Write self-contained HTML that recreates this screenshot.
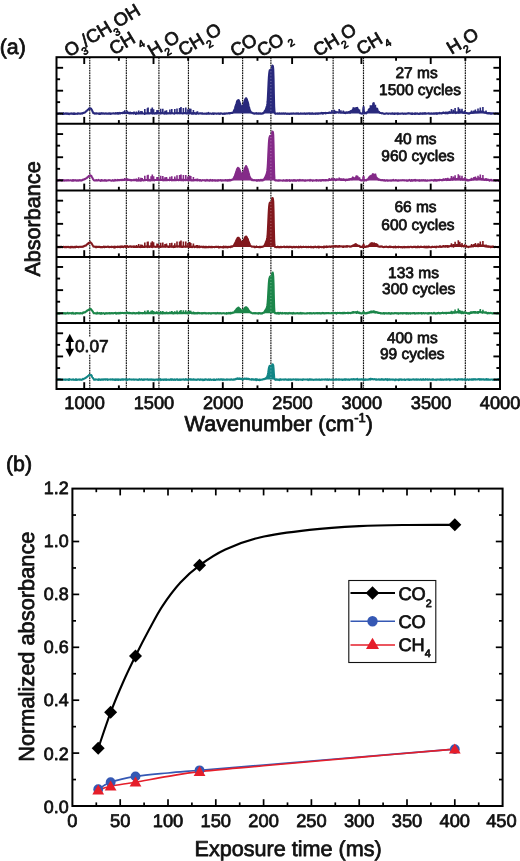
<!DOCTYPE html>
<html lang="en"><head><meta charset="utf-8"><title>Figure</title>
<style>html,body{margin:0;padding:0;background:#fff}svg{display:block}</style>
</head><body>
<svg width="520" height="861" viewBox="0 0 520 861" font-family='"Liberation Sans", Arial, Helvetica, sans-serif' fill="#111" text-rendering="geometricPrecision">
<style>text{stroke:#111;stroke-width:0.75px;stroke-linejoin:round}</style>
<rect width="520" height="861" fill="#fff"/>
<g stroke="#111" stroke-width="1.15" stroke-dasharray="1.8 0.7" fill="none">
<line x1="89.76" y1="57.2" x2="89.76" y2="389.0"/>
<line x1="126.35" y1="57.2" x2="126.35" y2="389.0"/>
<line x1="158.92" y1="57.2" x2="158.92" y2="389.0"/>
<line x1="188.44" y1="57.2" x2="188.44" y2="389.0"/>
<line x1="242.63" y1="57.2" x2="242.63" y2="389.0"/>
<line x1="270.90" y1="57.2" x2="270.90" y2="389.0"/>
<line x1="333.13" y1="57.2" x2="333.13" y2="389.0"/>
<line x1="363.49" y1="57.2" x2="363.49" y2="389.0"/>
<line x1="465.35" y1="57.2" x2="465.35" y2="389.0"/>
</g>
<path d="M118.7,113.6V112.8M120.7,113.4V112.2M123.5,112.9V111.6M124.8,112.6V110.3M127.1,113.0V110.5M130.3,113.3V111.8M131.5,113.2V112.0M133.3,113.6V113.0M134.1,113.3V111.6M136.4,113.4V111.5M138.7,113.6V110.4M140.9,113.5V111.0M142.2,113.6V111.3M144.8,113.6V108.9M147.4,113.5V108.2M148.1,113.0V107.4M151.1,113.2V108.8M152.3,113.1V107.6M153.6,113.4V109.2M157.0,113.2V109.9M158.1,113.3V110.3M160.7,112.9V108.8M162.8,113.0V108.7M165.0,113.4V110.7M166.5,113.4V110.3M169.9,113.2V109.6M171.8,113.1V108.9M174.8,113.0V109.0M177.0,113.3V108.4M179.6,113.2V108.1M181.0,113.2V107.0M183.4,113.4V108.0M185.8,113.0V107.5M187.9,113.1V109.2M189.7,113.5V108.5M190.8,113.1V108.7M193.4,113.6V110.1M196.4,113.5V111.8M197.5,113.4V111.3M200.1,113.4V112.5M202.4,113.6V112.9M204.3,113.6V113.1M206.0,113.6V112.9M322.4,113.6V113.1M324.1,113.3V112.8M326.5,113.1V112.3M329.3,112.9V111.7M331.9,112.8V110.0M334.3,112.3V109.7M335.5,112.5V110.8M339.2,112.3V109.1M340.9,112.4V110.3M343.3,112.8V110.6M345.4,113.2V111.7M348.5,112.2V111.4M350.4,112.2V111.1M353.3,109.3V107.3M356.2,109.3V107.0M359.5,112.3V109.4M367.6,112.0V110.9M370.4,108.9V105.2M372.7,108.1V105.1M375.4,107.5V104.8M378.4,111.8V110.7M438.7,113.4V112.9M441.4,113.4V112.6M443.6,113.0V111.6M445.9,112.9V111.5M447.8,113.4V111.7M451.4,112.2V109.0M453.3,112.4V109.7M455.1,112.4V108.0M458.3,112.5V107.3M459.8,112.5V108.7M462.0,111.9V108.7M464.8,112.6V110.6M469.0,113.6V113.1M471.6,112.8V110.5M473.9,112.6V110.5M475.4,112.2V109.6M478.0,112.0V108.6M480.3,112.0V107.6M482.9,111.5V107.0M486.0,112.4V110.6M487.8,113.5V112.5M490.8,113.4V113.0" fill="none" stroke="#29297c" stroke-width="1.6"/>
<path d="M56.5,113.5L56.8,113.4L57.1,113.6L57.4,113.9L57.7,113.6L58.0,113.8L58.3,113.5L58.6,113.8L58.9,113.4L59.2,113.5L59.5,113.2L59.8,113.5L60.1,113.4L60.4,113.7L60.7,113.7L61.0,113.3L61.3,113.6L61.6,113.5L61.9,113.5L62.2,113.4L62.5,114.0L62.8,114.0L63.1,113.5L63.4,113.1L63.7,114.0L64.0,113.7L64.3,113.6L64.6,113.7L64.9,113.7L65.2,113.7L65.5,113.4L65.8,113.6L66.1,113.6L66.4,113.9L66.7,113.5L67.0,113.2L67.3,113.5L67.6,113.7L67.9,113.9L68.2,113.5L68.5,113.5L68.8,113.7L69.1,114.1L69.4,113.8L69.7,113.8L70.0,113.8L70.3,113.6L70.6,113.8L70.9,113.7L71.2,113.3L71.5,113.8L71.8,113.6L72.1,113.5L72.4,113.8L72.7,113.9L73.0,113.6L73.3,113.4L73.6,114.0L73.9,113.7L74.2,113.7L74.5,113.3L74.8,114.0L75.1,113.7L75.4,113.9L75.7,113.8L76.0,113.6L76.3,113.7L76.6,113.7L76.9,113.8L77.2,114.0L77.5,113.4L77.8,113.3L78.1,113.6L78.4,113.7L78.7,113.3L79.0,113.5L79.3,113.5L79.6,113.4L79.9,113.8L80.2,113.7L80.5,113.5L80.8,113.8L81.1,113.5L81.4,113.4L81.7,113.3L82.0,113.3L82.3,113.6L82.6,113.3L82.9,113.1L83.2,112.9L83.5,112.8L83.8,112.9L84.1,112.8L84.4,112.8L84.7,112.5L85.0,112.4L85.3,112.3L85.6,111.9L85.9,111.4L86.2,111.0L86.5,111.0L86.8,110.9L87.1,110.5L87.4,110.1L87.7,109.9L88.0,109.7L88.3,109.6L88.6,109.4L88.9,108.6L89.2,108.7L89.5,108.9L89.8,108.4L90.1,108.7L90.4,108.4L90.7,108.5L91.0,108.4L91.3,108.9L91.6,109.4L91.9,109.9L92.2,110.5L92.5,111.7L92.8,111.7L93.1,112.9L93.4,113.1L93.7,113.2L94.0,113.2L94.3,113.4L94.6,113.6L94.9,113.3L95.2,113.6L95.5,113.6L95.8,113.4L96.1,113.8L96.4,113.2L96.7,113.3L97.0,113.6L97.3,113.6L97.6,113.6L97.9,113.5L98.2,113.5L98.5,113.8L98.8,113.8L99.1,113.4L99.4,113.9L99.7,113.8L100.0,113.4L100.3,113.9L100.6,113.5L100.9,113.4L101.2,113.1L101.5,113.3L101.8,113.6L102.1,113.8L102.4,113.3L102.7,113.3L103.0,113.3L103.3,113.3L103.6,113.6L103.9,113.7L104.2,113.8L104.5,113.5L104.8,113.4L105.1,113.7L105.4,113.6L105.7,113.4L106.0,113.3L106.3,113.7L106.6,113.6L106.9,113.8L107.2,113.8L107.5,113.4L107.8,113.4L108.1,113.7L108.4,113.6L108.7,113.7L109.0,113.2L109.3,113.7L109.6,113.7L109.9,113.8L110.2,113.4L110.5,113.7L110.8,114.0L111.1,113.5L111.4,113.5L111.7,113.6L112.0,113.5L112.3,113.5L112.6,113.5L112.9,113.3L113.2,113.4L113.5,113.3L113.8,113.4L114.1,113.4L114.4,113.5L114.7,113.5L115.0,113.7L115.3,113.2L115.6,113.0L115.9,113.5L116.2,113.6L116.5,113.3L116.8,113.5L117.1,113.2L117.4,113.7L117.7,113.0L118.0,113.0L118.3,113.2L118.6,113.7L118.9,113.3L119.2,112.9L119.5,113.2L119.8,113.4L120.1,113.2L120.4,113.2L120.7,113.4L121.0,113.1L121.3,112.9L121.6,112.9L121.9,112.9L122.2,113.0L122.5,113.2L122.8,113.0L123.1,112.6L123.4,112.9L123.7,112.8L124.0,113.2L124.3,112.7L124.6,112.9L124.9,112.6L125.2,113.0L125.5,113.0L125.8,113.0L126.1,113.1L126.4,113.0L126.7,112.9L127.0,113.0L127.3,112.9L127.6,112.6L127.9,112.9L128.2,112.9L128.5,113.1L128.8,112.6L129.1,113.2L129.4,113.5L129.7,113.0L130.0,113.0L130.3,113.3L130.6,112.8L130.9,113.5L131.2,113.5L131.5,113.2L131.8,113.3L132.1,113.3L132.4,113.1L132.7,113.3L133.0,113.0L133.3,113.6L133.6,113.2L133.9,112.9L134.2,113.3L134.5,113.2L134.8,113.1L135.1,113.3L135.4,113.4L135.7,113.9L136.0,113.5L136.3,113.2L136.6,113.4L136.9,113.6L137.2,113.3L137.5,113.4L137.8,113.3L138.1,113.4L138.4,113.3L138.7,113.6L139.0,113.0L139.3,113.3L139.6,113.5L139.9,113.3L140.2,113.4L140.5,113.4L140.8,113.5L141.1,113.5L141.4,113.5L141.7,113.5L142.0,113.3L142.3,113.6L142.6,113.5L142.9,113.4L143.2,113.6L143.5,113.4L143.8,113.4L144.1,113.4L144.4,113.4L144.7,114.0L145.0,113.4L145.3,113.3L145.6,113.5L145.9,113.2L146.2,113.4L146.5,113.6L146.8,113.5L147.1,113.4L147.4,113.5L147.7,113.5L148.0,113.2L148.3,113.0L148.6,113.5L148.9,113.5L149.2,113.0L149.5,113.4L149.8,113.4L150.1,113.4L150.4,113.3L150.7,113.2L151.0,113.2L151.3,113.0L151.6,113.1L151.9,113.1L152.2,113.6L152.5,113.1L152.8,112.7L153.1,113.4L153.4,113.0L153.7,113.4L154.0,113.3L154.3,113.4L154.6,113.6L154.9,113.3L155.2,113.4L155.5,113.0L155.8,113.5L156.1,113.6L156.4,112.8L156.7,113.2L157.0,113.2L157.3,112.7L157.6,113.3L157.9,113.5L158.2,113.3L158.5,113.2L158.8,113.3L159.1,113.1L159.4,113.5L159.7,113.0L160.0,113.2L160.3,113.3L160.6,112.9L160.9,113.6L161.2,113.3L161.5,112.9L161.8,113.1L162.1,113.1L162.4,113.3L162.7,113.0L163.0,113.1L163.3,113.4L163.6,113.4L163.9,113.4L164.2,113.2L164.5,113.4L164.8,113.8L165.1,113.4L165.4,113.2L165.7,113.1L166.0,113.2L166.3,113.6L166.6,113.4L166.9,113.1L167.2,113.5L167.4,113.3L167.7,113.4L168.0,113.2L168.3,113.2L168.6,113.4L168.9,113.1L169.2,113.3L169.5,113.4L169.8,113.2L170.1,113.0L170.4,113.4L170.7,113.4L171.0,113.1L171.3,113.4L171.6,113.1L171.9,112.9L172.2,113.2L172.5,113.2L172.8,113.3L173.1,113.2L173.4,113.5L173.7,113.5L174.0,113.3L174.3,113.7L174.6,113.0L174.9,112.9L175.2,113.2L175.5,113.3L175.8,113.3L176.1,113.2L176.4,113.3L176.7,113.0L177.0,113.3L177.3,113.1L177.6,113.3L177.9,113.5L178.2,113.0L178.5,113.0L178.8,113.2L179.1,113.2L179.4,113.2L179.7,113.2L180.0,113.4L180.3,113.1L180.6,113.1L180.9,113.2L181.2,113.3L181.5,113.3L181.8,113.3L182.1,113.2L182.4,113.5L182.7,113.5L183.0,113.2L183.3,113.4L183.6,113.0L183.9,113.3L184.2,113.3L184.5,113.0L184.8,113.0L185.1,113.2L185.4,113.3L185.7,113.0L186.0,113.5L186.3,113.5L186.6,113.3L186.9,113.6L187.2,113.5L187.5,113.2L187.8,113.1L188.1,113.3L188.4,113.3L188.7,113.5L189.0,113.1L189.3,113.3L189.6,113.5L189.9,113.4L190.2,113.3L190.5,113.2L190.8,113.1L191.1,113.3L191.4,113.7L191.7,113.4L192.0,113.2L192.3,113.6L192.6,113.3L192.9,113.8L193.2,113.1L193.5,113.6L193.8,113.3L194.1,113.5L194.4,113.0L194.7,113.5L195.0,113.3L195.3,113.8L195.6,113.5L195.9,113.7L196.2,113.9L196.5,113.5L196.8,113.6L197.1,113.2L197.4,113.4L197.7,113.6L198.0,113.4L198.3,113.4L198.6,113.7L198.9,113.4L199.2,113.5L199.5,113.4L199.8,113.4L200.1,113.4L200.4,113.4L200.7,113.4L201.0,113.4L201.3,113.3L201.6,113.7L201.9,113.7L202.2,113.4L202.5,113.6L202.8,113.4L203.1,113.7L203.4,113.8L203.7,113.7L204.0,113.7L204.3,113.7L204.6,113.5L204.9,113.8L205.2,113.8L205.5,113.7L205.8,113.6L206.1,113.4L206.4,113.6L206.7,113.9L207.0,113.3L207.3,113.6L207.6,113.4L207.9,113.6L208.2,113.7L208.5,112.9L208.8,113.8L209.1,113.5L209.4,113.5L209.7,113.7L210.0,113.4L210.3,113.4L210.6,113.6L210.9,113.5L211.2,113.7L211.5,113.8L211.8,113.9L212.1,113.5L212.4,113.7L212.7,113.4L213.0,113.7L213.3,113.4L213.6,113.9L213.9,113.5L214.2,113.8L214.5,113.7L214.8,113.3L215.1,113.5L215.4,113.5L215.7,113.6L216.0,113.6L216.3,113.9L216.6,113.6L216.9,113.6L217.2,113.4L217.5,113.5L217.8,113.7L218.1,113.6L218.4,113.6L218.7,113.7L219.0,113.3L219.3,113.8L219.6,113.7L219.9,114.0L220.2,113.7L220.5,113.3L220.8,113.3L221.1,113.5L221.4,113.6L221.7,113.5L222.0,113.6L222.3,113.7L222.6,113.9L222.9,114.0L223.2,113.8L223.5,113.6L223.8,113.5L224.1,113.9L224.4,113.6L224.7,113.6L225.0,113.2L225.3,113.6L225.6,113.8L225.9,113.5L226.2,113.5L226.5,113.4L226.8,113.3L227.1,113.4L227.4,113.6L227.7,113.5L228.0,113.4L228.3,113.3L228.6,113.1L228.9,113.4L229.2,113.2L229.5,113.0L229.8,113.5L230.1,113.4L230.4,113.0L230.7,113.1L231.0,113.0L231.3,113.1L231.6,112.7L231.9,113.0L232.2,112.9L232.5,112.9L232.8,112.6L233.1,112.3L233.4,111.7L233.7,111.4L234.0,110.3L234.3,110.4L234.6,109.5L234.9,108.6L235.2,107.4L235.5,106.6L235.8,105.3L236.1,104.5L236.4,103.8L236.7,102.7L237.0,101.6L237.3,101.1L237.6,100.4L237.9,100.4L238.2,100.0L238.5,100.1L238.8,100.2L239.1,101.0L239.4,101.9L239.7,102.2L240.0,103.1L240.3,103.9L240.6,105.0L240.9,105.8L241.2,106.4L241.5,106.7L241.8,106.9L242.1,107.4L242.4,107.1L242.7,106.9L243.0,106.2L243.3,105.3L243.6,104.4L243.9,103.5L244.2,102.3L244.5,101.2L244.8,100.8L245.1,99.4L245.4,99.1L245.7,98.4L246.0,98.3L246.3,98.2L246.6,99.1L246.9,99.3L247.2,100.4L247.5,101.6L247.8,102.1L248.1,103.3L248.4,104.5L248.7,106.0L249.0,107.1L249.3,108.1L249.6,109.4L249.9,109.9L250.2,111.0L250.5,111.5L250.8,111.8L251.1,112.2L251.4,112.5L251.7,112.6L252.0,112.6L252.3,113.0L252.6,112.9L252.9,113.2L253.2,113.3L253.5,113.5L253.8,113.4L254.1,113.2L254.4,113.7L254.7,113.6L255.0,113.6L255.3,113.4L255.6,113.3L255.9,113.5L256.2,113.7L256.5,113.1L256.8,113.4L257.1,113.5L257.4,113.6L257.7,113.7L258.0,113.3L258.3,113.7L258.6,113.6L258.9,113.2L259.2,113.8L259.5,113.5L259.8,113.5L260.1,113.5L260.4,113.2L260.7,113.8L261.0,113.5L261.3,113.5L261.6,113.4L261.9,113.8L262.2,113.8L262.5,113.3L262.8,113.1L263.1,113.5L263.4,112.7L263.7,112.9L264.0,112.2L264.3,112.1L264.6,111.3L264.9,110.8L265.2,110.4L265.5,110.1L265.8,109.5L266.1,108.4L266.4,107.8L266.7,106.6L267.0,105.7L267.3,103.9L267.6,101.2L267.9,96.0L268.2,89.8L268.5,83.1L268.8,77.6L269.1,74.1L269.4,71.7L269.7,70.3L270.0,70.2L270.3,69.9L270.6,71.0L270.9,75.1L271.2,85.7L271.5,79.5L271.8,70.3L272.1,66.5L272.4,65.5L272.7,65.6L273.0,66.3L273.3,69.4L273.6,78.5L273.9,94.0L274.2,106.3L274.5,111.1L274.8,112.8L275.1,113.6L275.4,113.9L275.7,113.6L276.0,113.4L276.3,113.6L276.6,113.6L276.9,113.7L277.2,113.8L277.5,113.4L277.8,113.7L278.1,113.7L278.4,113.7L278.7,113.5L279.0,113.8L279.3,113.3L279.6,113.6L279.9,113.4L280.2,113.7L280.5,113.7L280.8,113.5L281.1,113.7L281.4,113.7L281.7,113.4L282.0,113.8L282.3,113.5L282.6,113.8L282.9,113.5L283.2,113.6L283.5,113.5L283.8,113.3L284.1,113.9L284.4,113.6L284.7,113.8L285.0,113.5L285.3,113.6L285.6,113.2L285.9,113.5L286.2,113.8L286.5,113.7L286.8,113.9L287.1,113.6L287.4,113.8L287.7,113.9L288.0,114.0L288.3,113.6L288.6,113.8L288.9,113.9L289.2,113.6L289.5,113.7L289.8,113.9L290.1,113.5L290.4,113.6L290.7,113.8L291.0,113.9L291.3,113.8L291.6,113.6L291.9,113.4L292.2,113.6L292.5,113.5L292.8,113.8L293.1,113.8L293.4,113.4L293.7,113.6L294.0,113.6L294.3,113.5L294.6,113.7L294.9,113.7L295.2,113.4L295.5,113.4L295.8,113.5L296.1,113.8L296.4,113.6L296.7,113.5L297.0,113.2L297.3,113.7L297.6,113.7L297.9,113.6L298.2,113.3L298.5,113.7L298.8,113.7L299.1,113.9L299.4,113.8L299.7,113.7L300.0,113.6L300.3,113.7L300.6,113.6L300.9,113.3L301.2,113.8L301.5,113.5L301.8,113.7L302.1,113.6L302.4,113.6L302.7,113.6L303.0,113.7L303.3,113.8L303.6,113.5L303.9,113.6L304.2,113.8L304.5,113.3L304.8,113.6L305.1,113.7L305.4,113.9L305.7,113.5L306.0,113.6L306.3,113.7L306.6,113.5L306.9,113.3L307.2,113.7L307.5,113.8L307.8,113.6L308.1,113.4L308.4,113.3L308.7,113.5L309.0,113.6L309.3,113.7L309.6,113.3L309.9,113.9L310.2,113.3L310.5,113.5L310.8,113.5L311.1,113.9L311.4,113.6L311.7,113.4L312.0,113.3L312.3,113.7L312.6,113.2L312.9,113.7L313.2,113.9L313.5,113.8L313.8,113.7L314.1,113.6L314.4,113.7L314.7,113.6L315.0,113.6L315.3,113.5L315.6,113.9L315.9,113.6L316.2,113.2L316.5,113.6L316.8,113.6L317.1,113.9L317.4,113.5L317.7,113.3L318.0,113.3L318.3,113.7L318.6,113.8L318.9,113.3L319.2,113.3L319.5,113.6L319.8,113.5L320.1,113.3L320.4,113.5L320.7,113.6L321.0,113.3L321.3,112.9L321.6,113.3L321.9,113.4L322.2,113.3L322.5,113.6L322.8,113.0L323.1,113.6L323.4,113.2L323.7,113.0L324.0,113.3L324.3,113.0L324.6,112.9L324.9,113.1L325.2,113.1L325.5,112.9L325.8,113.4L326.1,113.0L326.4,113.1L326.7,113.0L327.0,113.1L327.3,112.9L327.6,112.9L327.9,113.0L328.2,112.9L328.5,113.0L328.8,113.0L329.1,112.6L329.4,112.9L329.7,112.8L330.0,112.8L330.3,112.6L330.6,112.9L330.9,112.9L331.2,112.7L331.5,112.7L331.8,112.8L332.1,112.5L332.4,112.4L332.7,112.4L333.0,112.4L333.3,112.4L333.6,112.4L333.9,112.4L334.2,112.3L334.5,112.4L334.8,112.9L335.1,112.7L335.4,112.5L335.7,112.4L336.0,112.7L336.3,112.3L336.6,112.4L336.9,112.0L337.2,112.5L337.5,112.2L337.8,112.3L338.1,112.3L338.4,112.5L338.7,112.7L339.0,112.6L339.3,112.3L339.6,112.4L339.9,112.5L340.2,112.6L340.5,112.8L340.8,112.4L341.1,112.6L341.4,112.6L341.7,112.7L342.0,112.6L342.3,112.7L342.6,112.8L342.9,112.6L343.2,112.8L343.5,112.3L343.8,112.6L344.1,112.4L344.4,112.9L344.7,112.8L345.0,112.8L345.3,113.2L345.6,112.8L345.9,112.6L346.2,112.8L346.5,112.4L346.8,112.3L347.1,112.8L347.4,112.7L347.7,112.6L348.0,112.3L348.3,112.4L348.6,112.2L348.9,112.0L349.2,112.4L349.5,111.9L349.8,112.4L350.1,112.7L350.4,112.2L350.7,111.0L351.0,111.0L351.3,111.0L351.6,111.1L351.9,111.0L352.2,111.0L352.5,109.9L352.8,109.6L353.1,109.8L353.4,109.3L353.7,109.0L354.0,108.5L354.3,109.0L354.6,108.5L354.9,108.4L355.2,111.1L355.5,111.0L355.8,110.8L356.1,109.7L356.4,109.3L356.7,109.9L357.0,108.1L357.3,107.9L357.6,108.4L357.9,109.5L358.2,109.6L358.5,110.4L358.8,111.4L359.1,111.7L359.4,112.3L359.7,112.5L360.0,112.7L360.3,113.3L360.6,113.0L360.9,113.3L361.2,113.5L361.5,113.4L361.8,113.4L362.1,113.7L362.4,113.6L362.7,113.4L363.0,113.0L363.3,108.8L363.6,107.0L363.9,111.7L364.2,113.4L364.5,113.2L364.8,113.1L365.1,113.1L365.4,113.3L365.7,112.9L366.0,112.5L366.3,113.4L366.6,112.9L366.9,112.5L367.2,112.1L367.5,112.0L367.8,112.0L368.1,111.5L368.4,110.8L368.7,109.8L369.0,109.7L369.3,109.0L369.6,109.7L369.9,109.3L370.2,108.6L370.5,108.9L370.8,108.1L371.1,107.6L371.4,107.2L371.7,106.4L372.0,106.0L372.3,108.1L372.6,108.1L372.9,108.2L373.2,103.5L373.5,103.2L373.8,103.0L374.1,108.4L374.4,109.2L374.7,109.1L375.0,107.2L375.3,107.5L375.6,108.0L375.9,110.3L376.2,109.9L376.5,110.4L376.8,108.9L377.1,108.6L377.4,109.2L377.7,111.1L378.0,111.3L378.3,111.8L378.6,111.7L378.9,111.7L379.2,112.2L379.5,112.5L379.8,112.8L380.1,112.9L380.4,112.9L380.7,113.0L381.0,113.1L381.3,113.1L381.6,113.2L381.9,113.4L382.2,113.0L382.5,113.3L382.8,113.3L383.1,113.5L383.4,113.4L383.7,113.5L384.0,113.9L384.3,113.7L384.6,113.8L384.9,113.7L385.2,113.6L385.5,113.7L385.8,113.6L386.1,113.5L386.4,113.2L386.7,113.6L387.0,113.5L387.3,113.4L387.6,113.6L387.9,113.8L388.2,113.6L388.5,113.9L388.8,113.5L389.1,113.6L389.3,113.6L389.6,113.5L389.9,113.5L390.2,113.5L390.5,113.8L390.8,113.5L391.1,113.5L391.4,113.4L391.7,113.7L392.0,113.7L392.3,113.3L392.6,113.6L392.9,113.4L393.2,113.7L393.5,113.6L393.8,113.9L394.1,113.5L394.4,113.7L394.7,114.0L395.0,113.3L395.3,113.6L395.6,113.4L395.9,113.6L396.2,113.5L396.5,113.6L396.8,113.6L397.1,113.8L397.4,113.7L397.7,113.2L398.0,114.1L398.3,113.6L398.6,113.8L398.9,113.5L399.2,113.7L399.5,113.7L399.8,113.7L400.1,113.5L400.4,113.6L400.7,113.7L401.0,113.7L401.3,113.5L401.6,113.6L401.9,113.6L402.2,113.6L402.5,113.6L402.8,113.4L403.1,113.8L403.4,113.9L403.7,113.7L404.0,113.6L404.3,113.7L404.6,113.5L404.9,113.5L405.2,113.8L405.5,113.9L405.8,113.5L406.1,113.8L406.4,113.8L406.7,113.8L407.0,113.4L407.3,113.3L407.6,113.5L407.9,113.6L408.2,113.4L408.5,113.1L408.8,113.4L409.1,113.6L409.4,113.6L409.7,113.2L410.0,113.6L410.3,113.6L410.6,113.7L410.9,113.5L411.2,113.3L411.5,113.9L411.8,113.7L412.1,113.7L412.4,113.9L412.7,113.3L413.0,113.8L413.3,113.7L413.6,113.7L413.9,113.8L414.2,113.6L414.5,114.0L414.8,113.4L415.1,114.0L415.4,113.7L415.7,113.3L416.0,113.8L416.3,113.4L416.6,113.5L416.9,113.8L417.2,113.3L417.5,113.6L417.8,113.6L418.1,113.7L418.4,113.9L418.7,113.7L419.0,113.7L419.3,113.8L419.6,114.0L419.9,113.4L420.2,113.8L420.5,113.8L420.8,113.3L421.1,113.3L421.4,113.7L421.7,113.7L422.0,113.6L422.3,113.9L422.6,113.4L422.9,113.6L423.2,113.4L423.5,113.8L423.8,113.3L424.1,113.7L424.4,113.4L424.7,113.7L425.0,113.1L425.3,113.5L425.6,113.2L425.9,113.8L426.2,113.4L426.5,113.5L426.8,113.6L427.1,113.6L427.4,113.5L427.7,113.5L428.0,113.3L428.3,113.6L428.6,113.3L428.9,113.4L429.2,113.4L429.5,113.7L429.8,113.3L430.1,113.6L430.4,113.5L430.7,113.7L431.0,113.5L431.3,113.3L431.6,113.6L431.9,113.8L432.2,113.8L432.5,113.5L432.8,113.6L433.1,113.7L433.4,113.4L433.7,113.3L434.0,113.7L434.3,113.5L434.6,113.3L434.9,113.4L435.2,113.7L435.5,113.6L435.8,113.6L436.1,113.1L436.4,113.5L436.7,113.9L437.0,113.2L437.3,113.3L437.6,113.6L437.9,113.4L438.2,113.3L438.5,113.3L438.8,113.4L439.1,113.5L439.4,112.9L439.7,113.1L440.0,113.3L440.3,113.4L440.6,113.3L440.9,113.3L441.2,113.4L441.5,113.3L441.8,113.4L442.1,112.9L442.4,113.0L442.7,112.8L443.0,112.9L443.3,113.0L443.6,113.0L443.9,112.9L444.2,113.0L444.5,113.1L444.8,113.1L445.1,113.4L445.4,113.0L445.7,113.3L446.0,112.9L446.3,112.9L446.6,113.2L446.9,112.7L447.2,112.9L447.5,112.8L447.8,113.4L448.1,113.2L448.4,113.0L448.7,112.7L449.0,112.7L449.3,111.9L449.6,112.5L449.9,112.8L450.2,112.6L450.5,112.7L450.8,112.5L451.1,112.4L451.4,112.2L451.7,112.3L452.0,112.6L452.3,112.7L452.6,112.8L452.9,112.8L453.2,112.4L453.5,112.0L453.8,112.2L454.1,112.5L454.4,112.6L454.7,112.3L455.0,112.4L455.3,112.3L455.6,112.3L455.9,113.1L456.2,112.9L456.5,112.6L456.8,112.3L457.1,112.3L457.4,112.4L457.7,112.4L458.0,112.4L458.3,112.5L458.6,112.8L458.9,112.6L459.2,112.0L459.5,112.0L459.8,112.5L460.1,112.5L460.4,112.1L460.7,112.0L461.0,112.2L461.3,111.3L461.6,111.8L461.9,111.9L462.2,112.3L462.5,112.6L462.8,112.6L463.1,112.8L463.4,112.3L463.7,112.7L464.0,113.0L464.3,112.7L464.6,113.0L464.9,112.6L465.2,112.5L465.5,112.7L465.8,113.1L466.1,113.1L466.4,113.0L466.7,113.0L467.0,113.2L467.3,113.1L467.6,113.4L467.9,113.5L468.2,113.4L468.5,113.2L468.8,113.4L469.1,113.8L469.4,113.2L469.7,113.3L470.0,113.2L470.3,112.7L470.6,112.8L470.9,112.5L471.2,113.0L471.5,112.8L471.8,112.7L472.1,112.5L472.4,112.5L472.7,112.9L473.0,112.5L473.3,112.1L473.6,112.2L473.9,112.6L474.2,112.0L474.5,112.3L474.8,112.6L475.1,112.5L475.4,112.2L475.7,111.9L476.0,112.0L476.3,112.1L476.6,112.2L476.9,112.5L477.2,112.3L477.5,112.2L477.8,112.2L478.1,112.0L478.4,112.2L478.7,112.1L479.0,112.2L479.3,111.7L479.6,111.6L479.9,111.8L480.2,112.0L480.5,112.1L480.8,111.9L481.1,111.5L481.4,111.6L481.7,111.5L482.0,111.5L482.3,111.6L482.6,111.7L482.9,111.5L483.2,112.2L483.5,112.0L483.8,112.1L484.1,112.4L484.4,112.3L484.7,112.5L485.0,112.8L485.3,112.4L485.6,112.6L485.9,112.4L486.2,112.5L486.5,113.2L486.8,112.9L487.1,113.2L487.4,113.3L487.7,113.5L488.0,113.4L488.3,113.2L488.6,113.5L488.9,113.0L489.2,113.1L489.5,113.0L489.8,113.2L490.1,113.6L490.4,113.7L490.7,113.4L491.0,113.0L491.3,113.7L491.6,113.5L491.9,113.4L492.2,113.6L492.5,113.2L492.8,113.2L493.1,113.2L493.4,113.3L493.7,113.3L494.0,113.5L494.3,113.5L494.6,113.6L494.9,113.8L495.2,113.5L495.5,113.7L495.8,113.3L496.1,113.6L496.4,113.5L496.7,113.5L497.0,113.3L497.3,113.5L497.6,113.7L497.9,113.4L498.2,113.5L498.5,114.0L498.8,114.1L499.1,113.7L499.4,113.4L499.7,113.6L500.0,113.7" fill="none" stroke="#29297c" stroke-width="2.0" stroke-linejoin="round"/>
<path d="M228.6,113.6L228.6,113.1L229.2,113.2L229.8,113.5L230.4,113.0L231.0,113.0L231.6,112.7L232.2,112.9L232.8,112.6L233.4,111.7L234.0,110.3L234.6,109.5L235.2,107.4L235.8,105.3L236.4,103.8L237.0,101.6L237.6,100.4L238.2,100.0L238.8,100.2L239.4,101.9L240.0,103.1L240.6,105.0L241.2,106.4L241.8,106.9L242.4,107.1L243.0,106.2L243.6,104.4L244.2,102.3L244.8,100.8L245.4,99.1L246.0,98.3L246.6,99.1L247.2,100.4L247.8,102.1L248.4,104.5L249.0,107.1L249.6,109.4L250.2,111.0L250.8,111.8L251.4,112.5L252.0,112.6L252.6,112.9L253.2,113.3L253.8,113.4L254.4,113.6L255.0,113.6L255.6,113.3L256.2,113.6L256.8,113.4L257.4,113.6L257.4,113.6ZM262.5,113.6L262.5,113.3L263.1,113.5L263.7,112.9L264.3,112.1L264.9,110.8L265.5,110.1L266.1,108.4L266.7,106.6L267.3,103.9L267.9,96.0L268.5,83.1L269.1,74.1L269.7,70.3L270.3,69.9L270.9,75.1L271.5,79.5L272.1,66.5L272.7,65.6L273.3,69.4L273.9,94.0L274.5,111.1L275.1,113.6L275.7,113.6L276.3,113.6L276.9,113.6L277.5,113.4L278.1,113.6L278.1,113.6ZM343.5,113.6L343.5,112.3L344.1,112.4L344.7,112.8L345.3,113.2L345.9,112.6L346.5,112.4L347.1,112.8L347.7,112.6L348.3,112.4L348.9,112.0L349.5,111.9L350.1,112.7L350.7,111.0L351.3,111.0L351.9,111.0L352.5,109.9L353.1,109.8L353.7,109.0L354.3,109.0L354.9,108.4L355.5,111.0L356.1,109.7L356.7,109.9L357.3,107.9L357.9,109.5L358.5,110.4L359.1,111.7L359.7,112.5L360.3,113.3L360.9,113.3L361.5,113.4L362.1,113.6L362.7,113.4L363.3,108.8L363.9,111.7L364.5,113.2L365.1,113.1L365.7,112.9L366.3,113.4L366.9,112.5L367.5,112.0L368.1,111.5L368.7,109.8L369.3,109.0L369.9,109.3L370.5,108.9L371.1,107.6L371.7,106.4L372.3,108.1L372.9,108.2L373.5,103.2L374.1,108.4L374.7,109.1L375.3,107.5L375.9,110.3L376.5,110.4L377.1,108.6L377.7,111.1L378.3,111.8L378.9,111.7L379.5,112.5L380.1,112.9L380.7,113.0L381.3,113.1L381.9,113.4L382.5,113.3L383.1,113.5L383.7,113.5L384.3,113.6L384.9,113.6L385.5,113.6L386.1,113.5L386.7,113.6L387.3,113.4L387.6,113.6ZM439.1,113.6L439.1,113.5L439.7,113.1L440.3,113.4L440.9,113.3L441.5,113.3L442.1,112.9L442.7,112.8L443.3,113.0L443.9,112.9L444.5,113.1L445.1,113.4L445.7,113.3L446.3,112.9L446.9,112.7L447.5,112.8L448.1,113.2L448.7,112.7L449.3,111.9L449.9,112.8L450.5,112.7L451.1,112.4L451.7,112.3L452.3,112.7L452.9,112.8L453.5,112.0L454.1,112.5L454.7,112.3L455.3,112.3L455.9,113.1L456.5,112.6L457.1,112.3L457.7,112.4L458.3,112.5L458.9,112.6L459.5,112.0L460.1,112.5L460.7,112.0L461.3,111.3L461.9,111.9L462.5,112.6L463.1,112.8L463.7,112.7L464.3,112.7L464.9,112.6L465.5,112.7L466.1,113.1L466.7,113.0L467.3,113.1L467.9,113.5L468.5,113.2L469.1,113.6L469.7,113.3L470.3,112.7L470.9,112.5L471.5,112.8L472.1,112.5L472.7,112.9L473.3,112.1L473.9,112.6L474.5,112.3L475.1,112.5L475.7,111.9L476.3,112.1L476.9,112.5L477.5,112.2L478.1,112.0L478.7,112.1L479.3,111.7L479.9,111.8L480.5,112.1L481.1,111.5L481.7,111.5L482.3,111.6L482.9,111.5L483.5,112.0L484.1,112.4L484.7,112.5L485.3,112.4L485.9,112.4L486.5,113.2L487.1,113.2L487.7,113.5L488.3,113.2L488.9,113.0L489.5,113.0L490.1,113.6L490.7,113.4L491.3,113.6L491.9,113.4L492.5,113.2L493.1,113.2L493.7,113.3L494.3,113.5L494.3,113.6Z" fill="#29297c" stroke="none"/>
<path d="M118.7,180.2V179.5M120.7,180.0V179.1M123.5,180.0V179.0M124.8,179.9V178.1M127.1,180.2V178.3M130.3,180.1V178.9M131.5,180.4V179.5M133.3,180.2V179.8M134.1,180.2V178.7M136.4,180.4V178.6M138.7,180.3V177.3M140.9,180.2V177.8M142.2,180.2V178.1M144.8,180.2V175.7M147.4,180.3V175.3M148.1,180.1V174.8M151.1,180.4V176.3M152.3,179.9V174.6M153.6,180.2V176.2M157.0,180.1V177.0M158.1,179.9V177.0M160.7,179.7V175.8M162.8,180.1V176.0M165.0,179.8V177.3M166.5,179.9V177.0M169.9,180.0V176.7M171.8,180.2V176.2M174.8,180.2V176.5M177.0,179.8V175.2M179.6,179.8V175.0M181.0,180.3V174.4M183.4,180.0V174.9M185.8,180.3V175.0M187.9,180.3V176.6M189.7,180.2V175.4M190.8,180.2V176.1M193.4,180.2V176.9M196.4,180.3V178.7M197.5,180.4V178.5M200.1,180.1V179.3M202.4,180.3V179.7M206.0,180.4V179.7M326.5,180.1V179.5M329.3,179.1V178.3M331.9,179.7V177.7M334.3,179.7V177.9M335.5,180.1V178.9M339.2,179.8V177.6M340.9,179.9V178.5M343.3,179.7V178.2M345.4,180.0V179.1M348.5,179.4V178.9M350.4,178.9V178.1M353.3,178.5V177.2M356.2,177.0V175.5M359.5,179.3V177.3M367.6,179.6V178.9M370.4,177.9V175.4M372.7,175.3V173.3M375.4,175.2V173.4M378.4,179.5V178.8M438.7,180.1V179.6M441.4,179.9V179.1M443.6,179.8V178.4M445.9,179.4V178.1M447.8,179.4V177.8M451.4,179.1V176.1M453.3,179.0V176.5M455.1,179.3V175.2M458.3,179.2V174.3M459.8,178.9V175.4M462.0,178.8V175.8M464.8,179.2V177.2M469.0,180.1V179.6M471.6,179.9V177.7M473.9,179.0V177.0M475.4,179.0V176.6M478.0,179.1V175.8M480.3,178.7V174.6M482.9,179.4V175.1M486.0,179.8V178.1M487.8,179.7V178.8" fill="none" stroke="#842a88" stroke-width="1.6"/>
<path d="M56.5,180.5L56.8,180.5L57.1,180.0L57.4,180.5L57.7,180.7L58.0,180.3L58.3,180.4L58.6,180.3L58.9,180.5L59.2,180.1L59.5,180.3L59.8,179.9L60.1,180.3L60.4,180.3L60.7,180.1L61.0,180.2L61.3,180.6L61.6,180.2L61.9,180.5L62.2,180.1L62.5,180.5L62.8,180.3L63.1,180.6L63.4,180.3L63.7,180.1L64.0,180.2L64.3,180.5L64.6,180.7L64.9,180.3L65.2,180.5L65.5,180.6L65.8,180.3L66.1,180.6L66.4,180.2L66.7,180.2L67.0,180.4L67.3,180.6L67.6,180.4L67.9,180.1L68.2,180.4L68.5,180.1L68.8,180.4L69.1,180.4L69.4,180.4L69.7,180.4L70.0,180.3L70.3,180.2L70.6,180.2L70.9,180.4L71.2,180.6L71.5,180.5L71.8,180.6L72.1,180.8L72.4,180.4L72.7,180.6L73.0,180.0L73.3,180.5L73.6,180.7L73.9,180.3L74.2,180.4L74.5,180.2L74.8,180.4L75.1,180.0L75.4,180.5L75.7,180.3L76.0,180.5L76.3,180.5L76.6,180.7L76.9,180.3L77.2,180.7L77.5,180.3L77.8,180.3L78.1,180.3L78.4,180.7L78.7,180.2L79.0,180.5L79.3,180.3L79.6,180.4L79.9,180.0L80.2,180.5L80.5,180.4L80.8,180.2L81.1,180.6L81.4,180.3L81.7,180.3L82.0,180.1L82.3,180.2L82.6,179.7L82.9,179.6L83.2,179.7L83.5,179.8L83.8,179.6L84.1,179.2L84.4,179.1L84.7,179.2L85.0,179.2L85.3,178.7L85.6,178.6L85.9,178.5L86.2,178.3L86.5,178.3L86.8,178.1L87.1,177.8L87.4,177.3L87.7,177.0L88.0,177.0L88.3,176.7L88.6,176.1L88.9,176.4L89.2,176.1L89.5,176.1L89.8,175.4L90.1,175.8L90.4,175.3L90.7,175.4L91.0,175.8L91.3,175.8L91.6,176.4L91.9,176.9L92.2,177.6L92.5,178.1L92.8,178.7L93.1,179.4L93.4,179.5L93.7,180.1L94.0,180.4L94.3,180.3L94.6,180.5L94.9,180.5L95.2,180.6L95.5,180.2L95.8,180.2L96.1,180.5L96.4,180.1L96.7,180.4L97.0,180.5L97.3,180.6L97.6,180.3L97.9,180.4L98.2,180.3L98.5,179.8L98.8,180.2L99.1,180.4L99.4,180.6L99.7,180.5L100.0,180.5L100.3,180.5L100.6,180.9L100.9,180.4L101.2,180.6L101.5,180.0L101.8,180.4L102.1,180.2L102.4,180.3L102.7,180.6L103.0,180.4L103.3,180.5L103.6,180.5L103.9,180.4L104.2,180.8L104.5,180.1L104.8,180.3L105.1,180.4L105.4,180.1L105.7,180.6L106.0,180.9L106.3,180.3L106.6,180.6L106.9,180.4L107.2,180.5L107.5,180.4L107.8,180.6L108.1,180.4L108.4,180.2L108.7,180.3L109.0,180.0L109.3,180.3L109.6,180.3L109.9,180.3L110.2,180.3L110.5,180.4L110.8,180.6L111.1,180.6L111.4,180.7L111.7,180.4L112.0,180.4L112.3,180.3L112.6,180.1L112.9,180.5L113.2,180.8L113.5,180.5L113.8,180.3L114.1,180.7L114.4,180.6L114.7,180.5L115.0,179.9L115.3,180.1L115.6,180.4L115.9,180.4L116.2,180.3L116.5,180.2L116.8,180.2L117.1,180.5L117.4,180.4L117.7,179.9L118.0,180.2L118.3,180.0L118.6,180.2L118.9,180.1L119.2,180.1L119.5,180.2L119.8,179.9L120.1,179.9L120.4,180.1L120.7,180.0L121.0,179.7L121.3,180.2L121.6,179.8L121.9,179.8L122.2,179.7L122.5,179.7L122.8,180.1L123.1,179.8L123.4,180.0L123.7,179.8L124.0,179.9L124.3,179.7L124.6,180.0L124.9,179.9L125.2,179.8L125.5,179.8L125.8,179.7L126.1,179.5L126.4,180.1L126.7,179.9L127.0,180.2L127.3,179.8L127.6,179.6L127.9,179.9L128.2,179.7L128.5,179.5L128.8,179.9L129.1,179.8L129.4,179.8L129.7,180.1L130.0,180.2L130.3,180.1L130.6,180.2L130.9,179.9L131.2,180.5L131.5,180.5L131.8,180.4L132.1,180.0L132.4,180.2L132.7,180.2L133.0,180.2L133.3,180.2L133.6,180.3L133.9,180.1L134.2,180.2L134.5,180.1L134.8,180.2L135.1,180.2L135.4,180.2L135.7,179.8L136.0,179.8L136.3,180.0L136.6,180.6L136.9,180.1L137.2,180.0L137.5,180.2L137.8,180.6L138.1,180.3L138.4,179.7L138.7,180.3L139.0,180.6L139.3,180.3L139.6,180.1L139.9,180.2L140.2,180.5L140.5,180.7L140.8,180.2L141.1,180.6L141.4,180.1L141.7,180.0L142.0,180.2L142.3,180.2L142.6,180.3L142.9,180.3L143.2,180.4L143.5,180.4L143.8,180.4L144.1,179.9L144.4,179.8L144.7,180.2L145.0,180.1L145.3,180.2L145.6,180.1L145.9,179.9L146.2,180.0L146.5,179.9L146.8,180.0L147.1,180.0L147.4,180.3L147.7,180.0L148.0,180.5L148.3,180.1L148.6,180.0L148.9,180.0L149.2,180.5L149.5,179.9L149.8,180.3L150.1,180.6L150.4,180.1L150.7,180.1L151.0,180.4L151.3,180.0L151.6,180.1L151.9,180.1L152.2,180.3L152.5,179.9L152.8,180.0L153.1,180.1L153.4,180.3L153.7,180.2L154.0,180.1L154.3,180.4L154.6,180.2L154.9,179.8L155.2,180.1L155.5,180.0L155.8,180.1L156.1,179.9L156.4,179.8L156.7,180.0L157.0,180.1L157.3,179.9L157.6,179.8L157.9,180.0L158.2,179.9L158.5,179.9L158.8,179.8L159.1,180.0L159.4,180.1L159.7,180.0L160.0,180.1L160.3,180.0L160.6,179.7L160.9,179.8L161.2,180.0L161.5,179.9L161.8,179.9L162.1,179.9L162.4,180.1L162.7,180.1L163.0,180.5L163.3,180.0L163.6,179.6L163.9,180.2L164.2,179.7L164.5,180.2L164.8,180.1L165.1,179.8L165.4,180.2L165.7,180.2L166.0,179.8L166.3,180.1L166.6,179.9L166.9,179.5L167.2,180.3L167.4,179.8L167.7,179.7L168.0,180.1L168.3,180.1L168.6,179.9L168.9,179.9L169.2,179.7L169.5,180.3L169.8,180.0L170.1,179.8L170.4,179.9L170.7,180.1L171.0,179.9L171.3,179.9L171.6,180.2L171.9,180.4L172.2,180.0L172.5,180.1L172.8,180.0L173.1,179.9L173.4,180.2L173.7,180.1L174.0,179.8L174.3,180.1L174.6,180.2L174.9,180.2L175.2,179.9L175.5,179.6L175.8,179.8L176.1,180.3L176.4,180.0L176.7,180.1L177.0,179.8L177.3,179.9L177.6,180.0L177.9,180.1L178.2,179.7L178.5,180.3L178.8,180.1L179.1,180.2L179.4,179.8L179.7,179.7L180.0,179.9L180.3,179.8L180.6,180.0L180.9,180.3L181.2,180.0L181.5,179.6L181.8,180.1L182.1,179.8L182.4,180.3L182.7,179.9L183.0,179.7L183.3,180.0L183.6,180.4L183.9,180.0L184.2,180.2L184.5,179.8L184.8,180.0L185.1,180.1L185.4,180.0L185.7,180.3L186.0,180.1L186.3,179.9L186.6,180.0L186.9,179.7L187.2,179.9L187.5,179.6L187.8,180.3L188.1,180.1L188.4,180.1L188.7,180.4L189.0,180.0L189.3,180.2L189.6,180.2L189.9,180.2L190.2,180.1L190.5,180.0L190.8,180.2L191.1,180.0L191.4,180.5L191.7,180.3L192.0,180.4L192.3,180.1L192.6,180.2L192.9,180.4L193.2,180.2L193.5,180.2L193.8,180.5L194.1,180.0L194.4,180.2L194.7,180.1L195.0,180.0L195.3,179.8L195.6,180.2L195.9,180.3L196.2,180.4L196.5,180.3L196.8,180.2L197.1,180.3L197.4,180.4L197.7,180.5L198.0,180.4L198.3,180.1L198.6,180.2L198.9,180.2L199.2,180.0L199.5,180.1L199.8,180.6L200.1,180.1L200.4,180.5L200.7,180.2L201.0,180.5L201.3,180.4L201.6,180.7L201.9,180.5L202.2,180.2L202.5,180.3L202.8,180.1L203.1,180.3L203.4,180.2L203.7,180.2L204.0,180.2L204.3,180.2L204.6,180.4L204.9,180.1L205.2,180.2L205.5,180.8L205.8,180.8L206.1,180.3L206.4,180.3L206.7,180.5L207.0,179.9L207.3,180.5L207.6,180.2L207.9,180.1L208.2,180.5L208.5,180.6L208.8,180.4L209.1,180.6L209.4,180.2L209.7,180.7L210.0,180.2L210.3,179.9L210.6,180.4L210.9,180.5L211.2,180.3L211.5,180.4L211.8,180.6L212.1,180.7L212.4,180.0L212.7,180.6L213.0,180.4L213.3,180.3L213.6,180.2L213.9,180.3L214.2,180.6L214.5,180.3L214.8,180.3L215.1,180.6L215.4,180.3L215.7,180.8L216.0,180.4L216.3,180.6L216.6,180.6L216.9,180.3L217.2,180.7L217.5,180.3L217.8,180.2L218.1,180.6L218.4,180.4L218.7,180.1L219.0,180.5L219.3,180.4L219.6,180.2L219.9,180.3L220.2,180.1L220.5,180.5L220.8,180.0L221.1,180.2L221.4,180.4L221.7,180.7L222.0,180.2L222.3,180.4L222.6,180.5L222.9,180.2L223.2,180.2L223.5,180.2L223.8,180.6L224.1,180.6L224.4,180.6L224.7,180.3L225.0,180.1L225.3,180.1L225.6,180.1L225.9,180.6L226.2,180.3L226.5,180.5L226.8,180.3L227.1,180.2L227.4,180.2L227.7,180.7L228.0,180.0L228.3,180.4L228.6,180.1L228.9,180.6L229.2,180.2L229.5,180.1L229.8,179.8L230.1,180.5L230.4,180.2L230.7,180.4L231.0,180.3L231.3,179.7L231.6,179.9L231.9,179.7L232.2,179.6L232.5,179.6L232.8,179.4L233.1,179.3L233.4,178.5L233.7,178.1L234.0,177.8L234.3,176.8L234.6,176.5L234.9,175.9L235.2,174.8L235.5,173.8L235.8,173.3L236.1,172.0L236.4,171.0L236.7,170.3L237.0,169.3L237.3,168.6L237.6,168.6L237.9,167.8L238.2,168.0L238.5,168.2L238.8,168.2L239.1,168.8L239.4,169.2L239.7,170.1L240.0,171.0L240.3,171.5L240.6,172.4L240.9,173.0L241.2,173.7L241.5,174.0L241.8,174.3L242.1,174.2L242.4,174.4L242.7,173.9L243.0,173.6L243.3,173.2L243.6,171.9L243.9,171.1L244.2,170.1L244.5,169.0L244.8,168.6L245.1,167.8L245.4,167.2L245.7,166.7L246.0,166.0L246.3,166.6L246.6,166.8L246.9,167.6L247.2,168.2L247.5,169.2L247.8,169.9L248.1,171.4L248.4,172.2L248.7,173.6L249.0,174.6L249.3,175.6L249.6,176.2L249.9,177.2L250.2,177.6L250.5,178.3L250.8,178.8L251.1,179.3L251.4,179.2L251.7,179.8L252.0,179.6L252.3,180.3L252.6,179.8L252.9,179.9L253.2,180.1L253.5,180.0L253.8,180.4L254.1,180.2L254.4,180.1L254.7,180.0L255.0,180.2L255.3,180.2L255.6,180.2L255.9,180.1L256.2,180.5L256.5,180.8L256.8,180.1L257.1,180.2L257.4,180.6L257.7,180.3L258.0,180.0L258.3,179.9L258.6,180.4L258.9,180.1L259.2,180.6L259.5,180.2L259.8,180.2L260.1,180.5L260.4,180.6L260.7,179.9L261.0,180.1L261.3,179.9L261.6,180.4L261.9,180.4L262.2,179.9L262.5,180.2L262.8,180.5L263.1,180.0L263.4,179.6L263.7,179.4L264.0,179.7L264.3,178.8L264.6,178.8L264.9,177.4L265.2,177.5L265.5,176.7L265.8,175.9L266.1,175.3L266.4,174.2L266.7,173.7L267.0,172.3L267.3,170.4L267.6,167.3L267.9,162.9L268.2,155.9L268.5,149.6L268.8,143.9L269.1,139.9L269.4,137.6L269.7,137.0L270.0,136.0L270.3,135.7L270.6,137.0L270.9,141.1L271.2,151.6L271.5,145.9L271.8,136.2L272.1,132.6L272.4,131.4L272.7,131.8L273.0,132.2L273.3,135.0L273.6,144.7L273.9,160.3L274.2,173.7L274.5,178.4L274.8,179.9L275.1,180.2L275.4,180.5L275.7,180.2L276.0,180.4L276.3,180.5L276.6,180.4L276.9,180.3L277.2,180.6L277.5,180.4L277.8,180.5L278.1,180.2L278.4,180.4L278.7,180.7L279.0,180.4L279.3,180.6L279.6,180.3L279.9,180.4L280.2,180.3L280.5,180.4L280.8,180.6L281.1,180.4L281.4,180.4L281.7,180.4L282.0,180.4L282.3,180.5L282.6,180.8L282.9,180.8L283.2,180.4L283.5,180.1L283.8,180.2L284.1,180.5L284.4,180.4L284.7,180.4L285.0,180.7L285.3,180.6L285.6,180.8L285.9,180.4L286.2,180.0L286.5,180.4L286.8,180.7L287.1,180.4L287.4,180.2L287.7,180.6L288.0,180.3L288.3,180.4L288.6,180.5L288.9,180.5L289.2,180.1L289.5,180.0L289.8,181.0L290.1,180.4L290.4,180.2L290.7,180.7L291.0,180.5L291.3,180.3L291.6,180.3L291.9,180.3L292.2,180.7L292.5,180.4L292.8,180.3L293.1,180.2L293.4,180.7L293.7,180.1L294.0,180.5L294.3,180.0L294.6,180.7L294.9,180.8L295.2,180.4L295.5,180.2L295.8,180.6L296.1,180.4L296.4,180.8L296.7,180.7L297.0,180.5L297.3,180.4L297.6,180.1L297.9,180.3L298.2,180.4L298.5,180.4L298.8,180.6L299.1,180.1L299.4,180.5L299.7,180.5L300.0,179.9L300.3,180.5L300.6,180.3L300.9,180.4L301.2,180.5L301.5,180.5L301.8,180.3L302.1,180.0L302.4,180.2L302.7,180.5L303.0,180.1L303.3,180.5L303.6,180.6L303.9,180.6L304.2,180.3L304.5,180.8L304.8,180.6L305.1,180.4L305.4,180.3L305.7,180.8L306.0,180.5L306.3,180.5L306.6,180.3L306.9,180.3L307.2,180.2L307.5,180.3L307.8,180.5L308.1,180.3L308.4,180.2L308.7,180.2L309.0,180.3L309.3,180.5L309.6,180.4L309.9,180.6L310.2,179.9L310.5,180.4L310.8,180.2L311.1,180.2L311.4,180.2L311.7,180.4L312.0,180.5L312.3,180.2L312.6,180.9L312.9,180.5L313.2,180.6L313.5,180.5L313.8,180.3L314.1,180.6L314.4,180.5L314.7,180.6L315.0,180.4L315.3,180.5L315.6,180.2L315.9,180.1L316.2,180.4L316.5,180.6L316.8,180.1L317.1,180.3L317.4,180.2L317.7,180.2L318.0,180.2L318.3,180.7L318.6,180.3L318.9,180.4L319.2,180.3L319.5,180.4L319.8,180.0L320.1,180.3L320.4,180.2L320.7,180.7L321.0,180.1L321.3,180.6L321.6,180.2L321.9,180.3L322.2,180.0L322.5,180.1L322.8,180.0L323.1,180.0L323.4,180.5L323.7,180.0L324.0,180.0L324.3,180.0L324.6,180.2L324.9,180.5L325.2,180.1L325.5,180.0L325.8,179.9L326.1,180.4L326.4,180.1L326.7,180.0L327.0,180.1L327.3,180.3L327.6,180.3L327.9,180.4L328.2,180.2L328.5,180.2L328.8,179.9L329.1,179.7L329.4,179.1L329.7,180.0L330.0,179.6L330.3,179.7L330.6,179.9L330.9,180.0L331.2,179.9L331.5,179.6L331.8,179.7L332.1,179.8L332.4,179.4L332.7,179.5L333.0,179.5L333.3,179.7L333.6,180.0L333.9,179.8L334.2,179.7L334.5,179.4L334.8,179.8L335.1,179.9L335.4,180.1L335.7,179.5L336.0,180.0L336.3,179.5L336.6,179.9L336.9,179.4L337.2,179.7L337.5,179.4L337.8,179.6L338.1,179.7L338.4,179.6L338.7,179.7L339.0,179.6L339.3,179.8L339.6,179.7L339.9,179.5L340.2,179.7L340.5,179.4L340.8,179.9L341.1,179.4L341.4,180.0L341.7,179.5L342.0,179.9L342.3,179.5L342.6,179.9L342.9,179.9L343.2,179.7L343.5,180.1L343.8,180.1L344.1,179.9L344.4,179.8L344.7,179.6L345.0,179.6L345.3,180.0L345.6,180.5L345.9,179.7L346.2,179.5L346.5,179.9L346.8,179.6L347.1,179.7L347.4,180.0L347.7,179.6L348.0,179.6L348.3,179.3L348.6,179.4L348.9,179.7L349.2,179.3L349.5,179.4L349.8,178.9L350.1,178.9L350.4,178.9L350.7,179.0L351.0,179.2L351.3,179.0L351.6,179.0L351.9,179.3L352.2,179.2L352.5,177.8L352.8,177.4L353.1,177.7L353.4,178.5L353.7,178.5L354.0,178.3L354.3,178.2L354.6,178.4L354.9,178.9L355.2,178.6L355.5,178.2L355.8,178.3L356.1,177.4L356.4,177.0L356.7,177.0L357.0,176.3L357.3,176.5L357.6,176.7L357.9,178.3L358.2,178.1L358.5,178.5L358.8,178.4L359.1,178.7L359.4,179.3L359.7,179.6L360.0,179.9L360.3,179.9L360.6,179.7L360.9,180.4L361.2,180.4L361.5,180.3L361.8,180.4L362.1,180.5L362.4,180.3L362.7,180.3L363.0,180.2L363.3,177.3L363.6,176.6L363.9,178.9L364.2,180.5L364.5,180.4L364.8,180.6L365.1,180.3L365.4,180.3L365.7,180.0L366.0,180.0L366.3,180.4L366.6,179.9L366.9,179.9L367.2,179.4L367.5,179.6L367.8,179.6L368.1,179.5L368.4,179.1L368.7,178.0L369.0,177.4L369.3,177.7L369.6,177.5L369.9,176.8L370.2,176.3L370.5,177.9L370.8,177.9L371.1,177.8L371.4,175.5L371.7,175.6L372.0,175.6L372.3,175.5L372.6,175.3L372.9,175.0L373.2,174.5L373.5,174.6L373.8,174.6L374.1,175.6L374.4,175.9L374.7,175.9L375.0,174.9L375.3,175.2L375.6,175.4L375.9,177.3L376.2,177.1L376.5,177.4L376.8,178.1L377.1,178.0L377.4,178.4L377.7,179.3L378.0,179.0L378.3,179.5L378.6,179.8L378.9,179.6L379.2,179.5L379.5,179.7L379.8,179.6L380.1,179.9L380.4,179.9L380.7,180.0L381.0,180.3L381.3,180.3L381.6,180.1L381.9,180.0L382.2,180.2L382.5,180.0L382.8,179.9L383.1,180.4L383.4,180.4L383.7,180.3L384.0,180.4L384.3,180.1L384.6,180.5L384.9,180.2L385.2,180.8L385.5,180.4L385.8,180.5L386.1,180.2L386.4,180.5L386.7,180.2L387.0,180.3L387.3,180.2L387.6,180.8L387.9,180.4L388.2,180.8L388.5,180.5L388.8,180.5L389.1,180.2L389.3,180.4L389.6,180.4L389.9,180.5L390.2,180.7L390.5,180.3L390.8,180.4L391.1,180.2L391.4,180.7L391.7,180.3L392.0,180.5L392.3,180.4L392.6,180.1L392.9,180.4L393.2,180.5L393.5,179.9L393.8,180.3L394.1,180.4L394.4,180.6L394.7,180.5L395.0,180.4L395.3,180.5L395.6,179.9L395.9,180.0L396.2,180.1L396.5,180.4L396.8,180.6L397.1,180.4L397.4,180.7L397.7,180.6L398.0,180.6L398.3,180.8L398.6,180.2L398.9,180.4L399.2,180.6L399.5,180.6L399.8,180.4L400.1,180.3L400.4,180.3L400.7,180.3L401.0,180.5L401.3,180.4L401.6,180.3L401.9,180.2L402.2,180.4L402.5,180.3L402.8,180.1L403.1,180.1L403.4,180.2L403.7,180.4L404.0,180.5L404.3,180.4L404.6,180.5L404.9,180.1L405.2,180.2L405.5,180.2L405.8,180.5L406.1,180.5L406.4,180.2L406.7,180.3L407.0,180.9L407.3,180.5L407.6,180.6L407.9,180.8L408.2,180.3L408.5,180.4L408.8,180.2L409.1,180.2L409.4,179.9L409.7,180.4L410.0,180.5L410.3,180.3L410.6,180.9L410.9,180.5L411.2,180.2L411.5,180.5L411.8,180.0L412.1,180.8L412.4,180.3L412.7,180.7L413.0,180.2L413.3,180.2L413.6,180.5L413.9,180.2L414.2,180.0L414.5,180.2L414.8,180.4L415.1,179.9L415.4,180.8L415.7,180.0L416.0,180.5L416.3,180.6L416.6,180.4L416.9,180.4L417.2,180.2L417.5,180.4L417.8,180.3L418.1,180.2L418.4,180.4L418.7,180.2L419.0,180.2L419.3,180.9L419.6,180.1L419.9,180.5L420.2,180.5L420.5,180.5L420.8,180.7L421.1,180.1L421.4,180.5L421.7,180.4L422.0,180.3L422.3,180.6L422.6,180.3L422.9,180.3L423.2,180.0L423.5,180.5L423.8,180.2L424.1,180.6L424.4,180.2L424.7,180.3L425.0,180.2L425.3,180.4L425.6,180.1L425.9,180.8L426.2,180.6L426.5,180.4L426.8,180.4L427.1,180.4L427.4,180.8L427.7,180.3L428.0,180.5L428.3,180.5L428.6,180.5L428.9,180.6L429.2,180.6L429.5,180.2L429.8,180.6L430.1,180.5L430.4,180.4L430.7,180.2L431.0,180.2L431.3,180.2L431.6,180.1L431.9,180.3L432.2,180.2L432.5,180.2L432.8,180.3L433.1,180.3L433.4,180.4L433.7,180.7L434.0,180.3L434.3,180.0L434.6,180.4L434.9,179.9L435.2,180.2L435.5,180.1L435.8,180.6L436.1,180.2L436.4,180.6L436.7,180.2L437.0,180.5L437.3,180.1L437.6,180.2L437.9,180.4L438.2,180.1L438.5,179.9L438.8,180.1L439.1,180.4L439.4,179.9L439.7,180.1L440.0,179.8L440.3,179.9L440.6,179.9L440.9,180.0L441.2,179.9L441.5,180.2L441.8,180.0L442.1,180.0L442.4,179.8L442.7,180.3L443.0,179.6L443.3,179.6L443.6,179.8L443.9,179.8L444.2,180.0L444.5,179.7L444.8,179.5L445.1,179.6L445.4,179.8L445.7,179.8L446.0,179.4L446.3,179.6L446.6,179.5L446.9,180.2L447.2,180.0L447.5,180.0L447.8,179.4L448.1,179.6L448.4,179.4L448.7,179.8L449.0,180.1L449.3,180.0L449.6,179.8L449.9,179.4L450.2,180.0L450.5,179.2L450.8,179.6L451.1,179.6L451.4,179.1L451.7,178.8L452.0,178.7L452.3,179.7L452.6,179.6L452.9,179.7L453.2,179.0L453.5,178.9L453.8,179.0L454.1,178.8L454.4,179.0L454.7,178.6L455.0,179.3L455.3,179.5L455.6,179.5L455.9,179.1L456.2,179.1L456.5,179.4L456.8,179.0L457.1,179.2L457.4,178.7L457.7,178.8L458.0,178.6L458.3,179.2L458.6,179.1L458.9,179.3L459.2,179.2L459.5,179.1L459.8,178.9L460.1,178.9L460.4,179.6L460.7,179.7L461.0,179.6L461.3,179.1L461.6,178.6L461.9,178.8L462.2,179.5L462.5,179.7L462.8,179.7L463.1,179.5L463.4,179.7L463.7,179.5L464.0,179.0L464.3,179.4L464.6,179.3L464.9,179.2L465.2,179.6L465.5,179.8L465.8,179.7L466.1,180.1L466.4,179.5L466.7,180.3L467.0,180.4L467.3,180.1L467.6,179.9L467.9,180.4L468.2,180.3L468.5,180.4L468.8,180.4L469.1,180.1L469.4,180.1L469.7,179.9L470.0,180.1L470.3,179.7L470.6,179.5L470.9,179.4L471.2,179.8L471.5,179.9L471.8,179.7L472.1,179.5L472.4,179.6L472.7,179.3L473.0,179.5L473.3,179.5L473.6,178.9L473.9,179.0L474.2,178.7L474.5,179.0L474.8,179.0L475.1,179.3L475.4,179.0L475.7,178.7L476.0,178.9L476.3,178.6L476.6,179.2L476.9,179.5L477.2,179.4L477.5,179.1L477.8,179.1L478.1,179.1L478.4,178.6L478.7,178.2L479.0,178.2L479.3,178.4L479.6,178.5L479.9,178.1L480.2,178.7L480.5,179.1L480.8,179.0L481.1,179.3L481.4,179.4L481.7,178.9L482.0,179.2L482.3,179.5L482.6,179.1L482.9,179.4L483.2,179.3L483.5,179.6L483.8,179.3L484.1,179.5L484.4,179.9L484.7,179.6L485.0,179.5L485.3,179.6L485.6,179.6L485.9,179.8L486.2,180.1L486.5,179.6L486.8,179.7L487.1,179.9L487.4,180.0L487.7,179.7L488.0,179.7L488.3,179.8L488.6,180.0L488.9,179.9L489.2,180.2L489.5,180.7L489.8,180.4L490.1,179.9L490.4,180.3L490.7,180.2L491.0,180.1L491.3,179.9L491.6,180.5L491.9,180.6L492.2,180.6L492.5,180.6L492.8,180.4L493.1,180.3L493.4,180.3L493.7,180.2L494.0,180.5L494.3,180.0L494.6,180.2L494.9,180.3L495.2,180.3L495.5,180.2L495.8,180.7L496.1,180.0L496.4,180.5L496.7,180.5L497.0,180.2L497.3,180.2L497.6,180.1L497.9,180.3L498.2,180.6L498.5,180.2L498.8,181.0L499.1,180.5L499.4,180.6L499.7,180.5L500.0,180.6" fill="none" stroke="#842a88" stroke-width="2.0" stroke-linejoin="round"/>
<path d="M228.6,180.4L228.6,180.1L229.2,180.2L229.8,179.8L230.4,180.2L231.0,180.3L231.6,179.9L232.2,179.6L232.8,179.4L233.4,178.5L234.0,177.8L234.6,176.5L235.2,174.8L235.8,173.3L236.4,171.0L237.0,169.3L237.6,168.6L238.2,168.0L238.8,168.2L239.4,169.2L240.0,171.0L240.6,172.4L241.2,173.7L241.8,174.3L242.4,174.4L243.0,173.6L243.6,171.9L244.2,170.1L244.8,168.6L245.4,167.2L246.0,166.0L246.6,166.8L247.2,168.2L247.8,169.9L248.4,172.2L249.0,174.6L249.6,176.2L250.2,177.6L250.8,178.8L251.4,179.2L252.0,179.6L252.6,179.8L253.2,180.1L253.8,180.4L254.4,180.1L255.0,180.2L255.6,180.2L256.2,180.4L256.8,180.1L257.4,180.4L257.4,180.4ZM262.5,180.4L262.5,180.2L263.1,180.0L263.7,179.4L264.3,178.8L264.9,177.4L265.5,176.7L266.1,175.3L266.7,173.7L267.3,170.4L267.9,162.9L268.5,149.6L269.1,139.9L269.7,137.0L270.3,135.7L270.9,141.1L271.5,145.9L272.1,132.6L272.7,131.8L273.3,135.0L273.9,160.3L274.5,178.4L275.1,180.2L275.7,180.2L276.3,180.4L276.9,180.3L277.5,180.4L278.1,180.2L278.1,180.4ZM343.5,180.4L343.5,180.1L344.1,179.9L344.7,179.6L345.3,180.0L345.9,179.7L346.5,179.9L347.1,179.7L347.7,179.6L348.3,179.3L348.9,179.7L349.5,179.4L350.1,178.9L350.7,179.0L351.3,179.0L351.9,179.3L352.5,177.8L353.1,177.7L353.7,178.5L354.3,178.2L354.9,178.9L355.5,178.2L356.1,177.4L356.7,177.0L357.3,176.5L357.9,178.3L358.5,178.5L359.1,178.7L359.7,179.6L360.3,179.9L360.9,180.4L361.5,180.3L362.1,180.4L362.7,180.3L363.3,177.3L363.9,178.9L364.5,180.4L365.1,180.3L365.7,180.0L366.3,180.4L366.9,179.9L367.5,179.6L368.1,179.5L368.7,178.0L369.3,177.7L369.9,176.8L370.5,177.9L371.1,177.8L371.7,175.6L372.3,175.5L372.9,175.0L373.5,174.6L374.1,175.6L374.7,175.9L375.3,175.2L375.9,177.3L376.5,177.4L377.1,178.0L377.7,179.3L378.3,179.5L378.9,179.6L379.5,179.7L380.1,179.9L380.7,180.0L381.3,180.3L381.9,180.0L382.5,180.0L383.1,180.4L383.7,180.3L384.3,180.1L384.9,180.2L385.5,180.4L386.1,180.2L386.7,180.2L387.3,180.2L387.6,180.4ZM439.1,180.4L439.1,180.4L439.7,180.1L440.3,179.9L440.9,180.0L441.5,180.2L442.1,180.0L442.7,180.3L443.3,179.6L443.9,179.8L444.5,179.7L445.1,179.6L445.7,179.8L446.3,179.6L446.9,180.2L447.5,180.0L448.1,179.6L448.7,179.8L449.3,180.0L449.9,179.4L450.5,179.2L451.1,179.6L451.7,178.8L452.3,179.7L452.9,179.7L453.5,178.9L454.1,178.8L454.7,178.6L455.3,179.5L455.9,179.1L456.5,179.4L457.1,179.2L457.7,178.8L458.3,179.2L458.9,179.3L459.5,179.1L460.1,178.9L460.7,179.7L461.3,179.1L461.9,178.8L462.5,179.7L463.1,179.5L463.7,179.5L464.3,179.4L464.9,179.2L465.5,179.8L466.1,180.1L466.7,180.3L467.3,180.1L467.9,180.4L468.5,180.4L469.1,180.1L469.7,179.9L470.3,179.7L470.9,179.4L471.5,179.9L472.1,179.5L472.7,179.3L473.3,179.5L473.9,179.0L474.5,179.0L475.1,179.3L475.7,178.7L476.3,178.6L476.9,179.5L477.5,179.1L478.1,179.1L478.7,178.2L479.3,178.4L479.9,178.1L480.5,179.1L481.1,179.3L481.7,178.9L482.3,179.5L482.9,179.4L483.5,179.6L484.1,179.5L484.7,179.6L485.3,179.6L485.9,179.8L486.5,179.6L487.1,179.9L487.7,179.7L488.3,179.8L488.9,179.9L489.5,180.4L490.1,179.9L490.7,180.2L491.3,179.9L491.9,180.4L492.5,180.4L493.1,180.3L493.7,180.2L494.3,180.0L494.3,180.4Z" fill="#842a88" stroke="none"/>
<path d="M118.7,246.8V246.3M120.7,246.6V245.8M123.5,247.0V246.2M124.8,246.8V245.3M127.1,246.4V244.9M130.3,246.5V245.5M131.5,247.0V246.3M134.1,247.0V245.4M136.4,246.7V244.9M138.7,246.9V243.9M140.9,247.0V244.6M142.2,247.0V244.8M144.8,246.9V242.5M147.4,246.8V241.7M148.1,246.9V241.5M151.1,246.7V242.6M152.3,246.6V241.3M153.6,246.3V242.3M157.0,246.7V243.6M158.1,246.9V244.0M160.7,246.5V242.7M162.8,246.4V242.4M165.0,246.6V244.1M166.5,246.5V243.6M169.9,246.4V243.0M171.8,246.8V242.8M174.8,247.0V243.2M177.0,246.2V241.5M179.6,246.2V241.4M181.0,246.5V240.6M183.4,246.5V241.4M185.8,246.9V241.6M187.9,246.8V243.1M189.7,246.8V242.0M190.8,247.0V242.9M193.4,246.8V243.5M196.4,246.7V245.1M197.5,247.0V245.1M200.1,246.8V245.9M202.4,247.0V246.4M206.0,247.0V246.3M329.3,246.7V246.2M331.9,246.7V245.5M334.3,246.5V245.3M335.5,246.3V245.5M339.2,246.5V245.1M340.9,246.5V245.5M343.3,246.5V245.4M345.4,246.7V246.0M350.4,246.5V246.0M353.3,246.0V245.1M356.2,245.6V244.6M359.5,246.3V245.0M367.6,246.2V245.7M370.4,244.4V242.8M372.7,244.0V242.7M375.4,245.0V243.8M378.4,246.4V245.9M438.7,247.0V246.5M441.4,246.9V246.1M443.6,246.4V245.0M445.9,246.2V245.0M447.8,246.6V245.0M451.4,246.2V243.2M453.3,246.5V244.0M455.1,245.8V241.7M458.3,245.2V240.2M459.8,245.3V241.8M462.0,246.0V243.1M464.8,246.2V244.3M469.0,246.7V246.2M471.6,246.2V244.0M473.9,245.9V244.0M475.4,245.4V243.0M478.0,246.4V243.2M480.3,245.6V241.4M482.9,245.2V241.0M486.0,246.2V244.5M487.8,246.5V245.5" fill="none" stroke="#82181d" stroke-width="1.6"/>
<path d="M56.5,246.8L56.8,246.8L57.1,246.8L57.4,246.7L57.7,247.2L58.0,247.1L58.3,247.2L58.6,247.2L58.9,246.8L59.2,246.9L59.5,247.2L59.8,247.2L60.1,246.8L60.4,247.2L60.7,247.1L61.0,246.9L61.3,246.7L61.6,246.7L61.9,247.1L62.2,247.3L62.5,247.2L62.8,246.9L63.1,247.0L63.4,246.8L63.7,246.8L64.0,246.8L64.3,247.2L64.6,247.2L64.9,247.0L65.2,246.9L65.5,247.2L65.8,246.7L66.1,247.3L66.4,247.0L66.7,247.2L67.0,246.9L67.3,246.9L67.6,247.1L67.9,246.9L68.2,246.7L68.5,247.1L68.8,247.2L69.1,247.2L69.4,247.1L69.7,247.2L70.0,247.4L70.3,246.9L70.6,247.3L70.9,247.5L71.2,246.9L71.5,247.3L71.8,246.9L72.1,246.8L72.4,247.2L72.7,247.3L73.0,246.8L73.3,247.4L73.6,247.3L73.9,247.2L74.2,247.2L74.5,246.8L74.8,247.0L75.1,247.4L75.4,246.7L75.7,246.9L76.0,247.0L76.3,246.6L76.6,246.8L76.9,246.9L77.2,247.1L77.5,247.0L77.8,246.7L78.1,246.9L78.4,247.0L78.7,247.3L79.0,246.9L79.3,246.9L79.6,246.8L79.9,246.8L80.2,246.8L80.5,246.9L80.8,246.8L81.1,247.0L81.4,246.8L81.7,246.7L82.0,246.7L82.3,246.9L82.6,246.6L82.9,246.6L83.2,246.7L83.5,246.4L83.8,246.2L84.1,246.3L84.4,245.8L84.7,245.9L85.0,245.6L85.3,245.5L85.6,245.8L85.9,245.6L86.2,244.9L86.5,244.9L86.8,244.7L87.1,244.2L87.4,244.0L87.7,243.8L88.0,243.8L88.3,243.1L88.6,243.6L88.9,242.8L89.2,242.9L89.5,242.5L89.8,242.6L90.1,242.4L90.4,242.1L90.7,242.5L91.0,242.9L91.3,242.9L91.6,243.7L91.9,243.9L92.2,244.5L92.5,244.9L92.8,245.6L93.1,245.9L93.4,246.6L93.7,246.5L94.0,246.8L94.3,246.7L94.6,246.5L94.9,246.8L95.2,246.8L95.5,247.2L95.8,247.1L96.1,246.6L96.4,247.3L96.7,247.1L97.0,246.9L97.3,246.8L97.6,247.1L97.9,247.0L98.2,246.9L98.5,246.7L98.8,247.0L99.1,247.0L99.4,246.7L99.7,246.8L100.0,247.1L100.3,246.9L100.6,247.0L100.9,247.0L101.2,247.3L101.5,247.0L101.8,247.0L102.1,247.3L102.4,247.0L102.7,247.2L103.0,247.1L103.3,247.1L103.6,246.6L103.9,246.8L104.2,247.2L104.5,246.8L104.8,247.1L105.1,246.7L105.4,246.9L105.7,246.7L106.0,246.8L106.3,247.1L106.6,247.1L106.9,247.0L107.2,246.9L107.5,246.8L107.8,246.5L108.1,246.9L108.4,246.6L108.7,246.9L109.0,246.9L109.3,247.2L109.6,247.0L109.9,246.8L110.2,247.0L110.5,247.1L110.8,247.0L111.1,246.7L111.4,246.8L111.7,247.1L112.0,246.8L112.3,247.0L112.6,247.0L112.9,246.7L113.2,246.9L113.5,246.9L113.8,247.0L114.1,247.6L114.4,246.7L114.7,246.6L115.0,247.4L115.3,247.4L115.6,247.0L115.9,246.7L116.2,246.8L116.5,246.8L116.8,247.0L117.1,247.1L117.4,246.8L117.7,247.1L118.0,246.6L118.3,246.7L118.6,246.8L118.9,247.0L119.2,246.5L119.5,246.8L119.8,247.1L120.1,246.9L120.4,247.1L120.7,246.6L121.0,246.9L121.3,246.7L121.6,246.6L121.9,246.4L122.2,247.0L122.5,246.5L122.8,246.7L123.1,246.7L123.4,247.1L123.7,246.6L124.0,246.6L124.3,246.5L124.6,246.5L124.9,246.8L125.2,246.9L125.5,246.5L125.8,246.9L126.1,246.1L126.4,246.7L126.7,247.0L127.0,246.4L127.3,246.6L127.6,246.8L127.9,246.7L128.2,246.7L128.5,246.9L128.8,246.4L129.1,246.4L129.4,246.6L129.7,246.8L130.0,246.6L130.3,246.5L130.6,246.6L130.9,246.7L131.2,246.6L131.5,247.0L131.8,246.6L132.1,246.4L132.4,246.6L132.7,246.6L133.0,246.7L133.3,247.0L133.6,246.5L133.9,246.5L134.2,247.0L134.5,246.9L134.8,246.7L135.1,246.7L135.4,247.1L135.7,247.1L136.0,247.1L136.3,246.8L136.6,246.7L136.9,246.7L137.2,246.9L137.5,246.8L137.8,247.0L138.1,246.6L138.4,246.8L138.7,246.9L139.0,246.6L139.3,246.9L139.6,246.9L139.9,247.1L140.2,246.9L140.5,246.5L140.8,247.1L141.1,246.6L141.4,247.1L141.7,247.0L142.0,246.6L142.3,247.0L142.6,246.9L142.9,246.9L143.2,246.5L143.5,246.7L143.8,246.9L144.1,246.9L144.4,246.7L144.7,246.9L145.0,246.6L145.3,246.5L145.6,246.6L145.9,247.0L146.2,246.5L146.5,246.7L146.8,246.4L147.1,246.6L147.4,246.8L147.7,247.1L148.0,246.3L148.3,246.9L148.6,246.6L148.9,246.5L149.2,246.4L149.5,246.9L149.8,246.3L150.1,246.8L150.4,246.7L150.7,246.2L151.0,246.7L151.3,246.7L151.6,246.9L151.9,246.6L152.2,247.1L152.5,246.6L152.8,246.5L153.1,246.6L153.4,246.8L153.7,246.3L154.0,246.7L154.3,246.7L154.6,246.6L154.9,246.8L155.2,246.8L155.5,246.9L155.8,246.8L156.1,247.0L156.4,246.6L156.7,246.7L157.0,246.7L157.3,246.6L157.6,246.7L157.9,246.2L158.2,246.9L158.5,246.6L158.8,246.5L159.1,246.7L159.4,246.8L159.7,246.9L160.0,246.4L160.3,246.7L160.6,246.5L160.9,247.0L161.2,246.7L161.5,246.5L161.8,246.6L162.1,246.6L162.4,246.8L162.7,246.4L163.0,246.7L163.3,246.5L163.6,246.5L163.9,246.8L164.2,246.6L164.5,246.6L164.8,246.8L165.1,246.6L165.4,246.8L165.7,246.9L166.0,246.6L166.3,246.6L166.6,246.5L166.9,246.5L167.2,246.8L167.4,246.8L167.7,246.4L168.0,246.8L168.3,247.0L168.6,247.0L168.9,246.8L169.2,246.3L169.5,246.9L169.8,246.4L170.1,246.8L170.4,246.7L170.7,246.8L171.0,246.3L171.3,246.4L171.6,246.8L171.9,246.5L172.2,247.0L172.5,246.7L172.8,246.6L173.1,246.7L173.4,246.5L173.7,247.1L174.0,246.1L174.3,246.7L174.6,247.0L174.9,246.8L175.2,246.9L175.5,246.8L175.8,246.4L176.1,246.6L176.4,246.4L176.7,246.4L177.0,246.2L177.3,246.8L177.6,246.8L177.9,246.6L178.2,246.3L178.5,246.3L178.8,246.6L179.1,246.5L179.4,246.2L179.7,246.3L180.0,246.9L180.3,246.4L180.6,246.4L180.9,246.5L181.2,246.6L181.5,247.0L181.8,246.5L182.1,246.4L182.4,246.4L182.7,247.0L183.0,246.4L183.3,246.5L183.6,246.4L183.9,246.8L184.2,246.6L184.5,246.8L184.8,246.7L185.1,246.6L185.4,246.6L185.7,246.9L186.0,246.5L186.3,246.2L186.6,246.7L186.9,246.6L187.2,246.7L187.5,246.8L187.8,246.8L188.1,246.8L188.4,246.4L188.7,246.7L189.0,246.9L189.3,246.9L189.6,246.8L189.9,247.1L190.2,246.7L190.5,246.6L190.8,247.1L191.1,247.0L191.4,246.9L191.7,247.0L192.0,246.6L192.3,247.2L192.6,246.8L192.9,246.7L193.2,246.4L193.5,246.8L193.8,246.8L194.1,246.6L194.4,247.1L194.7,246.9L195.0,246.6L195.3,247.0L195.6,246.8L195.9,246.7L196.2,246.8L196.5,246.7L196.8,246.9L197.1,247.2L197.4,247.2L197.7,247.2L198.0,246.8L198.3,246.9L198.6,247.0L198.9,247.2L199.2,246.3L199.5,246.8L199.8,247.2L200.1,246.8L200.4,246.9L200.7,246.7L201.0,246.6L201.3,246.6L201.6,246.9L201.9,246.9L202.2,247.0L202.5,247.2L202.8,247.2L203.1,246.5L203.4,247.0L203.7,247.2L204.0,247.1L204.3,247.4L204.6,246.8L204.9,247.1L205.2,247.0L205.5,247.1L205.8,247.5L206.1,246.6L206.4,247.0L206.7,247.2L207.0,247.2L207.3,247.0L207.6,247.1L207.9,247.2L208.2,247.2L208.5,246.9L208.8,246.7L209.1,247.2L209.4,247.0L209.7,246.8L210.0,246.7L210.3,247.2L210.6,247.2L210.9,247.2L211.2,246.9L211.5,246.7L211.8,247.0L212.1,247.2L212.4,247.2L212.7,246.9L213.0,247.1L213.3,247.1L213.6,247.0L213.9,247.1L214.2,247.0L214.5,247.2L214.8,247.0L215.1,246.8L215.4,247.0L215.7,246.9L216.0,246.8L216.3,247.0L216.6,246.7L216.9,246.9L217.2,246.8L217.5,247.0L217.8,247.0L218.1,246.7L218.4,247.1L218.7,246.8L219.0,247.6L219.3,247.3L219.6,247.1L219.9,246.9L220.2,247.1L220.5,247.2L220.8,246.8L221.1,247.1L221.4,247.1L221.7,247.2L222.0,247.2L222.3,247.1L222.6,246.9L222.9,246.9L223.2,247.6L223.5,246.5L223.8,247.2L224.1,247.0L224.4,247.3L224.7,246.9L225.0,247.1L225.3,246.8L225.6,247.1L225.9,246.7L226.2,247.2L226.5,246.9L226.8,246.8L227.1,247.0L227.4,247.4L227.7,247.4L228.0,246.9L228.3,247.3L228.6,246.8L228.9,247.0L229.2,247.0L229.5,247.0L229.8,246.9L230.1,246.7L230.4,246.7L230.7,247.2L231.0,246.6L231.3,246.9L231.6,246.3L231.9,246.7L232.2,246.7L232.5,246.6L232.8,246.2L233.1,246.0L233.4,245.9L233.7,245.6L234.0,245.3L234.3,244.3L234.6,244.1L234.9,243.6L235.2,243.0L235.5,242.2L235.8,241.6L236.1,240.8L236.4,240.0L236.7,239.5L237.0,238.9L237.3,238.5L237.6,237.9L237.9,237.8L238.2,237.7L238.5,237.9L238.8,237.8L239.1,238.5L239.4,238.7L239.7,239.5L240.0,239.9L240.3,240.0L240.6,240.9L240.9,241.5L241.2,241.8L241.5,242.1L241.8,242.5L242.1,242.7L242.4,242.8L242.7,242.4L243.0,241.5L243.3,241.4L243.6,240.7L243.9,240.1L244.2,239.6L244.5,238.7L244.8,238.3L245.1,237.4L245.4,236.8L245.7,236.8L246.0,236.4L246.3,236.4L246.6,237.1L246.9,237.4L247.2,238.2L247.5,238.7L247.8,239.1L248.1,240.1L248.4,241.4L248.7,241.7L249.0,242.6L249.3,243.7L249.6,243.8L249.9,244.6L250.2,245.3L250.5,245.5L250.8,246.0L251.1,246.2L251.4,246.2L251.7,246.7L252.0,246.7L252.3,246.7L252.6,246.5L252.9,246.6L253.2,246.5L253.5,246.6L253.8,246.9L254.1,246.9L254.4,247.1L254.7,246.6L255.0,246.7L255.3,246.7L255.6,247.1L255.9,246.9L256.2,247.0L256.5,246.4L256.8,247.1L257.1,247.0L257.4,246.9L257.7,246.9L258.0,247.1L258.3,246.9L258.6,247.1L258.9,247.2L259.2,246.8L259.5,246.9L259.8,247.1L260.1,246.7L260.4,247.3L260.7,247.1L261.0,246.7L261.3,246.9L261.6,247.0L261.9,247.0L262.2,246.7L262.5,246.7L262.8,246.7L263.1,246.5L263.4,246.2L263.7,246.4L264.0,246.0L264.3,245.8L264.6,245.0L264.9,244.6L265.2,243.8L265.5,243.7L265.8,242.1L266.1,241.9L266.4,240.9L266.7,240.7L267.0,238.7L267.3,237.2L267.6,234.3L267.9,229.1L268.2,222.8L268.5,216.0L268.8,210.4L269.1,206.4L269.4,204.0L269.7,202.9L270.0,202.5L270.3,202.4L270.6,203.9L270.9,207.9L271.2,218.4L271.5,212.6L271.8,202.4L272.1,198.7L272.4,197.9L272.7,197.9L273.0,199.0L273.3,201.6L273.6,211.2L273.9,227.5L274.2,239.6L274.5,245.0L274.8,246.5L275.1,247.1L275.4,246.9L275.7,247.0L276.0,246.9L276.3,246.9L276.6,247.2L276.9,246.9L277.2,247.0L277.5,246.7L277.8,246.6L278.1,247.2L278.4,246.9L278.7,246.9L279.0,247.3L279.3,246.9L279.6,247.0L279.9,247.4L280.2,246.8L280.5,246.8L280.8,246.7L281.1,246.9L281.4,246.9L281.7,247.2L282.0,247.1L282.3,246.9L282.6,246.9L282.9,247.1L283.2,247.0L283.5,246.8L283.8,246.7L284.1,246.5L284.4,246.8L284.7,247.1L285.0,247.2L285.3,246.9L285.6,247.0L285.9,247.0L286.2,246.9L286.5,246.7L286.8,247.1L287.1,246.8L287.4,246.8L287.7,246.9L288.0,246.7L288.3,247.1L288.6,247.3L288.9,247.2L289.2,246.9L289.5,246.7L289.8,246.8L290.1,247.0L290.4,246.7L290.7,247.0L291.0,246.9L291.3,247.0L291.6,247.0L291.9,246.7L292.2,247.6L292.5,247.1L292.8,247.2L293.1,247.1L293.4,247.1L293.7,246.8L294.0,246.9L294.3,247.3L294.6,247.2L294.9,246.9L295.2,247.1L295.5,247.1L295.8,247.2L296.1,247.0L296.4,246.7L296.7,247.0L297.0,246.9L297.3,246.9L297.6,247.3L297.9,247.2L298.2,247.3L298.5,247.4L298.8,246.6L299.1,247.0L299.4,247.0L299.7,247.3L300.0,246.9L300.3,247.0L300.6,246.6L300.9,246.8L301.2,246.9L301.5,247.1L301.8,247.4L302.1,246.9L302.4,247.0L302.7,247.0L303.0,246.9L303.3,246.6L303.6,246.9L303.9,246.9L304.2,246.9L304.5,247.1L304.8,247.1L305.1,247.1L305.4,246.9L305.7,246.8L306.0,247.0L306.3,247.2L306.6,247.0L306.9,246.7L307.2,247.0L307.5,247.0L307.8,247.1L308.1,247.2L308.4,246.7L308.7,247.0L309.0,247.1L309.3,247.1L309.6,247.1L309.9,247.0L310.2,246.9L310.5,246.8L310.8,246.7L311.1,247.4L311.4,246.9L311.7,247.2L312.0,247.3L312.3,246.9L312.6,247.0L312.9,247.0L313.2,247.0L313.5,247.5L313.8,246.8L314.1,247.2L314.4,246.9L314.7,247.1L315.0,247.0L315.3,246.6L315.6,247.1L315.9,247.0L316.2,247.2L316.5,247.2L316.8,246.9L317.1,247.0L317.4,247.0L317.7,246.7L318.0,246.6L318.3,247.5L318.6,246.8L318.9,246.9L319.2,247.4L319.5,246.7L319.8,247.0L320.1,247.1L320.4,247.1L320.7,247.0L321.0,246.8L321.3,247.1L321.6,247.2L321.9,247.0L322.2,247.0L322.5,246.9L322.8,246.9L323.1,246.9L323.4,247.4L323.7,246.6L324.0,246.8L324.3,247.4L324.6,246.6L324.9,246.6L325.2,246.8L325.5,247.0L325.8,246.8L326.1,246.9L326.4,246.4L326.7,247.1L327.0,246.7L327.3,246.7L327.6,246.5L327.9,246.9L328.2,246.5L328.5,246.7L328.8,246.7L329.1,246.5L329.4,246.7L329.7,246.8L330.0,246.3L330.3,246.7L330.6,247.0L330.9,246.8L331.2,246.5L331.5,246.8L331.8,246.7L332.1,246.7L332.4,246.5L332.7,246.5L333.0,246.5L333.3,246.5L333.6,246.4L333.9,246.7L334.2,246.5L334.5,246.4L334.8,246.6L335.1,246.7L335.4,246.3L335.7,246.7L336.0,246.0L336.3,246.2L336.6,246.3L336.9,246.6L337.2,246.4L337.5,246.8L337.8,246.4L338.1,246.4L338.4,246.6L338.7,246.3L339.0,246.8L339.3,246.5L339.6,246.3L339.9,246.5L340.2,246.4L340.5,246.4L340.8,246.5L341.1,246.6L341.4,246.4L341.7,246.5L342.0,246.6L342.3,246.5L342.6,246.4L342.9,246.9L343.2,246.5L343.5,246.9L343.8,246.9L344.1,246.6L344.4,246.6L344.7,246.6L345.0,246.2L345.3,246.7L345.6,246.6L345.9,246.3L346.2,246.3L346.5,246.3L346.8,246.0L347.1,246.9L347.4,246.1L347.7,246.2L348.0,246.2L348.3,246.2L348.6,246.3L348.9,246.3L349.2,246.5L349.5,246.4L349.8,246.3L350.1,246.8L350.4,246.5L350.7,246.4L351.0,246.5L351.3,246.2L351.6,246.1L351.9,246.4L352.2,245.9L352.5,245.8L352.8,245.8L353.1,245.4L353.4,246.0L353.7,245.7L354.0,245.5L354.3,244.8L354.6,244.6L354.9,244.5L355.2,244.6L355.5,244.7L355.8,244.0L356.1,245.7L356.4,245.6L356.7,245.9L357.0,245.3L357.3,245.1L357.6,245.5L357.9,245.7L358.2,246.0L358.5,246.1L358.8,245.7L359.1,245.8L359.4,246.3L359.7,246.4L360.0,246.8L360.3,246.7L360.6,247.0L360.9,246.5L361.2,247.0L361.5,247.1L361.8,246.8L362.1,246.8L362.4,247.0L362.7,247.2L363.0,246.6L363.3,245.3L363.6,244.5L363.9,246.0L364.2,247.0L364.5,246.9L364.8,246.6L365.1,246.9L365.4,246.9L365.7,246.8L366.0,246.9L366.3,246.6L366.6,246.2L366.9,246.8L367.2,246.3L367.5,246.2L367.8,246.4L368.1,246.3L368.4,246.4L368.7,246.0L369.0,245.2L369.3,245.3L369.6,244.8L369.9,244.9L370.2,244.6L370.5,244.4L370.8,243.9L371.1,244.4L371.4,243.8L371.7,243.2L372.0,243.0L372.3,244.1L372.6,244.0L372.9,244.1L373.2,244.7L373.5,245.0L373.8,244.3L374.1,243.3L374.4,243.8L374.7,243.8L375.0,244.7L375.3,245.0L375.6,244.7L375.9,243.9L376.2,243.9L376.5,244.4L376.8,244.5L377.1,244.5L377.4,244.7L377.7,245.5L378.0,246.4L378.3,246.4L378.6,246.3L378.9,246.5L379.2,246.6L379.5,246.8L379.8,246.6L380.1,246.8L380.4,246.6L380.7,246.7L381.0,246.3L381.3,246.4L381.6,246.5L381.9,246.8L382.2,246.6L382.5,247.0L382.8,246.8L383.1,247.0L383.4,247.0L383.7,247.2L384.0,247.1L384.3,247.0L384.6,246.7L384.9,246.9L385.2,246.9L385.5,246.7L385.8,246.8L386.1,246.8L386.4,246.5L386.7,246.8L387.0,247.1L387.3,247.1L387.6,246.9L387.9,247.0L388.2,247.3L388.5,247.0L388.8,246.8L389.1,246.8L389.3,247.0L389.6,246.6L389.9,246.5L390.2,247.1L390.5,246.8L390.8,246.9L391.1,247.0L391.4,247.1L391.7,246.7L392.0,247.0L392.3,247.0L392.6,247.1L392.9,247.0L393.2,247.4L393.5,247.1L393.8,246.8L394.1,247.0L394.4,247.1L394.7,247.1L395.0,247.5L395.3,246.4L395.6,247.1L395.9,246.8L396.2,247.4L396.5,247.1L396.8,246.9L397.1,247.0L397.4,247.1L397.7,247.0L398.0,246.7L398.3,247.4L398.6,246.7L398.9,246.9L399.2,246.9L399.5,246.9L399.8,247.1L400.1,247.0L400.4,247.2L400.7,246.9L401.0,247.0L401.3,247.2L401.6,247.0L401.9,247.1L402.2,247.5L402.5,247.2L402.8,247.5L403.1,246.9L403.4,247.2L403.7,247.0L404.0,246.9L404.3,247.1L404.6,246.9L404.9,247.4L405.2,247.3L405.5,247.1L405.8,247.0L406.1,246.9L406.4,247.2L406.7,247.1L407.0,247.3L407.3,247.1L407.6,247.1L407.9,246.7L408.2,246.8L408.5,247.3L408.8,246.9L409.1,246.9L409.4,247.1L409.7,247.2L410.0,246.8L410.3,246.9L410.6,246.8L410.9,246.7L411.2,246.8L411.5,247.0L411.8,246.9L412.1,247.3L412.4,247.0L412.7,247.1L413.0,247.2L413.3,246.8L413.6,246.9L413.9,246.8L414.2,247.0L414.5,246.8L414.8,246.8L415.1,246.9L415.4,247.1L415.7,246.7L416.0,247.1L416.3,247.2L416.6,246.9L416.9,246.9L417.2,247.3L417.5,246.6L417.8,247.3L418.1,246.9L418.4,246.6L418.7,246.8L419.0,247.1L419.3,247.1L419.6,247.2L419.9,247.1L420.2,246.8L420.5,246.8L420.8,247.0L421.1,246.6L421.4,246.9L421.7,247.0L422.0,247.0L422.3,247.0L422.6,246.9L422.9,247.1L423.2,247.0L423.5,246.8L423.8,247.2L424.1,246.6L424.4,247.1L424.7,246.7L425.0,247.3L425.3,247.2L425.6,246.7L425.9,247.4L426.2,246.7L426.5,246.7L426.8,246.9L427.1,247.4L427.4,247.0L427.7,246.9L428.0,246.7L428.3,247.3L428.6,246.5L428.9,247.2L429.2,247.0L429.5,246.8L429.8,247.2L430.1,247.2L430.4,247.2L430.7,247.3L431.0,247.1L431.3,247.0L431.6,247.3L431.9,246.7L432.2,246.9L432.5,246.6L432.8,246.9L433.1,247.0L433.4,246.9L433.7,247.1L434.0,246.9L434.3,246.8L434.6,246.7L434.9,246.9L435.2,246.9L435.5,247.3L435.8,246.9L436.1,247.2L436.4,247.2L436.7,246.6L437.0,246.9L437.3,246.8L437.6,246.7L437.9,246.8L438.2,246.7L438.5,246.9L438.8,247.0L439.1,246.7L439.4,246.5L439.7,246.4L440.0,246.0L440.3,246.7L440.6,246.7L440.9,247.0L441.2,246.9L441.5,247.0L441.8,246.6L442.1,246.6L442.4,246.6L442.7,246.8L443.0,246.4L443.3,246.6L443.6,246.4L443.9,246.4L444.2,246.3L444.5,246.5L444.8,246.7L445.1,246.5L445.4,246.7L445.7,246.4L446.0,246.2L446.3,246.5L446.6,246.4L446.9,246.2L447.2,246.3L447.5,246.9L447.8,246.6L448.1,246.6L448.4,246.7L448.7,246.2L449.0,246.1L449.3,246.5L449.6,246.2L449.9,246.2L450.2,246.0L450.5,246.0L450.8,245.8L451.1,246.1L451.4,246.2L451.7,246.0L452.0,246.2L452.3,245.7L452.6,246.0L452.9,245.7L453.2,246.5L453.5,246.7L453.8,246.2L454.1,245.2L454.4,245.8L454.7,245.4L455.0,245.8L455.3,246.0L455.6,245.5L455.9,245.6L456.2,245.3L456.5,245.7L456.8,244.9L457.1,245.1L457.4,245.1L457.7,245.1L458.0,245.4L458.3,245.2L458.6,245.3L458.9,245.2L459.2,245.3L459.5,245.5L459.8,245.3L460.1,245.1L460.4,245.3L460.7,245.6L461.0,245.8L461.3,245.6L461.6,246.4L461.9,246.0L462.2,245.7L462.5,245.5L462.8,245.6L463.1,245.9L463.4,246.2L463.7,246.5L464.0,246.0L464.3,245.7L464.6,246.0L464.9,246.2L465.2,246.1L465.5,246.4L465.8,246.1L466.1,245.8L466.4,246.7L466.7,246.5L467.0,246.4L467.3,246.8L467.6,246.8L467.9,246.8L468.2,246.9L468.5,247.1L468.8,246.8L469.1,246.7L469.4,246.8L469.7,246.6L470.0,246.5L470.3,246.6L470.6,246.5L470.9,246.7L471.2,246.4L471.5,246.2L471.8,246.3L472.1,246.2L472.4,245.8L472.7,245.9L473.0,246.5L473.3,246.0L473.6,246.2L473.9,245.9L474.2,245.6L474.5,246.0L474.8,245.6L475.1,245.4L475.4,245.4L475.7,245.9L476.0,246.1L476.3,245.8L476.6,245.4L476.9,245.5L477.2,245.5L477.5,245.9L477.8,245.7L478.1,246.4L478.4,244.8L478.7,245.1L479.0,244.7L479.3,244.7L479.6,244.9L479.9,244.9L480.2,245.6L480.5,245.3L480.8,245.8L481.1,245.7L481.4,245.4L481.7,245.9L482.0,245.7L482.3,245.7L482.6,245.6L482.9,245.2L483.2,245.5L483.5,245.5L483.8,245.6L484.1,245.5L484.4,245.6L484.7,246.2L485.0,246.1L485.3,246.4L485.6,246.2L485.9,246.2L486.2,246.4L486.5,246.2L486.8,246.6L487.1,246.2L487.4,246.5L487.7,246.5L488.0,246.8L488.3,246.9L488.6,246.6L488.9,246.2L489.2,246.8L489.5,246.8L489.8,246.6L490.1,246.9L490.4,247.1L490.7,246.5L491.0,247.1L491.3,246.8L491.6,246.9L491.9,247.0L492.2,246.5L492.5,246.8L492.8,247.0L493.1,246.4L493.4,246.9L493.7,246.7L494.0,246.8L494.3,246.8L494.6,247.2L494.9,247.2L495.2,246.8L495.5,246.9L495.8,246.9L496.1,246.9L496.4,247.0L496.7,246.9L497.0,247.0L497.3,246.9L497.6,247.1L497.9,247.1L498.2,247.3L498.5,247.0L498.8,246.9L499.1,246.9L499.4,246.7L499.7,247.1L500.0,247.0" fill="none" stroke="#82181d" stroke-width="2.0" stroke-linejoin="round"/>
<path d="M228.6,247.0L228.6,246.8L229.2,247.0L229.8,246.9L230.4,246.7L231.0,246.6L231.6,246.3L232.2,246.7L232.8,246.2L233.4,245.9L234.0,245.3L234.6,244.1L235.2,243.0L235.8,241.6L236.4,240.0L237.0,238.9L237.6,237.9L238.2,237.7L238.8,237.8L239.4,238.7L240.0,239.9L240.6,240.9L241.2,241.8L241.8,242.5L242.4,242.8L243.0,241.5L243.6,240.7L244.2,239.6L244.8,238.3L245.4,236.8L246.0,236.4L246.6,237.1L247.2,238.2L247.8,239.1L248.4,241.4L249.0,242.6L249.6,243.8L250.2,245.3L250.8,246.0L251.4,246.2L252.0,246.7L252.6,246.5L253.2,246.5L253.8,246.9L254.4,247.0L255.0,246.7L255.6,247.0L256.2,247.0L256.8,247.0L257.4,246.9L257.4,247.0ZM262.5,247.0L262.5,246.7L263.1,246.5L263.7,246.4L264.3,245.8L264.9,244.6L265.5,243.7L266.1,241.9L266.7,240.7L267.3,237.2L267.9,229.1L268.5,216.0L269.1,206.4L269.7,202.9L270.3,202.4L270.9,207.9L271.5,212.6L272.1,198.7L272.7,197.9L273.3,201.6L273.9,227.5L274.5,245.0L275.1,247.0L275.7,247.0L276.3,246.9L276.9,246.9L277.5,246.7L278.1,247.0L278.1,247.0ZM343.5,247.0L343.5,246.9L344.1,246.6L344.7,246.6L345.3,246.7L345.9,246.3L346.5,246.3L347.1,246.9L347.7,246.2L348.3,246.2L348.9,246.3L349.5,246.4L350.1,246.8L350.7,246.4L351.3,246.2L351.9,246.4L352.5,245.8L353.1,245.4L353.7,245.7L354.3,244.8L354.9,244.5L355.5,244.7L356.1,245.7L356.7,245.9L357.3,245.1L357.9,245.7L358.5,246.1L359.1,245.8L359.7,246.4L360.3,246.7L360.9,246.5L361.5,247.0L362.1,246.8L362.7,247.0L363.3,245.3L363.9,246.0L364.5,246.9L365.1,246.9L365.7,246.8L366.3,246.6L366.9,246.8L367.5,246.2L368.1,246.3L368.7,246.0L369.3,245.3L369.9,244.9L370.5,244.4L371.1,244.4L371.7,243.2L372.3,244.1L372.9,244.1L373.5,245.0L374.1,243.3L374.7,243.8L375.3,245.0L375.9,243.9L376.5,244.4L377.1,244.5L377.7,245.5L378.3,246.4L378.9,246.5L379.5,246.8L380.1,246.8L380.7,246.7L381.3,246.4L381.9,246.8L382.5,247.0L383.1,247.0L383.7,247.0L384.3,247.0L384.9,246.9L385.5,246.7L386.1,246.8L386.7,246.8L387.3,247.0L387.6,247.0ZM439.1,247.0L439.1,246.7L439.7,246.4L440.3,246.7L440.9,247.0L441.5,247.0L442.1,246.6L442.7,246.8L443.3,246.6L443.9,246.4L444.5,246.5L445.1,246.5L445.7,246.4L446.3,246.5L446.9,246.2L447.5,246.9L448.1,246.6L448.7,246.2L449.3,246.5L449.9,246.2L450.5,246.0L451.1,246.1L451.7,246.0L452.3,245.7L452.9,245.7L453.5,246.7L454.1,245.2L454.7,245.4L455.3,246.0L455.9,245.6L456.5,245.7L457.1,245.1L457.7,245.1L458.3,245.2L458.9,245.2L459.5,245.5L460.1,245.1L460.7,245.6L461.3,245.6L461.9,246.0L462.5,245.5L463.1,245.9L463.7,246.5L464.3,245.7L464.9,246.2L465.5,246.4L466.1,245.8L466.7,246.5L467.3,246.8L467.9,246.8L468.5,247.0L469.1,246.7L469.7,246.6L470.3,246.6L470.9,246.7L471.5,246.2L472.1,246.2L472.7,245.9L473.3,246.0L473.9,245.9L474.5,246.0L475.1,245.4L475.7,245.9L476.3,245.8L476.9,245.5L477.5,245.9L478.1,246.4L478.7,245.1L479.3,244.7L479.9,244.9L480.5,245.3L481.1,245.7L481.7,245.9L482.3,245.7L482.9,245.2L483.5,245.5L484.1,245.5L484.7,246.2L485.3,246.4L485.9,246.2L486.5,246.2L487.1,246.2L487.7,246.5L488.3,246.9L488.9,246.2L489.5,246.8L490.1,246.9L490.7,246.5L491.3,246.8L491.9,247.0L492.5,246.8L493.1,246.4L493.7,246.7L494.3,246.8L494.3,247.0Z" fill="#82181d" stroke="none"/>
<path d="M120.7,312.9V312.5M123.5,313.0V312.5M124.8,312.8V311.9M127.1,312.6V311.6M130.3,313.1V312.6M134.1,313.3V312.5M136.4,313.2V312.2M138.7,313.0V311.4M140.9,313.2V311.9M142.2,313.3V312.1M144.8,313.3V310.8M147.4,313.2V310.5M148.1,313.0V310.2M151.1,312.9V310.7M152.3,313.1V310.3M153.6,313.0V310.9M157.0,313.2V311.5M158.1,313.3V311.8M160.7,313.0V310.9M162.8,313.3V311.1M165.0,313.3V311.9M166.5,313.2V311.6M169.9,313.2V311.4M171.8,313.3V311.1M174.8,313.2V311.2M177.0,312.9V310.4M179.6,313.3V310.7M181.0,313.3V310.1M183.4,312.9V310.2M185.8,313.2V310.3M187.9,313.3V311.3M189.7,313.0V310.4M190.8,313.0V310.8M193.4,313.3V311.5M196.4,313.3V312.4M197.5,313.3V312.3M200.1,313.3V312.8M331.9,313.0V312.3M334.3,313.1V312.4M339.2,313.0V312.3M340.9,313.1V312.6M343.3,313.1V312.5M353.3,312.0V311.5M356.2,312.5V311.9M359.5,312.6V311.9M370.4,311.9V311.0M372.7,311.7V311.0M375.4,312.0V311.4M441.4,313.3V312.8M443.6,313.2V312.4M445.9,313.0V312.2M447.8,313.0V312.1M451.4,312.6V310.7M453.3,312.7V311.2M455.1,312.1V309.5M458.3,311.7V308.6M459.8,312.2V310.0M462.0,312.6V310.8M464.8,312.8V311.6M471.6,312.9V311.6M473.9,312.2V311.0M475.4,312.5V311.0M478.0,313.0V311.0M480.3,311.7V309.1M482.9,312.4V309.8M486.0,312.4V311.4M487.8,313.2V312.6" fill="none" stroke="#1c864a" stroke-width="1.6"/>
<path d="M56.5,313.1L56.8,313.3L57.1,313.4L57.4,313.6L57.7,313.3L58.0,313.2L58.3,313.4L58.6,313.4L58.9,313.6L59.2,313.0L59.5,313.2L59.8,313.4L60.1,313.2L60.4,313.2L60.7,313.3L61.0,313.3L61.3,313.3L61.6,313.2L61.9,313.1L62.2,313.1L62.5,313.2L62.8,313.1L63.1,313.3L63.4,313.6L63.7,313.6L64.0,313.1L64.3,313.6L64.6,313.5L64.9,313.3L65.2,313.1L65.5,313.7L65.8,313.5L66.1,313.5L66.4,313.5L66.7,313.3L67.0,313.1L67.3,313.2L67.6,312.7L67.9,313.0L68.2,313.6L68.5,313.6L68.8,313.4L69.1,313.4L69.4,313.1L69.7,313.2L70.0,313.1L70.3,313.3L70.6,313.2L70.9,313.2L71.2,313.3L71.5,313.2L71.8,313.6L72.1,313.1L72.4,313.2L72.7,312.7L73.0,313.3L73.3,313.6L73.6,313.4L73.9,313.3L74.2,313.5L74.5,313.6L74.8,313.4L75.1,313.6L75.4,313.1L75.7,313.6L76.0,313.2L76.3,313.1L76.6,313.2L76.9,313.0L77.2,313.2L77.5,313.1L77.8,313.5L78.1,313.5L78.4,313.4L78.7,313.3L79.0,313.1L79.3,313.5L79.6,313.4L79.9,313.4L80.2,313.1L80.5,313.4L80.8,313.0L81.1,313.3L81.4,313.3L81.7,313.3L82.0,313.5L82.3,313.6L82.6,313.1L82.9,313.1L83.2,312.4L83.5,312.7L83.8,312.5L84.1,312.5L84.4,312.5L84.7,312.6L85.0,312.4L85.3,311.7L85.6,311.9L85.9,311.7L86.2,311.3L86.5,311.3L86.8,311.1L87.1,310.4L87.4,310.5L87.7,310.4L88.0,310.2L88.3,310.1L88.6,309.7L88.9,309.4L89.2,309.5L89.5,309.3L89.8,309.5L90.1,309.1L90.4,308.9L90.7,309.2L91.0,309.1L91.3,309.5L91.6,309.9L91.9,310.2L92.2,311.0L92.5,311.2L92.8,311.6L93.1,312.1L93.4,312.8L93.7,313.3L94.0,313.2L94.3,313.1L94.6,313.2L94.9,313.3L95.2,313.3L95.5,313.4L95.8,313.2L96.1,313.6L96.4,313.2L96.7,313.2L97.0,313.4L97.3,312.6L97.6,313.2L97.9,313.2L98.2,313.5L98.5,313.3L98.8,313.3L99.1,313.1L99.4,313.4L99.7,313.1L100.0,313.6L100.3,313.3L100.6,313.7L100.9,313.3L101.2,313.1L101.5,313.6L101.8,313.2L102.1,313.2L102.4,313.6L102.7,313.5L103.0,313.4L103.3,313.2L103.6,313.0L103.9,313.4L104.2,313.5L104.5,313.4L104.8,313.9L105.1,313.2L105.4,313.3L105.7,313.4L106.0,313.0L106.3,313.4L106.6,313.5L106.9,313.1L107.2,313.4L107.5,313.3L107.8,313.4L108.1,313.3L108.4,313.3L108.7,313.2L109.0,313.5L109.3,313.0L109.6,313.4L109.9,313.4L110.2,313.1L110.5,313.4L110.8,313.2L111.1,313.1L111.4,313.1L111.7,313.4L112.0,313.1L112.3,313.3L112.6,313.4L112.9,313.4L113.2,313.2L113.5,313.4L113.8,313.0L114.1,313.1L114.4,313.1L114.7,313.0L115.0,313.1L115.3,313.4L115.6,312.7L115.9,313.5L116.2,313.2L116.5,313.6L116.8,313.3L117.1,313.3L117.4,313.5L117.7,313.1L118.0,313.2L118.3,313.2L118.6,313.4L118.9,312.9L119.2,313.2L119.5,313.0L119.8,313.4L120.1,312.9L120.4,313.2L120.7,312.9L121.0,313.2L121.3,313.1L121.6,313.0L121.9,313.1L122.2,312.7L122.5,313.1L122.8,313.1L123.1,312.9L123.4,313.0L123.7,313.2L124.0,313.1L124.3,312.9L124.6,313.0L124.9,312.8L125.2,313.3L125.5,313.0L125.8,313.2L126.1,313.1L126.4,313.2L126.7,313.2L127.0,312.6L127.3,313.0L127.6,312.9L127.9,313.0L128.2,312.7L128.5,313.2L128.8,313.3L129.1,312.9L129.4,313.3L129.7,312.8L130.0,313.3L130.3,313.1L130.6,313.0L130.9,313.3L131.2,313.2L131.5,313.1L131.8,313.4L132.1,313.2L132.4,313.4L132.7,313.2L133.0,312.8L133.3,312.9L133.6,313.2L133.9,313.2L134.2,313.3L134.5,313.0L134.8,313.0L135.1,313.5L135.4,313.4L135.7,313.5L136.0,313.2L136.3,313.2L136.6,313.2L136.9,313.1L137.2,313.1L137.5,313.2L137.8,313.1L138.1,313.3L138.4,313.1L138.7,313.0L139.0,313.6L139.3,312.9L139.6,313.2L139.9,313.1L140.2,313.2L140.5,312.9L140.8,313.2L141.1,313.1L141.4,313.3L141.7,313.2L142.0,313.1L142.3,313.4L142.6,313.2L142.9,313.3L143.2,313.2L143.5,313.0L143.8,313.2L144.1,312.9L144.4,313.3L144.7,313.3L145.0,313.2L145.3,313.4L145.6,313.1L145.9,313.3L146.2,313.3L146.5,313.1L146.8,313.3L147.1,313.2L147.4,313.2L147.7,312.9L148.0,312.9L148.3,313.0L148.6,313.3L148.9,313.0L149.2,312.7L149.5,313.2L149.8,313.2L150.1,312.9L150.4,313.1L150.7,313.2L151.0,312.9L151.3,313.3L151.6,312.9L151.9,313.3L152.2,313.0L152.5,313.1L152.8,313.3L153.1,312.9L153.4,313.4L153.7,313.0L154.0,313.1L154.3,312.9L154.6,313.3L154.9,312.9L155.2,312.7L155.5,313.2L155.8,313.1L156.1,312.9L156.4,312.4L156.7,313.0L157.0,313.2L157.3,313.0L157.6,313.1L157.9,313.2L158.2,313.4L158.5,312.8L158.8,313.4L159.1,313.1L159.4,313.5L159.7,313.5L160.0,313.0L160.3,313.4L160.6,313.0L160.9,313.1L161.2,313.3L161.5,313.0L161.8,313.4L162.1,313.0L162.4,312.9L162.7,313.4L163.0,313.1L163.3,312.8L163.6,313.0L163.9,313.4L164.2,312.9L164.5,313.1L164.8,313.1L165.1,313.4L165.4,313.0L165.7,313.1L166.0,313.4L166.3,313.0L166.6,313.2L166.9,313.0L167.2,313.0L167.4,313.3L167.7,313.4L168.0,312.9L168.3,313.0L168.6,313.3L168.9,312.9L169.2,313.0L169.5,313.0L169.8,313.2L170.1,313.2L170.4,312.9L170.7,313.1L171.0,313.2L171.3,313.0L171.6,313.3L171.9,313.1L172.2,313.1L172.5,312.6L172.8,313.4L173.1,313.1L173.4,313.2L173.7,313.4L174.0,312.7L174.3,312.8L174.6,313.2L174.9,313.2L175.2,313.1L175.5,313.1L175.8,313.2L176.1,313.0L176.4,312.9L176.7,313.0L177.0,312.9L177.3,313.4L177.6,312.8L177.9,313.2L178.2,313.3L178.5,313.3L178.8,313.0L179.1,313.1L179.4,313.3L179.7,313.1L180.0,312.7L180.3,313.0L180.6,313.2L180.9,313.3L181.2,313.0L181.5,313.3L181.8,313.1L182.1,313.3L182.4,312.9L182.7,313.3L183.0,312.8L183.3,312.9L183.6,313.1L183.9,312.8L184.2,312.8L184.5,313.2L184.8,312.8L185.1,312.9L185.4,312.9L185.7,313.2L186.0,313.1L186.3,312.9L186.6,313.2L186.9,313.1L187.2,313.0L187.5,313.4L187.8,313.4L188.1,312.9L188.4,313.0L188.7,312.8L189.0,313.0L189.3,313.3L189.6,313.0L189.9,313.0L190.2,313.0L190.5,313.0L190.8,313.0L191.1,313.0L191.4,313.3L191.7,313.1L192.0,313.4L192.3,313.3L192.6,313.0L192.9,313.3L193.2,313.5L193.5,313.4L193.8,313.1L194.1,313.0L194.4,313.1L194.7,313.0L195.0,313.7L195.3,313.3L195.6,313.1L195.9,313.3L196.2,313.1L196.5,313.4L196.8,313.2L197.1,313.0L197.4,313.4L197.7,312.8L198.0,313.2L198.3,313.3L198.6,312.8L198.9,313.3L199.2,313.1L199.5,313.0L199.8,313.4L200.1,313.3L200.4,313.3L200.7,313.3L201.0,313.4L201.3,313.1L201.6,313.2L201.9,313.5L202.2,313.3L202.5,313.1L202.8,313.5L203.1,313.3L203.4,313.0L203.7,313.1L204.0,313.3L204.3,313.2L204.6,313.2L204.9,312.8L205.2,313.0L205.5,313.2L205.8,313.4L206.1,313.4L206.4,313.3L206.7,313.4L207.0,313.3L207.3,313.3L207.6,313.3L207.9,313.4L208.2,313.5L208.5,313.5L208.8,312.9L209.1,313.0L209.4,313.2L209.7,313.2L210.0,313.2L210.3,313.4L210.6,313.2L210.9,313.6L211.2,313.3L211.5,313.5L211.8,313.3L212.1,313.1L212.4,313.3L212.7,313.3L213.0,313.2L213.3,313.2L213.6,313.0L213.9,313.2L214.2,313.1L214.5,313.3L214.8,313.4L215.1,313.1L215.4,313.1L215.7,313.5L216.0,313.6L216.3,313.4L216.6,313.1L216.9,313.4L217.2,313.2L217.5,312.9L217.8,313.2L218.1,313.3L218.4,313.2L218.7,313.1L219.0,313.6L219.3,313.5L219.6,313.3L219.9,312.9L220.2,312.9L220.5,313.3L220.8,313.2L221.1,313.5L221.4,313.4L221.7,313.3L222.0,313.4L222.3,313.2L222.6,313.3L222.9,313.2L223.2,313.1L223.5,313.3L223.8,313.2L224.1,313.2L224.4,313.4L224.7,313.3L225.0,313.4L225.3,313.4L225.6,313.4L225.9,313.4L226.2,313.6L226.5,313.0L226.8,313.7L227.1,313.1L227.4,313.4L227.7,313.5L228.0,313.3L228.3,313.5L228.6,313.4L228.9,312.9L229.2,313.1L229.5,313.2L229.8,313.1L230.1,313.6L230.4,312.8L230.7,313.1L231.0,313.3L231.3,313.1L231.6,312.9L231.9,313.2L232.2,313.0L232.5,312.5L232.8,312.5L233.1,312.6L233.4,312.6L233.7,312.7L234.0,312.3L234.3,311.9L234.6,311.5L234.9,310.9L235.2,311.0L235.5,310.5L235.8,310.2L236.1,310.0L236.4,309.2L236.7,309.1L237.0,308.7L237.3,308.5L237.6,308.0L237.9,308.1L238.2,307.8L238.5,307.5L238.8,308.0L239.1,308.2L239.4,308.6L239.7,309.1L240.0,308.7L240.3,309.9L240.6,309.3L240.9,309.9L241.2,310.4L241.5,310.4L241.8,310.7L242.1,310.6L242.4,310.5L242.7,310.5L243.0,310.3L243.3,310.0L243.6,309.6L243.9,309.3L244.2,308.8L244.5,308.3L244.8,308.1L245.1,307.7L245.4,307.5L245.7,307.3L246.0,307.2L246.3,307.3L246.6,307.4L246.9,307.8L247.2,308.3L247.5,308.2L247.8,308.7L248.1,309.2L248.4,309.7L248.7,310.5L249.0,310.6L249.3,311.0L249.6,311.4L249.9,312.1L250.2,312.2L250.5,312.2L250.8,312.4L251.1,312.8L251.4,312.8L251.7,312.8L252.0,313.3L252.3,313.3L252.6,313.2L252.9,313.4L253.2,313.2L253.5,313.0L253.8,313.3L254.1,313.4L254.4,313.3L254.7,312.9L255.0,312.9L255.3,313.4L255.6,313.0L255.9,313.0L256.2,313.3L256.5,313.3L256.8,313.2L257.1,313.5L257.4,313.3L257.7,313.3L258.0,313.5L258.3,313.3L258.6,313.1L258.9,313.7L259.2,313.0L259.5,313.0L259.8,313.3L260.1,313.3L260.4,313.3L260.7,313.6L261.0,313.2L261.3,313.4L261.6,313.3L261.9,313.7L262.2,313.0L262.5,313.2L262.8,313.0L263.1,313.0L263.4,312.6L263.7,312.8L264.0,312.5L264.3,312.3L264.6,311.6L264.9,311.0L265.2,310.4L265.5,310.0L265.8,309.6L266.1,309.0L266.4,308.5L266.7,307.9L267.0,306.6L267.3,305.2L267.6,302.8L267.9,298.7L268.2,293.3L268.5,288.3L268.8,283.0L269.1,280.0L269.4,278.1L269.7,277.4L270.0,276.5L270.3,276.6L270.6,277.7L270.9,281.3L271.2,289.8L271.5,285.0L271.8,276.9L272.1,273.7L272.4,273.3L272.7,272.5L273.0,273.8L273.3,276.5L273.6,283.7L273.9,296.9L274.2,307.2L274.5,311.7L274.8,312.7L275.1,313.2L275.4,313.1L275.7,313.1L276.0,313.5L276.3,313.0L276.6,313.3L276.9,313.5L277.2,313.0L277.5,313.5L277.8,312.8L278.1,313.5L278.4,312.9L278.7,313.6L279.0,313.9L279.3,313.2L279.6,313.3L279.9,313.0L280.2,312.7L280.5,313.2L280.8,313.3L281.1,313.4L281.4,313.0L281.7,313.4L282.0,313.5L282.3,313.2L282.6,312.9L282.9,313.4L283.2,313.2L283.5,313.2L283.8,313.3L284.1,313.3L284.4,313.1L284.7,313.1L285.0,313.5L285.3,313.6L285.6,313.1L285.9,313.6L286.2,313.3L286.5,313.3L286.8,313.1L287.1,313.3L287.4,313.3L287.7,313.6L288.0,313.3L288.3,313.6L288.6,313.2L288.9,313.1L289.2,312.9L289.5,313.2L289.8,313.3L290.1,313.5L290.4,313.4L290.7,313.1L291.0,313.1L291.3,313.1L291.6,313.4L291.9,313.5L292.2,313.7L292.5,313.1L292.8,313.3L293.1,313.4L293.4,313.2L293.7,312.9L294.0,313.4L294.3,313.4L294.6,313.5L294.9,313.3L295.2,313.6L295.5,313.5L295.8,313.3L296.1,313.5L296.4,313.3L296.7,313.2L297.0,313.3L297.3,313.0L297.6,313.4L297.9,313.5L298.2,313.3L298.5,313.4L298.8,313.2L299.1,313.2L299.4,313.4L299.7,313.6L300.0,313.6L300.3,313.0L300.6,313.4L300.9,312.9L301.2,313.2L301.5,313.4L301.8,313.4L302.1,313.6L302.4,313.3L302.7,313.1L303.0,313.2L303.3,313.2L303.6,313.3L303.9,313.5L304.2,313.3L304.5,313.5L304.8,313.4L305.1,313.5L305.4,313.5L305.7,313.5L306.0,313.5L306.3,313.3L306.6,313.2L306.9,313.2L307.2,313.5L307.5,313.4L307.8,313.0L308.1,313.2L308.4,313.2L308.7,313.2L309.0,313.1L309.3,313.4L309.6,313.5L309.9,313.1L310.2,313.5L310.5,313.3L310.8,313.0L311.1,313.4L311.4,313.5L311.7,313.3L312.0,313.6L312.3,313.5L312.6,313.4L312.9,313.2L313.2,313.0L313.5,313.0L313.8,312.9L314.1,313.3L314.4,313.5L314.7,313.5L315.0,313.3L315.3,313.3L315.6,313.4L315.9,313.1L316.2,313.2L316.5,313.1L316.8,313.0L317.1,313.4L317.4,313.4L317.7,313.1L318.0,313.1L318.3,313.4L318.6,313.3L318.9,313.0L319.2,313.1L319.5,313.0L319.8,313.4L320.1,313.1L320.4,313.2L320.7,313.4L321.0,313.4L321.3,313.2L321.6,313.4L321.9,313.1L322.2,312.9L322.5,313.3L322.8,313.2L323.1,313.1L323.4,313.1L323.7,313.0L324.0,313.5L324.3,313.6L324.6,313.3L324.9,313.2L325.2,313.0L325.5,313.1L325.8,313.3L326.1,313.5L326.4,313.1L326.7,313.1L327.0,313.0L327.3,313.0L327.6,313.1L327.9,313.3L328.2,313.1L328.5,313.0L328.8,313.3L329.1,313.1L329.4,313.2L329.7,313.3L330.0,313.2L330.3,313.2L330.6,313.3L330.9,313.2L331.2,313.1L331.5,313.2L331.8,313.0L332.1,313.0L332.4,313.3L332.7,313.4L333.0,313.3L333.3,313.1L333.6,313.5L333.9,313.1L334.2,313.1L334.5,313.0L334.8,313.1L335.1,312.9L335.4,313.0L335.7,312.8L336.0,313.2L336.3,313.6L336.6,312.9L336.9,313.0L337.2,313.0L337.5,312.7L337.8,313.1L338.1,312.9L338.4,313.1L338.7,313.1L339.0,313.1L339.3,313.0L339.6,313.1L339.9,312.7L340.2,313.3L340.5,313.1L340.8,313.1L341.1,312.9L341.4,313.0L341.7,313.3L342.0,313.2L342.3,312.8L342.6,313.0L342.9,313.4L343.2,313.1L343.5,312.7L343.8,313.2L344.1,313.0L344.4,312.7L344.7,312.8L345.0,313.3L345.3,313.2L345.6,313.0L345.9,313.1L346.2,313.1L346.5,313.0L346.8,313.1L347.1,313.1L347.4,312.8L347.7,313.1L348.0,312.8L348.3,313.3L348.6,312.8L348.9,313.0L349.2,313.1L349.5,313.0L349.8,312.8L350.1,313.0L350.4,313.1L350.7,313.2L351.0,312.9L351.3,312.8L351.6,312.6L351.9,312.7L352.2,312.7L352.5,312.3L352.8,312.8L353.1,312.2L353.4,312.0L353.7,312.5L354.0,312.3L354.3,312.3L354.6,312.4L354.9,312.3L355.2,312.2L355.5,312.2L355.8,312.0L356.1,312.7L356.4,312.5L356.7,313.0L357.0,312.1L357.3,311.9L357.6,311.6L357.9,312.6L358.2,312.7L358.5,312.9L358.8,312.8L359.1,312.8L359.4,312.6L359.7,313.1L360.0,312.9L360.3,313.3L360.6,313.2L360.9,313.4L361.2,313.5L361.5,313.2L361.8,313.2L362.1,313.4L362.4,313.1L362.7,313.3L363.0,313.1L363.3,312.1L363.6,311.7L363.9,312.4L364.2,313.4L364.5,313.2L364.8,313.3L365.1,313.0L365.4,313.5L365.7,313.2L366.0,313.1L366.3,313.4L366.6,313.2L366.9,312.8L367.2,312.8L367.5,313.1L367.8,312.7L368.1,312.6L368.4,312.9L368.7,312.4L369.0,312.4L369.3,312.0L369.6,312.6L369.9,312.4L370.2,312.3L370.5,311.9L370.8,311.6L371.1,311.4L371.4,312.3L371.7,312.3L372.0,311.8L372.3,311.8L372.6,311.7L372.9,311.6L373.2,311.2L373.5,311.4L373.8,311.2L374.1,311.5L374.4,311.7L374.7,311.6L375.0,312.5L375.3,312.0L375.6,312.5L375.9,312.3L376.2,312.5L376.5,312.1L376.8,312.3L377.1,312.4L377.4,312.3L377.7,312.7L378.0,312.9L378.3,312.5L378.6,312.9L378.9,312.7L379.2,312.9L379.5,313.1L379.8,312.9L380.1,313.0L380.4,313.4L380.7,313.0L381.0,313.1L381.3,313.2L381.6,313.4L381.9,313.6L382.2,313.5L382.5,313.5L382.8,313.6L383.1,313.0L383.4,313.1L383.7,313.0L384.0,313.4L384.3,313.6L384.6,313.1L384.9,313.3L385.2,313.4L385.5,313.1L385.8,313.2L386.1,313.1L386.4,313.5L386.7,313.3L387.0,313.2L387.3,313.4L387.6,313.4L387.9,313.6L388.2,313.6L388.5,313.0L388.8,313.2L389.1,313.4L389.3,313.4L389.6,313.1L389.9,313.1L390.2,313.6L390.5,313.4L390.8,313.6L391.1,313.7L391.4,313.3L391.7,313.0L392.0,313.2L392.3,313.5L392.6,313.4L392.9,313.2L393.2,313.3L393.5,313.4L393.8,313.6L394.1,313.5L394.4,313.3L394.7,313.0L395.0,313.3L395.3,313.0L395.6,313.3L395.9,313.3L396.2,313.3L396.5,313.1L396.8,313.4L397.1,313.6L397.4,313.5L397.7,313.3L398.0,313.0L398.3,313.2L398.6,313.8L398.9,313.5L399.2,313.4L399.5,313.3L399.8,313.3L400.1,313.3L400.4,313.3L400.7,313.0L401.0,313.5L401.3,313.0L401.6,313.3L401.9,313.3L402.2,313.2L402.5,313.1L402.8,313.6L403.1,313.1L403.4,313.1L403.7,313.3L404.0,313.2L404.3,313.3L404.6,313.1L404.9,313.0L405.2,313.0L405.5,313.2L405.8,313.5L406.1,313.2L406.4,313.0L406.7,313.6L407.0,313.4L407.3,313.0L407.6,313.4L407.9,313.2L408.2,313.6L408.5,313.2L408.8,313.4L409.1,313.5L409.4,313.4L409.7,313.2L410.0,313.1L410.3,313.2L410.6,313.6L410.9,313.2L411.2,313.2L411.5,313.2L411.8,313.3L412.1,313.4L412.4,313.2L412.7,313.1L413.0,313.0L413.3,313.0L413.6,313.1L413.9,313.5L414.2,313.1L414.5,313.3L414.8,313.0L415.1,313.6L415.4,313.3L415.7,313.6L416.0,313.5L416.3,313.4L416.6,313.2L416.9,313.0L417.2,313.2L417.5,313.4L417.8,313.5L418.1,313.0L418.4,313.3L418.7,313.1L419.0,313.4L419.3,313.3L419.6,313.3L419.9,313.1L420.2,313.3L420.5,313.2L420.8,313.3L421.1,313.0L421.4,312.9L421.7,313.1L422.0,313.7L422.3,313.3L422.6,313.2L422.9,313.3L423.2,313.0L423.5,313.3L423.8,313.1L424.1,313.4L424.4,313.5L424.7,313.2L425.0,313.2L425.3,313.3L425.6,313.1L425.9,313.2L426.2,313.2L426.5,313.2L426.8,313.2L427.1,313.4L427.4,313.2L427.7,313.3L428.0,313.1L428.3,313.7L428.6,313.3L428.9,313.1L429.2,313.4L429.5,313.4L429.8,313.0L430.1,313.3L430.4,313.2L430.7,313.3L431.0,313.3L431.3,313.0L431.6,313.0L431.9,313.4L432.2,313.6L432.5,313.5L432.8,313.2L433.1,313.3L433.4,313.5L433.7,312.9L434.0,313.3L434.3,313.3L434.6,312.9L434.9,313.4L435.2,313.3L435.5,313.7L435.8,313.5L436.1,313.2L436.4,313.4L436.7,313.4L437.0,313.2L437.3,313.1L437.6,313.4L437.9,313.0L438.2,313.3L438.5,312.7L438.8,313.1L439.1,313.0L439.4,312.9L439.7,313.4L440.0,313.1L440.3,313.4L440.6,313.2L440.9,313.1L441.2,313.3L441.5,312.9L441.8,312.9L442.1,312.9L442.4,313.0L442.7,312.6L443.0,313.0L443.3,313.2L443.6,313.2L443.9,313.2L444.2,313.0L444.5,312.9L444.8,312.9L445.1,312.8L445.4,312.9L445.7,313.3L446.0,313.0L446.3,313.4L446.6,312.8L446.9,312.9L447.2,312.8L447.5,313.1L447.8,313.0L448.1,313.0L448.4,312.8L448.7,312.7L449.0,312.9L449.3,312.9L449.6,312.7L449.9,312.7L450.2,313.0L450.5,312.8L450.8,312.8L451.1,312.4L451.4,312.6L451.7,313.0L452.0,313.2L452.3,312.4L452.6,312.7L452.9,312.7L453.2,312.7L453.5,312.6L453.8,312.5L454.1,312.5L454.4,312.7L454.7,312.4L455.0,312.1L455.3,312.2L455.6,312.2L455.9,312.5L456.2,312.6L456.5,312.3L456.8,312.0L457.1,312.1L457.4,312.0L457.7,312.1L458.0,312.4L458.3,311.7L458.6,312.4L458.9,312.5L459.2,312.5L459.5,312.0L459.8,312.2L460.1,312.5L460.4,311.9L460.7,312.0L461.0,312.7L461.3,313.1L461.6,313.2L461.9,312.6L462.2,312.3L462.5,312.8L462.8,312.6L463.1,312.6L463.4,313.2L463.7,312.6L464.0,312.4L464.3,312.7L464.6,312.5L464.9,312.8L465.2,312.7L465.5,312.5L465.8,312.9L466.1,312.7L466.4,312.9L466.7,313.1L467.0,313.0L467.3,313.1L467.6,313.4L467.9,313.3L468.2,313.5L468.5,313.6L468.8,313.0L469.1,313.2L469.4,313.7L469.7,313.1L470.0,313.4L470.3,312.8L470.6,312.2L470.9,313.0L471.2,312.6L471.5,312.9L471.8,312.6L472.1,312.8L472.4,312.2L472.7,312.4L473.0,312.5L473.3,312.0L473.6,312.5L473.9,312.2L474.2,312.4L474.5,312.2L474.8,312.2L475.1,312.8L475.4,312.5L475.7,312.4L476.0,312.5L476.3,312.4L476.6,312.5L476.9,312.3L477.2,312.2L477.5,312.8L477.8,312.8L478.1,313.0L478.4,311.9L478.7,311.9L479.0,312.0L479.3,311.7L479.6,312.0L479.9,311.8L480.2,311.7L480.5,311.8L480.8,312.1L481.1,312.0L481.4,312.3L481.7,312.2L482.0,312.2L482.3,312.5L482.6,312.8L482.9,312.4L483.2,312.3L483.5,312.2L483.8,312.2L484.1,312.3L484.4,312.4L484.7,312.5L485.0,312.7L485.3,312.6L485.6,312.5L485.9,312.4L486.2,312.8L486.5,312.8L486.8,313.0L487.1,312.9L487.4,313.4L487.7,313.2L488.0,312.8L488.3,312.8L488.6,313.2L488.9,313.1L489.2,313.1L489.5,313.2L489.8,313.3L490.1,313.1L490.4,312.7L490.7,313.1L491.0,313.1L491.3,313.1L491.6,313.1L491.9,313.2L492.2,313.5L492.5,313.6L492.8,313.5L493.1,313.1L493.4,313.2L493.7,313.3L494.0,313.0L494.3,313.3L494.6,313.2L494.9,313.2L495.2,313.2L495.5,313.2L495.8,313.4L496.1,313.5L496.4,313.3L496.7,313.4L497.0,313.3L497.3,313.5L497.6,312.9L497.9,313.5L498.2,313.2L498.5,313.5L498.8,313.3L499.1,313.1L499.4,313.2L499.7,312.9L500.0,313.4" fill="none" stroke="#1c864a" stroke-width="2.0" stroke-linejoin="round"/>
<path d="M228.6,313.3L228.6,313.3L229.2,313.1L229.8,313.1L230.4,312.8L231.0,313.3L231.6,312.9L232.2,313.0L232.8,312.5L233.4,312.6L234.0,312.3L234.6,311.5L235.2,311.0L235.8,310.2L236.4,309.2L237.0,308.7L237.6,308.0L238.2,307.8L238.8,308.0L239.4,308.6L240.0,308.7L240.6,309.3L241.2,310.4L241.8,310.7L242.4,310.5L243.0,310.3L243.6,309.6L244.2,308.8L244.8,308.1L245.4,307.5L246.0,307.2L246.6,307.4L247.2,308.3L247.8,308.7L248.4,309.7L249.0,310.6L249.6,311.4L250.2,312.2L250.8,312.4L251.4,312.8L252.0,313.3L252.6,313.2L253.2,313.2L253.8,313.3L254.4,313.3L255.0,312.9L255.6,313.0L256.2,313.3L256.8,313.2L257.4,313.3L257.4,313.3ZM262.5,313.3L262.5,313.2L263.1,313.0L263.7,312.8L264.3,312.3L264.9,311.0L265.5,310.0L266.1,309.0L266.7,307.9L267.3,305.2L267.9,298.7L268.5,288.3L269.1,280.0L269.7,277.4L270.3,276.6L270.9,281.3L271.5,285.0L272.1,273.7L272.7,272.5L273.3,276.5L273.9,296.9L274.5,311.7L275.1,313.2L275.7,313.1L276.3,313.0L276.9,313.3L277.5,313.3L278.1,313.3L278.1,313.3ZM343.5,313.3L343.5,312.7L344.1,313.0L344.7,312.8L345.3,313.2L345.9,313.1L346.5,313.0L347.1,313.1L347.7,313.1L348.3,313.3L348.9,313.0L349.5,313.0L350.1,313.0L350.7,313.2L351.3,312.8L351.9,312.7L352.5,312.3L353.1,312.2L353.7,312.5L354.3,312.3L354.9,312.3L355.5,312.2L356.1,312.7L356.7,313.0L357.3,311.9L357.9,312.6L358.5,312.9L359.1,312.8L359.7,313.1L360.3,313.3L360.9,313.3L361.5,313.2L362.1,313.3L362.7,313.3L363.3,312.1L363.9,312.4L364.5,313.2L365.1,313.0L365.7,313.2L366.3,313.3L366.9,312.8L367.5,313.1L368.1,312.6L368.7,312.4L369.3,312.0L369.9,312.4L370.5,311.9L371.1,311.4L371.7,312.3L372.3,311.8L372.9,311.6L373.5,311.4L374.1,311.5L374.7,311.6L375.3,312.0L375.9,312.3L376.5,312.1L377.1,312.4L377.7,312.7L378.3,312.5L378.9,312.7L379.5,313.1L380.1,313.0L380.7,313.0L381.3,313.2L381.9,313.3L382.5,313.3L383.1,313.0L383.7,313.0L384.3,313.3L384.9,313.3L385.5,313.1L386.1,313.1L386.7,313.3L387.3,313.3L387.6,313.3ZM439.1,313.3L439.1,313.0L439.7,313.3L440.3,313.3L440.9,313.1L441.5,312.9L442.1,312.9L442.7,312.6L443.3,313.2L443.9,313.2L444.5,312.9L445.1,312.8L445.7,313.3L446.3,313.3L446.9,312.9L447.5,313.1L448.1,313.0L448.7,312.7L449.3,312.9L449.9,312.7L450.5,312.8L451.1,312.4L451.7,313.0L452.3,312.4L452.9,312.7L453.5,312.6L454.1,312.5L454.7,312.4L455.3,312.2L455.9,312.5L456.5,312.3L457.1,312.1L457.7,312.1L458.3,311.7L458.9,312.5L459.5,312.0L460.1,312.5L460.7,312.0L461.3,313.1L461.9,312.6L462.5,312.8L463.1,312.6L463.7,312.6L464.3,312.7L464.9,312.8L465.5,312.5L466.1,312.7L466.7,313.1L467.3,313.1L467.9,313.3L468.5,313.3L469.1,313.2L469.7,313.1L470.3,312.8L470.9,313.0L471.5,312.9L472.1,312.8L472.7,312.4L473.3,312.0L473.9,312.2L474.5,312.2L475.1,312.8L475.7,312.4L476.3,312.4L476.9,312.3L477.5,312.8L478.1,313.0L478.7,311.9L479.3,311.7L479.9,311.8L480.5,311.8L481.1,312.0L481.7,312.2L482.3,312.5L482.9,312.4L483.5,312.2L484.1,312.3L484.7,312.5L485.3,312.6L485.9,312.4L486.5,312.8L487.1,312.9L487.7,313.2L488.3,312.8L488.9,313.1L489.5,313.2L490.1,313.1L490.7,313.1L491.3,313.1L491.9,313.2L492.5,313.3L493.1,313.1L493.7,313.3L494.3,313.3L494.3,313.3Z" fill="#1c864a" stroke="none"/>
<path d="M144.8,379.5V379.0M147.4,379.3V378.7M148.1,379.6V378.9M151.1,379.5V379.0M152.3,379.5V378.9M153.6,379.5V379.0M160.7,379.5V379.0M162.8,379.5V379.0M171.8,379.3V378.8M174.8,379.6V379.1M177.0,379.3V378.7M179.6,379.6V379.0M181.0,379.4V378.7M183.4,379.5V378.8M185.8,379.3V378.6M189.7,379.4V378.8M190.8,379.4V378.9M455.1,379.2V378.6M458.3,379.4V378.7M459.8,379.5V379.0M480.3,379.6V379.0M482.9,379.4V378.8" fill="none" stroke="#128686" stroke-width="1.6"/>
<path d="M56.5,379.2L56.8,379.7L57.1,379.6L57.4,379.7L57.7,379.8L58.0,379.3L58.3,379.6L58.6,379.6L58.9,379.4L59.2,379.2L59.5,379.4L59.8,379.4L60.1,379.7L60.4,379.3L60.7,379.4L61.0,379.8L61.3,379.7L61.6,379.5L61.9,379.8L62.2,379.8L62.5,379.8L62.8,379.5L63.1,379.8L63.4,379.6L63.7,379.5L64.0,379.4L64.3,379.4L64.6,379.4L64.9,379.5L65.2,380.0L65.5,379.6L65.8,379.4L66.1,379.4L66.4,379.7L66.7,379.5L67.0,379.6L67.3,379.6L67.6,379.6L67.9,379.8L68.2,379.9L68.5,379.9L68.8,379.7L69.1,379.0L69.4,379.9L69.7,379.5L70.0,379.4L70.3,379.4L70.6,379.6L70.9,379.5L71.2,379.5L71.5,379.7L71.8,379.7L72.1,379.6L72.4,379.6L72.7,379.5L73.0,379.7L73.3,379.3L73.6,379.5L73.9,379.7L74.2,379.9L74.5,379.8L74.8,379.7L75.1,379.6L75.4,379.8L75.7,379.4L76.0,379.9L76.3,379.3L76.6,379.9L76.9,379.5L77.2,379.8L77.5,379.9L77.8,379.6L78.1,379.6L78.4,379.6L78.7,379.5L79.0,379.6L79.3,379.8L79.6,379.5L79.9,379.3L80.2,379.4L80.5,379.8L80.8,379.7L81.1,379.6L81.4,379.6L81.7,379.9L82.0,379.6L82.3,379.6L82.6,379.6L82.9,378.9L83.2,379.1L83.5,379.0L83.8,378.8L84.1,378.8L84.4,378.5L84.7,378.4L85.0,378.3L85.3,378.1L85.6,377.8L85.9,377.7L86.2,377.6L86.5,377.3L86.8,377.0L87.1,376.9L87.4,376.5L87.7,376.4L88.0,376.1L88.3,375.7L88.6,375.4L88.9,375.0L89.2,375.1L89.5,375.3L89.8,375.0L90.1,375.3L90.4,375.0L90.7,375.0L91.0,374.9L91.3,375.1L91.6,375.4L91.9,376.2L92.2,377.1L92.5,377.5L92.8,377.6L93.1,378.4L93.4,378.7L93.7,379.1L94.0,379.7L94.3,379.5L94.6,379.5L94.9,379.7L95.2,379.7L95.5,379.4L95.8,379.6L96.1,379.6L96.4,379.6L96.7,379.5L97.0,379.5L97.3,379.5L97.6,379.8L97.9,379.7L98.2,379.9L98.5,379.4L98.8,379.6L99.1,379.3L99.4,379.4L99.7,379.8L100.0,379.6L100.3,379.5L100.6,379.9L100.9,379.5L101.2,379.6L101.5,379.7L101.8,379.4L102.1,379.8L102.4,379.5L102.7,379.3L103.0,379.7L103.3,379.3L103.6,379.7L103.9,379.6L104.2,379.3L104.5,379.5L104.8,379.4L105.1,379.3L105.4,379.2L105.7,379.7L106.0,379.2L106.3,379.6L106.6,379.5L106.9,379.6L107.2,379.2L107.5,379.4L107.8,379.9L108.1,379.7L108.4,379.6L108.7,379.6L109.0,379.5L109.3,379.5L109.6,379.6L109.9,379.6L110.2,379.6L110.5,379.7L110.8,379.3L111.1,379.6L111.4,379.5L111.7,379.5L112.0,379.7L112.3,379.3L112.6,379.6L112.9,379.3L113.2,379.6L113.5,379.4L113.8,379.5L114.1,379.7L114.4,379.7L114.7,379.9L115.0,379.4L115.3,379.8L115.6,379.9L115.9,379.4L116.2,379.7L116.5,379.5L116.8,379.6L117.1,379.9L117.4,379.6L117.7,379.4L118.0,379.7L118.3,380.0L118.6,379.4L118.9,379.6L119.2,379.5L119.5,379.7L119.8,379.5L120.1,379.8L120.4,379.9L120.7,379.4L121.0,379.5L121.3,379.2L121.6,379.8L121.9,379.5L122.2,379.7L122.5,379.2L122.8,379.6L123.1,379.4L123.4,379.8L123.7,379.6L124.0,379.6L124.3,379.5L124.6,379.5L124.9,379.3L125.2,379.4L125.5,379.3L125.8,379.6L126.1,379.4L126.4,379.9L126.7,379.4L127.0,379.6L127.3,380.0L127.6,379.5L127.9,379.7L128.2,379.3L128.5,379.6L128.8,379.5L129.1,379.5L129.4,379.4L129.7,379.1L130.0,379.5L130.3,379.6L130.6,379.4L130.9,379.5L131.2,379.6L131.5,379.5L131.8,379.8L132.1,379.4L132.4,379.4L132.7,379.5L133.0,379.6L133.3,379.6L133.6,379.4L133.9,379.7L134.2,379.6L134.5,379.5L134.8,379.7L135.1,379.5L135.4,379.6L135.7,379.6L136.0,379.5L136.3,379.5L136.6,379.5L136.9,379.8L137.2,379.7L137.5,379.6L137.8,379.7L138.1,380.0L138.4,379.9L138.7,379.6L139.0,379.4L139.3,379.4L139.6,379.1L139.9,379.7L140.2,379.8L140.5,379.7L140.8,379.6L141.1,379.5L141.4,379.3L141.7,379.6L142.0,379.3L142.3,379.5L142.6,379.7L142.9,379.9L143.2,379.5L143.5,379.6L143.8,380.0L144.1,379.4L144.4,379.7L144.7,379.5L145.0,379.3L145.3,379.5L145.6,379.6L145.9,379.6L146.2,379.4L146.5,379.5L146.8,379.6L147.1,379.4L147.4,379.3L147.7,379.6L148.0,379.8L148.3,379.6L148.6,379.9L148.9,379.6L149.2,379.5L149.5,379.7L149.8,379.8L150.1,379.3L150.4,379.6L150.7,379.4L151.0,379.5L151.3,379.7L151.6,379.3L151.9,379.6L152.2,379.4L152.5,379.5L152.8,379.4L153.1,379.9L153.4,379.6L153.7,379.5L154.0,379.6L154.3,380.1L154.6,379.7L154.9,379.6L155.2,379.5L155.5,379.8L155.8,379.9L156.1,379.5L156.4,379.5L156.7,379.6L157.0,379.4L157.3,379.5L157.6,379.5L157.9,380.0L158.2,379.3L158.5,379.7L158.8,379.6L159.1,379.4L159.4,379.6L159.7,379.5L160.0,379.5L160.3,379.1L160.6,379.5L160.9,380.1L161.2,379.7L161.5,379.6L161.8,379.6L162.1,379.7L162.4,379.4L162.7,379.5L163.0,379.5L163.3,379.7L163.6,379.9L163.9,379.4L164.2,379.6L164.5,379.7L164.8,379.7L165.1,379.3L165.4,379.9L165.7,379.4L166.0,379.5L166.3,379.2L166.6,380.0L166.9,379.5L167.2,379.6L167.4,379.8L167.7,379.8L168.0,379.8L168.3,379.7L168.6,379.5L168.9,379.6L169.2,380.0L169.5,379.8L169.8,379.7L170.1,379.6L170.4,379.3L170.7,379.2L171.0,379.8L171.3,380.0L171.6,379.3L171.9,379.6L172.2,379.3L172.5,379.8L172.8,379.6L173.1,379.8L173.4,379.7L173.7,379.9L174.0,379.6L174.3,379.2L174.6,379.7L174.9,379.7L175.2,380.0L175.5,379.4L175.8,379.5L176.1,379.5L176.4,379.6L176.7,379.6L177.0,379.3L177.3,379.9L177.6,379.7L177.9,379.4L178.2,379.8L178.5,379.9L178.8,379.8L179.1,379.9L179.4,379.7L179.7,379.4L180.0,379.7L180.3,379.9L180.6,379.7L180.9,379.4L181.2,379.4L181.5,379.8L181.8,379.7L182.1,379.6L182.4,379.6L182.7,379.5L183.0,379.6L183.3,379.5L183.6,379.5L183.9,379.3L184.2,379.9L184.5,379.7L184.8,379.7L185.1,379.6L185.4,379.8L185.7,379.3L186.0,379.4L186.3,379.5L186.6,379.7L186.9,379.5L187.2,379.7L187.5,379.5L187.8,379.9L188.1,379.8L188.4,379.8L188.7,379.3L189.0,379.5L189.3,379.6L189.6,379.4L189.9,379.3L190.2,379.6L190.5,379.3L190.8,379.4L191.1,379.8L191.4,379.8L191.7,379.4L192.0,379.7L192.3,379.8L192.6,379.7L192.9,379.6L193.2,379.3L193.5,379.6L193.8,379.3L194.1,379.8L194.4,379.5L194.7,379.4L195.0,379.7L195.3,379.7L195.6,379.5L195.9,379.8L196.2,380.0L196.5,379.8L196.8,379.7L197.1,379.4L197.4,379.7L197.7,379.6L198.0,379.6L198.3,379.5L198.6,379.3L198.9,379.6L199.2,379.5L199.5,379.9L199.8,379.7L200.1,379.4L200.4,379.3L200.7,379.7L201.0,379.8L201.3,379.7L201.6,379.5L201.9,379.7L202.2,379.4L202.5,379.8L202.8,379.7L203.1,380.2L203.4,379.8L203.7,379.6L204.0,379.9L204.3,379.4L204.6,379.4L204.9,379.9L205.2,379.6L205.5,379.2L205.8,379.3L206.1,379.5L206.4,379.5L206.7,379.4L207.0,379.7L207.3,379.6L207.6,379.7L207.9,379.9L208.2,379.6L208.5,379.8L208.8,379.4L209.1,379.9L209.4,379.9L209.7,379.7L210.0,379.6L210.3,379.3L210.6,379.6L210.9,379.5L211.2,380.0L211.5,379.9L211.8,379.7L212.1,379.6L212.4,379.7L212.7,379.7L213.0,379.8L213.3,379.9L213.6,379.6L213.9,379.4L214.2,379.9L214.5,379.5L214.8,379.8L215.1,380.1L215.4,380.0L215.7,379.9L216.0,379.6L216.3,379.5L216.6,379.3L216.9,379.7L217.2,379.7L217.5,379.6L217.8,379.6L218.1,379.4L218.4,379.3L218.7,379.6L219.0,379.4L219.3,379.7L219.6,379.7L219.9,379.5L220.2,379.8L220.5,379.4L220.8,379.6L221.1,379.5L221.4,379.2L221.7,379.4L222.0,379.7L222.3,379.7L222.6,379.9L222.9,379.4L223.2,379.8L223.5,379.4L223.8,379.4L224.1,379.6L224.4,379.7L224.7,379.6L225.0,379.7L225.3,379.8L225.6,379.8L225.9,379.6L226.2,379.8L226.5,379.8L226.8,379.3L227.1,379.8L227.4,379.5L227.7,379.5L228.0,379.7L228.3,379.5L228.6,379.5L228.9,379.5L229.2,379.5L229.5,379.7L229.8,379.5L230.1,379.8L230.4,379.6L230.7,379.8L231.0,379.5L231.3,379.4L231.6,379.3L231.9,379.7L232.2,379.7L232.5,379.7L232.8,379.5L233.1,379.6L233.4,379.7L233.7,379.4L234.0,379.7L234.3,379.2L234.6,379.2L234.9,379.1L235.2,379.4L235.5,379.2L235.8,378.9L236.1,379.1L236.4,378.8L236.7,378.9L237.0,378.8L237.3,378.6L237.6,378.3L237.9,378.7L238.2,379.0L238.5,378.6L238.8,378.9L239.1,378.7L239.4,378.9L239.7,378.4L240.0,378.8L240.3,378.8L240.6,379.0L240.9,378.9L241.2,378.7L241.5,378.8L241.8,379.3L242.1,378.9L242.4,379.2L242.7,379.6L243.0,379.3L243.3,379.0L243.6,378.9L243.9,379.1L244.2,378.8L244.5,378.6L244.8,378.6L245.1,378.8L245.4,378.9L245.7,378.8L246.0,378.5L246.3,378.9L246.6,378.5L246.9,379.2L247.2,378.9L247.5,378.8L247.8,379.1L248.1,378.7L248.4,378.9L248.7,378.7L249.0,379.2L249.3,379.1L249.6,379.3L249.9,379.5L250.2,379.4L250.5,379.6L250.8,379.5L251.1,379.3L251.4,379.6L251.7,379.8L252.0,379.1L252.3,379.7L252.6,379.3L252.9,379.3L253.2,379.4L253.5,379.6L253.8,379.8L254.1,379.5L254.4,379.4L254.7,379.6L255.0,379.7L255.3,379.2L255.6,379.7L255.9,379.1L256.2,380.2L256.5,379.4L256.8,379.7L257.1,379.4L257.4,379.6L257.7,380.0L258.0,379.6L258.3,379.7L258.6,379.9L258.9,379.7L259.2,379.6L259.5,380.1L259.8,379.6L260.1,379.9L260.4,379.7L260.7,379.9L261.0,379.5L261.3,379.8L261.6,379.7L261.9,379.8L262.2,379.4L262.5,379.5L262.8,379.6L263.1,379.3L263.4,379.0L263.7,379.3L264.0,379.3L264.3,378.9L264.6,378.9L264.9,378.6L265.2,378.6L265.5,378.7L265.8,378.2L266.1,378.3L266.4,377.5L266.7,377.5L267.0,377.1L267.3,376.5L267.6,375.3L267.9,374.2L268.2,372.4L268.5,370.3L268.8,368.3L269.1,367.3L269.4,366.3L269.7,365.8L270.0,366.0L270.3,365.7L270.6,366.6L270.9,367.1L271.2,370.5L271.5,369.1L271.8,365.7L272.1,364.9L272.4,364.6L272.7,364.3L273.0,364.8L273.3,365.5L273.6,368.5L273.9,373.4L274.2,377.2L274.5,378.9L274.8,379.3L275.1,379.3L275.4,379.9L275.7,379.6L276.0,379.6L276.3,379.6L276.6,379.8L276.9,379.3L277.2,379.6L277.5,379.4L277.8,379.5L278.1,379.9L278.4,379.7L278.7,379.6L279.0,379.5L279.3,379.5L279.6,380.1L279.9,379.3L280.2,379.5L280.5,379.3L280.8,379.6L281.1,379.8L281.4,379.6L281.7,379.7L282.0,379.5L282.3,379.6L282.6,379.6L282.9,379.5L283.2,379.6L283.5,379.5L283.8,379.8L284.1,379.6L284.4,379.4L284.7,379.6L285.0,379.3L285.3,379.3L285.6,379.4L285.9,379.5L286.2,379.7L286.5,379.5L286.8,379.7L287.1,379.6L287.4,379.9L287.7,379.6L288.0,379.8L288.3,379.9L288.6,379.3L288.9,379.5L289.2,379.8L289.5,379.5L289.8,379.4L290.1,379.5L290.4,379.7L290.7,379.3L291.0,379.9L291.3,379.9L291.6,379.6L291.9,379.5L292.2,379.7L292.5,379.6L292.8,379.4L293.1,379.5L293.4,379.2L293.7,379.6L294.0,379.6L294.3,379.6L294.6,379.5L294.9,379.5L295.2,379.4L295.5,379.7L295.8,379.6L296.1,379.2L296.4,379.9L296.7,379.6L297.0,379.5L297.3,379.6L297.6,379.6L297.9,379.4L298.2,379.9L298.5,379.5L298.8,379.8L299.1,379.7L299.4,379.5L299.7,379.6L300.0,379.4L300.3,379.6L300.6,379.5L300.9,379.8L301.2,379.7L301.5,379.6L301.8,379.6L302.1,379.8L302.4,379.5L302.7,380.0L303.0,379.6L303.3,379.3L303.6,379.4L303.9,379.6L304.2,379.4L304.5,379.5L304.8,379.6L305.1,379.5L305.4,379.5L305.7,379.6L306.0,379.6L306.3,379.4L306.6,379.6L306.9,379.5L307.2,379.6L307.5,379.4L307.8,379.8L308.1,380.1L308.4,379.7L308.7,379.6L309.0,379.4L309.3,379.8L309.6,379.2L309.9,379.7L310.2,379.3L310.5,379.5L310.8,379.8L311.1,379.4L311.4,379.6L311.7,379.6L312.0,379.8L312.3,379.6L312.6,379.5L312.9,379.7L313.2,379.8L313.5,379.7L313.8,379.9L314.1,379.5L314.4,379.7L314.7,379.8L315.0,379.7L315.3,379.5L315.6,379.4L315.9,379.5L316.2,379.8L316.5,379.5L316.8,379.6L317.1,379.8L317.4,379.7L317.7,379.4L318.0,379.4L318.3,379.7L318.6,379.4L318.9,379.4L319.2,379.3L319.5,379.8L319.8,379.9L320.1,379.8L320.4,379.9L320.7,379.8L321.0,379.4L321.3,379.4L321.6,379.6L321.9,379.4L322.2,379.8L322.5,379.5L322.8,379.4L323.1,379.5L323.4,379.4L323.7,379.4L324.0,379.5L324.3,379.5L324.6,379.4L324.9,379.7L325.2,379.5L325.5,379.4L325.8,379.3L326.1,379.7L326.4,379.6L326.7,379.7L327.0,379.6L327.3,379.4L327.6,379.8L327.9,379.5L328.2,379.9L328.5,379.7L328.8,379.6L329.1,379.4L329.4,379.3L329.7,379.7L330.0,379.7L330.3,379.7L330.6,379.7L330.9,379.5L331.2,379.5L331.5,379.6L331.8,379.8L332.1,379.6L332.4,379.6L332.7,379.6L333.0,379.8L333.3,379.9L333.6,379.5L333.9,379.6L334.2,379.6L334.5,379.7L334.8,379.7L335.1,379.7L335.4,379.4L335.7,379.6L336.0,379.3L336.3,379.6L336.6,379.2L336.9,379.6L337.2,379.4L337.5,379.5L337.8,379.5L338.1,379.4L338.4,379.8L338.7,379.6L339.0,379.3L339.3,379.3L339.6,379.7L339.9,379.8L340.2,379.4L340.5,379.4L340.8,379.6L341.1,379.6L341.4,379.5L341.7,379.5L342.0,379.3L342.3,380.0L342.6,379.7L342.9,379.9L343.2,379.5L343.5,379.7L343.8,379.5L344.1,379.8L344.4,379.4L344.7,379.8L345.0,379.3L345.3,379.4L345.6,379.3L345.9,379.9L346.2,379.3L346.5,379.4L346.8,379.6L347.1,379.5L347.4,379.5L347.7,379.8L348.0,379.7L348.3,379.3L348.6,379.6L348.9,379.5L349.2,379.9L349.5,379.5L349.8,379.7L350.1,379.6L350.4,379.4L350.7,379.4L351.0,379.4L351.3,379.2L351.6,379.5L351.9,379.2L352.2,379.3L352.5,379.3L352.8,379.6L353.1,379.3L353.4,379.0L353.7,379.4L354.0,379.3L354.3,379.3L354.6,379.6L354.9,379.3L355.2,379.4L355.5,379.5L355.8,379.3L356.1,379.4L356.4,379.2L356.7,379.4L357.0,379.1L357.3,378.8L357.6,379.2L357.9,379.8L358.2,379.4L358.5,379.4L358.8,379.4L359.1,379.4L359.4,379.6L359.7,379.4L360.0,379.7L360.3,379.7L360.6,379.5L360.9,379.4L361.2,379.2L361.5,379.4L361.8,379.5L362.1,379.2L362.4,379.8L362.7,379.8L363.0,379.5L363.3,379.5L363.6,379.2L363.9,379.7L364.2,380.0L364.5,379.6L364.8,379.5L365.1,379.8L365.4,380.0L365.7,379.4L366.0,379.6L366.3,379.5L366.6,379.7L366.9,379.5L367.2,379.8L367.5,379.7L367.8,379.4L368.1,379.5L368.4,379.7L368.7,379.3L369.0,379.2L369.3,379.2L369.6,379.5L369.9,379.1L370.2,379.6L370.5,378.7L370.8,379.4L371.1,378.9L371.4,379.1L371.7,379.2L372.0,379.3L372.3,379.1L372.6,379.3L372.9,379.1L373.2,379.2L373.5,379.2L373.8,379.4L374.1,379.1L374.4,379.1L374.7,379.2L375.0,379.3L375.3,379.2L375.6,379.6L375.9,379.7L376.2,379.2L376.5,379.5L376.8,379.6L377.1,379.7L377.4,379.6L377.7,379.5L378.0,379.5L378.3,379.4L378.6,379.3L378.9,379.7L379.2,379.3L379.5,379.5L379.8,379.7L380.1,379.4L380.4,379.8L380.7,379.5L381.0,379.4L381.3,379.7L381.6,379.6L381.9,379.1L382.2,379.4L382.5,379.5L382.8,379.3L383.1,379.9L383.4,379.5L383.7,379.5L384.0,379.8L384.3,379.6L384.6,379.8L384.9,379.5L385.2,379.3L385.5,379.1L385.8,379.3L386.1,379.5L386.4,379.7L386.7,379.2L387.0,379.6L387.3,379.4L387.6,380.1L387.9,379.3L388.2,379.4L388.5,379.6L388.8,379.8L389.1,379.4L389.3,379.8L389.6,379.3L389.9,379.5L390.2,379.6L390.5,379.7L390.8,379.6L391.1,379.4L391.4,379.6L391.7,379.5L392.0,379.8L392.3,379.5L392.6,379.8L392.9,379.5L393.2,379.8L393.5,379.6L393.8,379.6L394.1,379.5L394.4,379.7L394.7,379.7L395.0,380.3L395.3,379.8L395.6,379.4L395.9,379.7L396.2,379.8L396.5,379.6L396.8,379.5L397.1,379.6L397.4,379.7L397.7,379.8L398.0,379.8L398.3,379.6L398.6,380.1L398.9,379.8L399.2,379.3L399.5,379.9L399.8,379.6L400.1,379.5L400.4,379.6L400.7,379.3L401.0,379.8L401.3,379.9L401.6,379.6L401.9,379.4L402.2,379.8L402.5,379.8L402.8,379.8L403.1,379.8L403.4,379.7L403.7,379.5L404.0,379.5L404.3,379.6L404.6,379.4L404.9,379.9L405.2,379.7L405.5,379.9L405.8,379.7L406.1,379.6L406.4,379.5L406.7,379.4L407.0,379.6L407.3,379.5L407.6,379.6L407.9,379.4L408.2,379.8L408.5,379.7L408.8,379.4L409.1,379.3L409.4,380.0L409.7,379.9L410.0,379.8L410.3,379.8L410.6,379.6L410.9,379.4L411.2,379.4L411.5,379.8L411.8,379.7L412.1,379.6L412.4,379.6L412.7,379.6L413.0,379.3L413.3,379.3L413.6,379.3L413.9,379.7L414.2,379.6L414.5,379.7L414.8,379.6L415.1,379.4L415.4,379.5L415.7,379.7L416.0,379.5L416.3,379.3L416.6,379.7L416.9,379.4L417.2,379.5L417.5,379.7L417.8,379.8L418.1,379.3L418.4,379.6L418.7,379.5L419.0,379.6L419.3,379.7L419.6,379.7L419.9,379.5L420.2,379.5L420.5,379.3L420.8,379.4L421.1,379.8L421.4,379.6L421.7,379.9L422.0,379.5L422.3,379.4L422.6,379.8L422.9,379.6L423.2,379.1L423.5,379.8L423.8,379.8L424.1,379.7L424.4,379.7L424.7,379.6L425.0,379.6L425.3,379.8L425.6,379.1L425.9,379.4L426.2,379.6L426.5,379.5L426.8,379.5L427.1,379.3L427.4,379.8L427.7,379.5L428.0,379.6L428.3,379.5L428.6,379.8L428.9,379.5L429.2,379.5L429.5,379.3L429.8,379.6L430.1,379.7L430.4,379.7L430.7,379.8L431.0,379.5L431.3,379.5L431.6,379.7L431.9,379.4L432.2,379.4L432.5,379.6L432.8,379.9L433.1,379.1L433.4,379.8L433.7,379.6L434.0,379.8L434.3,379.8L434.6,379.7L434.9,379.8L435.2,379.8L435.5,379.6L435.8,379.8L436.1,380.1L436.4,379.7L436.7,379.8L437.0,379.4L437.3,379.7L437.6,379.5L437.9,379.4L438.2,379.6L438.5,379.5L438.8,379.4L439.1,379.7L439.4,379.7L439.7,379.5L440.0,379.3L440.3,379.6L440.6,379.4L440.9,379.3L441.2,379.9L441.5,379.8L441.8,379.6L442.1,379.5L442.4,379.8L442.7,379.5L443.0,379.5L443.3,379.7L443.6,379.6L443.9,379.9L444.2,379.6L444.5,379.5L444.8,379.4L445.1,379.5L445.4,379.5L445.7,379.6L446.0,379.8L446.3,379.4L446.6,379.6L446.9,379.2L447.2,379.7L447.5,379.4L447.8,379.5L448.1,379.4L448.4,379.4L448.7,379.3L449.0,379.4L449.3,379.2L449.6,379.6L449.9,380.1L450.2,379.4L450.5,379.4L450.8,379.5L451.1,379.6L451.4,379.6L451.7,379.6L452.0,379.4L452.3,379.5L452.6,379.6L452.9,379.5L453.2,379.6L453.5,379.5L453.8,379.6L454.1,379.6L454.4,379.5L454.7,379.6L455.0,379.2L455.3,379.8L455.6,379.5L455.9,379.6L456.2,379.7L456.5,379.5L456.8,379.5L457.1,379.5L457.4,379.9L457.7,379.7L458.0,379.2L458.3,379.4L458.6,379.2L458.9,379.1L459.2,379.5L459.5,379.5L459.8,379.5L460.1,379.4L460.4,379.4L460.7,379.3L461.0,379.6L461.3,379.2L461.6,379.2L461.9,379.6L462.2,379.2L462.5,379.3L462.8,379.8L463.1,379.4L463.4,379.5L463.7,379.5L464.0,379.4L464.3,379.5L464.6,379.8L464.9,379.5L465.2,378.9L465.5,379.4L465.8,379.4L466.1,380.1L466.4,379.6L466.7,379.5L467.0,379.5L467.3,379.3L467.6,379.3L467.9,379.7L468.2,379.6L468.5,379.9L468.8,379.9L469.1,379.8L469.4,379.6L469.7,379.3L470.0,379.5L470.3,379.5L470.6,379.5L470.9,379.4L471.2,379.8L471.5,379.6L471.8,379.3L472.1,379.4L472.4,379.3L472.7,379.8L473.0,379.2L473.3,379.6L473.6,379.3L473.9,379.3L474.2,379.5L474.5,379.4L474.8,379.1L475.1,379.4L475.4,379.3L475.7,379.6L476.0,379.3L476.3,379.5L476.6,379.4L476.9,379.6L477.2,379.5L477.5,379.5L477.8,379.3L478.1,379.1L478.4,379.1L478.7,379.2L479.0,379.2L479.3,379.6L479.6,379.1L479.9,379.3L480.2,379.7L480.5,379.4L480.8,379.3L481.1,379.1L481.4,379.2L481.7,379.6L482.0,379.4L482.3,379.6L482.6,379.4L482.9,379.4L483.2,379.2L483.5,379.2L483.8,379.6L484.1,379.4L484.4,379.6L484.7,379.7L485.0,379.4L485.3,379.7L485.6,379.5L485.9,379.3L486.2,379.5L486.5,379.0L486.8,379.8L487.1,379.4L487.4,379.8L487.7,379.4L488.0,379.8L488.3,379.3L488.6,379.7L488.9,379.4L489.2,379.7L489.5,379.7L489.8,379.7L490.1,379.7L490.4,379.7L490.7,379.6L491.0,379.4L491.3,379.6L491.6,379.4L491.9,379.4L492.2,379.6L492.5,379.9L492.8,379.6L493.1,379.7L493.4,379.8L493.7,379.6L494.0,379.7L494.3,379.4L494.6,379.7L494.9,379.9L495.2,379.7L495.5,379.4L495.8,379.5L496.1,379.6L496.4,379.6L496.7,379.9L497.0,379.6L497.3,379.6L497.6,379.4L497.9,379.3L498.2,379.1L498.5,379.8L498.8,379.9L499.1,379.2L499.4,379.7L499.7,379.7L500.0,379.7" fill="none" stroke="#128686" stroke-width="2.0" stroke-linejoin="round"/>
<path d="M228.6,379.6L228.6,379.5L229.2,379.5L229.8,379.5L230.4,379.6L231.0,379.5L231.6,379.3L232.2,379.6L232.8,379.5L233.4,379.6L234.0,379.6L234.6,379.2L235.2,379.4L235.8,378.9L236.4,378.8L237.0,378.8L237.6,378.3L238.2,379.0L238.8,378.9L239.4,378.9L240.0,378.8L240.6,379.0L241.2,378.7L241.8,379.3L242.4,379.2L243.0,379.3L243.6,378.9L244.2,378.8L244.8,378.6L245.4,378.9L246.0,378.5L246.6,378.5L247.2,378.9L247.8,379.1L248.4,378.9L249.0,379.2L249.6,379.3L250.2,379.4L250.8,379.5L251.4,379.6L252.0,379.1L252.6,379.3L253.2,379.4L253.8,379.6L254.4,379.4L255.0,379.6L255.6,379.6L256.2,379.6L256.8,379.6L257.4,379.6L257.4,379.6ZM262.5,379.6L262.5,379.5L263.1,379.3L263.7,379.3L264.3,378.9L264.9,378.6L265.5,378.7L266.1,378.3L266.7,377.5L267.3,376.5L267.9,374.2L268.5,370.3L269.1,367.3L269.7,365.8L270.3,365.7L270.9,367.1L271.5,369.1L272.1,364.9L272.7,364.3L273.3,365.5L273.9,373.4L274.5,378.9L275.1,379.3L275.7,379.6L276.3,379.6L276.9,379.3L277.5,379.4L278.1,379.6L278.1,379.6ZM343.5,379.6L343.5,379.6L344.1,379.6L344.7,379.6L345.3,379.4L345.9,379.6L346.5,379.4L347.1,379.5L347.7,379.6L348.3,379.3L348.9,379.5L349.5,379.5L350.1,379.6L350.7,379.4L351.3,379.2L351.9,379.2L352.5,379.3L353.1,379.3L353.7,379.4L354.3,379.3L354.9,379.3L355.5,379.5L356.1,379.4L356.7,379.4L357.3,378.8L357.9,379.6L358.5,379.4L359.1,379.4L359.7,379.4L360.3,379.6L360.9,379.4L361.5,379.4L362.1,379.2L362.7,379.6L363.3,379.5L363.9,379.6L364.5,379.6L365.1,379.6L365.7,379.4L366.3,379.5L366.9,379.5L367.5,379.6L368.1,379.5L368.7,379.3L369.3,379.2L369.9,379.1L370.5,378.7L371.1,378.9L371.7,379.2L372.3,379.1L372.9,379.1L373.5,379.2L374.1,379.1L374.7,379.2L375.3,379.2L375.9,379.6L376.5,379.5L377.1,379.6L377.7,379.5L378.3,379.4L378.9,379.6L379.5,379.5L380.1,379.4L380.7,379.5L381.3,379.6L381.9,379.1L382.5,379.5L383.1,379.6L383.7,379.5L384.3,379.6L384.9,379.5L385.5,379.1L386.1,379.5L386.7,379.2L387.3,379.4L387.6,379.6ZM439.1,379.6L439.1,379.6L439.7,379.5L440.3,379.6L440.9,379.3L441.5,379.6L442.1,379.5L442.7,379.5L443.3,379.6L443.9,379.6L444.5,379.5L445.1,379.5L445.7,379.6L446.3,379.4L446.9,379.2L447.5,379.4L448.1,379.4L448.7,379.3L449.3,379.2L449.9,379.6L450.5,379.4L451.1,379.6L451.7,379.6L452.3,379.5L452.9,379.5L453.5,379.5L454.1,379.6L454.7,379.6L455.3,379.6L455.9,379.6L456.5,379.5L457.1,379.5L457.7,379.6L458.3,379.4L458.9,379.1L459.5,379.5L460.1,379.4L460.7,379.3L461.3,379.2L461.9,379.6L462.5,379.3L463.1,379.4L463.7,379.5L464.3,379.5L464.9,379.5L465.5,379.4L466.1,379.6L466.7,379.5L467.3,379.3L467.9,379.6L468.5,379.6L469.1,379.6L469.7,379.3L470.3,379.5L470.9,379.4L471.5,379.6L472.1,379.4L472.7,379.6L473.3,379.6L473.9,379.3L474.5,379.4L475.1,379.4L475.7,379.6L476.3,379.5L476.9,379.6L477.5,379.5L478.1,379.1L478.7,379.2L479.3,379.6L479.9,379.3L480.5,379.4L481.1,379.1L481.7,379.6L482.3,379.6L482.9,379.4L483.5,379.2L484.1,379.4L484.7,379.6L485.3,379.6L485.9,379.3L486.5,379.0L487.1,379.4L487.7,379.4L488.3,379.3L488.9,379.4L489.5,379.6L490.1,379.6L490.7,379.6L491.3,379.6L491.9,379.4L492.5,379.6L493.1,379.6L493.7,379.6L494.3,379.4L494.3,379.6Z" fill="#128686" stroke="none"/>
<g stroke="#fff" stroke-opacity="0.45" stroke-width="0.9" stroke-dasharray="1 2.2" fill="none">
<line x1="270.90" y1="68.1" x2="270.90" y2="112.6"/>
<line x1="270.90" y1="133.9" x2="270.90" y2="179.4"/>
<line x1="270.90" y1="200.5" x2="270.90" y2="246.0"/>
<line x1="270.90" y1="275.6" x2="270.90" y2="312.3"/>
<line x1="270.90" y1="367.3" x2="270.90" y2="378.6"/>
</g>
<g stroke="#000" stroke-width="2" fill="none" stroke-linecap="butt">
<rect x="56.5" y="57.2" width="443.5" height="331.8"/>
<line x1="56.5" y1="123.7" x2="500.0" y2="123.7"/>
<line x1="56.5" y1="190.4" x2="500.0" y2="190.4"/>
<line x1="56.5" y1="257.0" x2="500.0" y2="257.0"/>
<line x1="56.5" y1="323.1" x2="500.0" y2="323.1"/>
</g>
<g stroke="#000" stroke-width="1.9" fill="none">
<line x1="84.22" y1="57.2" x2="84.22" y2="64.0"/>
<line x1="84.22" y1="123.7" x2="84.22" y2="116.9"/>
<line x1="84.22" y1="190.4" x2="84.22" y2="183.6"/>
<line x1="84.22" y1="257.0" x2="84.22" y2="250.2"/>
<line x1="84.22" y1="323.1" x2="84.22" y2="316.3"/>
<line x1="84.22" y1="389.0" x2="84.22" y2="382.2"/>
<line x1="118.87" y1="57.2" x2="118.87" y2="60.800000000000004"/>
<line x1="118.87" y1="123.7" x2="118.87" y2="120.10000000000001"/>
<line x1="118.87" y1="190.4" x2="118.87" y2="186.8"/>
<line x1="118.87" y1="257.0" x2="118.87" y2="253.4"/>
<line x1="118.87" y1="323.1" x2="118.87" y2="319.5"/>
<line x1="118.87" y1="389.0" x2="118.87" y2="385.4"/>
<line x1="153.52" y1="57.2" x2="153.52" y2="64.0"/>
<line x1="153.52" y1="123.7" x2="153.52" y2="116.9"/>
<line x1="153.52" y1="190.4" x2="153.52" y2="183.6"/>
<line x1="153.52" y1="257.0" x2="153.52" y2="250.2"/>
<line x1="153.52" y1="323.1" x2="153.52" y2="316.3"/>
<line x1="153.52" y1="389.0" x2="153.52" y2="382.2"/>
<line x1="188.16" y1="57.2" x2="188.16" y2="60.800000000000004"/>
<line x1="188.16" y1="123.7" x2="188.16" y2="120.10000000000001"/>
<line x1="188.16" y1="190.4" x2="188.16" y2="186.8"/>
<line x1="188.16" y1="257.0" x2="188.16" y2="253.4"/>
<line x1="188.16" y1="323.1" x2="188.16" y2="319.5"/>
<line x1="188.16" y1="389.0" x2="188.16" y2="385.4"/>
<line x1="222.81" y1="57.2" x2="222.81" y2="64.0"/>
<line x1="222.81" y1="123.7" x2="222.81" y2="116.9"/>
<line x1="222.81" y1="190.4" x2="222.81" y2="183.6"/>
<line x1="222.81" y1="257.0" x2="222.81" y2="250.2"/>
<line x1="222.81" y1="323.1" x2="222.81" y2="316.3"/>
<line x1="222.81" y1="389.0" x2="222.81" y2="382.2"/>
<line x1="257.46" y1="57.2" x2="257.46" y2="60.800000000000004"/>
<line x1="257.46" y1="123.7" x2="257.46" y2="120.10000000000001"/>
<line x1="257.46" y1="190.4" x2="257.46" y2="186.8"/>
<line x1="257.46" y1="257.0" x2="257.46" y2="253.4"/>
<line x1="257.46" y1="323.1" x2="257.46" y2="319.5"/>
<line x1="257.46" y1="389.0" x2="257.46" y2="385.4"/>
<line x1="292.11" y1="57.2" x2="292.11" y2="64.0"/>
<line x1="292.11" y1="123.7" x2="292.11" y2="116.9"/>
<line x1="292.11" y1="190.4" x2="292.11" y2="183.6"/>
<line x1="292.11" y1="257.0" x2="292.11" y2="250.2"/>
<line x1="292.11" y1="323.1" x2="292.11" y2="316.3"/>
<line x1="292.11" y1="389.0" x2="292.11" y2="382.2"/>
<line x1="326.76" y1="57.2" x2="326.76" y2="60.800000000000004"/>
<line x1="326.76" y1="123.7" x2="326.76" y2="120.10000000000001"/>
<line x1="326.76" y1="190.4" x2="326.76" y2="186.8"/>
<line x1="326.76" y1="257.0" x2="326.76" y2="253.4"/>
<line x1="326.76" y1="323.1" x2="326.76" y2="319.5"/>
<line x1="326.76" y1="389.0" x2="326.76" y2="385.4"/>
<line x1="361.41" y1="57.2" x2="361.41" y2="64.0"/>
<line x1="361.41" y1="123.7" x2="361.41" y2="116.9"/>
<line x1="361.41" y1="190.4" x2="361.41" y2="183.6"/>
<line x1="361.41" y1="257.0" x2="361.41" y2="250.2"/>
<line x1="361.41" y1="323.1" x2="361.41" y2="316.3"/>
<line x1="361.41" y1="389.0" x2="361.41" y2="382.2"/>
<line x1="396.05" y1="57.2" x2="396.05" y2="60.800000000000004"/>
<line x1="396.05" y1="123.7" x2="396.05" y2="120.10000000000001"/>
<line x1="396.05" y1="190.4" x2="396.05" y2="186.8"/>
<line x1="396.05" y1="257.0" x2="396.05" y2="253.4"/>
<line x1="396.05" y1="323.1" x2="396.05" y2="319.5"/>
<line x1="396.05" y1="389.0" x2="396.05" y2="385.4"/>
<line x1="430.70" y1="57.2" x2="430.70" y2="64.0"/>
<line x1="430.70" y1="123.7" x2="430.70" y2="116.9"/>
<line x1="430.70" y1="190.4" x2="430.70" y2="183.6"/>
<line x1="430.70" y1="257.0" x2="430.70" y2="250.2"/>
<line x1="430.70" y1="323.1" x2="430.70" y2="316.3"/>
<line x1="430.70" y1="389.0" x2="430.70" y2="382.2"/>
<line x1="465.35" y1="57.2" x2="465.35" y2="60.800000000000004"/>
<line x1="465.35" y1="123.7" x2="465.35" y2="120.10000000000001"/>
<line x1="465.35" y1="190.4" x2="465.35" y2="186.8"/>
<line x1="465.35" y1="257.0" x2="465.35" y2="253.4"/>
<line x1="465.35" y1="323.1" x2="465.35" y2="319.5"/>
<line x1="465.35" y1="389.0" x2="465.35" y2="385.4"/>
<line x1="56.5" y1="113.60" x2="63.1" y2="113.60"/>
<line x1="500.0" y1="113.60" x2="493.4" y2="113.60"/>
<line x1="56.5" y1="102.15" x2="60.1" y2="102.15"/>
<line x1="500.0" y1="102.15" x2="496.4" y2="102.15"/>
<line x1="56.5" y1="90.70" x2="63.1" y2="90.70"/>
<line x1="500.0" y1="90.70" x2="493.4" y2="90.70"/>
<line x1="56.5" y1="79.25" x2="60.1" y2="79.25"/>
<line x1="500.0" y1="79.25" x2="496.4" y2="79.25"/>
<line x1="56.5" y1="67.80" x2="63.1" y2="67.80"/>
<line x1="500.0" y1="67.80" x2="493.4" y2="67.80"/>
<line x1="56.5" y1="180.40" x2="63.1" y2="180.40"/>
<line x1="500.0" y1="180.40" x2="493.4" y2="180.40"/>
<line x1="56.5" y1="168.82" x2="60.1" y2="168.82"/>
<line x1="500.0" y1="168.82" x2="496.4" y2="168.82"/>
<line x1="56.5" y1="157.24" x2="63.1" y2="157.24"/>
<line x1="500.0" y1="157.24" x2="493.4" y2="157.24"/>
<line x1="56.5" y1="145.66" x2="60.1" y2="145.66"/>
<line x1="500.0" y1="145.66" x2="496.4" y2="145.66"/>
<line x1="56.5" y1="134.08" x2="63.1" y2="134.08"/>
<line x1="500.0" y1="134.08" x2="493.4" y2="134.08"/>
<line x1="56.5" y1="247.00" x2="63.1" y2="247.00"/>
<line x1="500.0" y1="247.00" x2="493.4" y2="247.00"/>
<line x1="56.5" y1="235.42" x2="60.1" y2="235.42"/>
<line x1="500.0" y1="235.42" x2="496.4" y2="235.42"/>
<line x1="56.5" y1="223.84" x2="63.1" y2="223.84"/>
<line x1="500.0" y1="223.84" x2="493.4" y2="223.84"/>
<line x1="56.5" y1="212.26" x2="60.1" y2="212.26"/>
<line x1="500.0" y1="212.26" x2="496.4" y2="212.26"/>
<line x1="56.5" y1="200.68" x2="63.1" y2="200.68"/>
<line x1="500.0" y1="200.68" x2="493.4" y2="200.68"/>
<line x1="56.5" y1="313.30" x2="63.1" y2="313.30"/>
<line x1="500.0" y1="313.30" x2="493.4" y2="313.30"/>
<line x1="56.5" y1="301.72" x2="60.1" y2="301.72"/>
<line x1="500.0" y1="301.72" x2="496.4" y2="301.72"/>
<line x1="56.5" y1="290.14" x2="63.1" y2="290.14"/>
<line x1="500.0" y1="290.14" x2="493.4" y2="290.14"/>
<line x1="56.5" y1="278.56" x2="60.1" y2="278.56"/>
<line x1="500.0" y1="278.56" x2="496.4" y2="278.56"/>
<line x1="56.5" y1="266.98" x2="63.1" y2="266.98"/>
<line x1="500.0" y1="266.98" x2="493.4" y2="266.98"/>
<line x1="56.5" y1="379.60" x2="63.1" y2="379.60"/>
<line x1="500.0" y1="379.60" x2="493.4" y2="379.60"/>
<line x1="56.5" y1="368.02" x2="60.1" y2="368.02"/>
<line x1="500.0" y1="368.02" x2="496.4" y2="368.02"/>
<line x1="56.5" y1="356.44" x2="63.1" y2="356.44"/>
<line x1="500.0" y1="356.44" x2="493.4" y2="356.44"/>
<line x1="56.5" y1="344.86" x2="60.1" y2="344.86"/>
<line x1="500.0" y1="344.86" x2="496.4" y2="344.86"/>
<line x1="56.5" y1="333.28" x2="63.1" y2="333.28"/>
<line x1="500.0" y1="333.28" x2="493.4" y2="333.28"/>
</g>
<text x="416.6" y="78.0" font-size="15.5" text-anchor="middle">27 ms</text>
<text x="420.0" y="95.1" font-size="15.5" text-anchor="middle">1500 cycles</text>
<text x="415.5" y="143.7" font-size="15.5" text-anchor="middle">40 ms</text>
<text x="417.9" y="161.2" font-size="15.5" text-anchor="middle">960 cycles</text>
<text x="415.5" y="212.0" font-size="15.5" text-anchor="middle">66 ms</text>
<text x="417.9" y="229.5" font-size="15.5" text-anchor="middle">600 cycles</text>
<text x="413.5" y="277.6" font-size="15.5" text-anchor="middle">133 ms</text>
<text x="418.7" y="294.4" font-size="15.5" text-anchor="middle">300 cycles</text>
<text x="412.3" y="342.5" font-size="15.5" text-anchor="middle">400 ms</text>
<text x="412.3" y="358.8" font-size="15.5" text-anchor="middle">99 cycles</text>
<rect x="74" y="337" width="36" height="17" fill="#fff"/>
<g stroke="#000" stroke-width="2.3" fill="#000">
<line x1="69.8" y1="339" x2="69.8" y2="352"/>
<path d="M69.8,333.8 L65.5,342 L74.1,342 Z" stroke="none"/>
<path d="M69.8,357 L65.5,348.8 L74.1,348.8 Z" stroke="none"/>
</g>
<text x="75.0" y="351.7" font-size="17.3" text-anchor="start">0.07</text>
<text x="84.6" y="408.8" font-size="18.2" text-anchor="middle">1000</text>
<text x="153.9" y="408.8" font-size="18.2" text-anchor="middle">1500</text>
<text x="223.2" y="408.8" font-size="18.2" text-anchor="middle">2000</text>
<text x="292.5" y="408.8" font-size="18.2" text-anchor="middle">2500</text>
<text x="361.8" y="408.8" font-size="18.2" text-anchor="middle">3000</text>
<text x="431.1" y="408.8" font-size="18.2" text-anchor="middle">3500</text>
<text x="500.1" y="408.8" font-size="18.2" text-anchor="middle">4000</text>
<text x="184.6" y="430.6" font-size="21.6">Wavenumber (cm<tspan font-size="13" dy="-8.5">-1</tspan><tspan dy="8.5">)</tspan></text>
<text transform="translate(40.3,276.6) rotate(-90)" font-size="21.6">Absorbance</text>
<text x="-0.3" y="53.8" font-size="21.4" text-anchor="start">(a)</text>
<text x="6.0" y="471.3" font-size="21.4" text-anchor="start">(b)</text>
<text transform="translate(68.9,57.5) rotate(-31)" font-size="18.3">O<tspan font-size="10.4" dy="6.3">3</tspan><tspan dy="-6.3">/CH</tspan><tspan font-size="10.4" dy="6.3">3</tspan><tspan dy="-6.3">OH</tspan></text>
<text transform="translate(114.0,55.4) rotate(-31)" font-size="18.3">CH<tspan font-size="10.4" dy="7.8">4</tspan></text>
<text transform="translate(152.6,57.6) rotate(-31)" font-size="18.3">H<tspan font-size="10.4" dy="6.3">2</tspan><tspan dy="-6.3">O</tspan></text>
<text transform="translate(183.0,56.8) rotate(-31)" font-size="18.3">CH<tspan font-size="10.4" dy="6.3">2</tspan><tspan dy="-6.3">O</tspan></text>
<text transform="translate(235.0,57.5) rotate(-31)" font-size="18.3">CO</text>
<text transform="translate(261.8,57.2) rotate(-31)" font-size="18.3">CO<tspan font-size="10.4" dy="6.3" dx="2.2">2</tspan></text>
<text transform="translate(318.0,57.1) rotate(-31)" font-size="18.3">CH<tspan font-size="10.4" dy="6.3">2</tspan><tspan dy="-6.3">O</tspan></text>
<text transform="translate(361.3,55.7) rotate(-31)" font-size="18.3">CH<tspan font-size="10.4" dy="6.3">4</tspan></text>
<text transform="translate(451.5,54.8) rotate(-31)" font-size="18.3">H<tspan font-size="10.4" dy="6.3">2</tspan><tspan dy="-6.3">O</tspan></text>
<path d="M98.21,748.34C100.28,742.34 106.50,723.39 110.64,712.37C114.78,701.35 118.93,691.60 123.07,682.21C127.21,672.82 131.19,664.71 135.50,656.03C139.80,647.34 144.42,638.40 148.88,630.11C153.34,621.82 157.01,614.24 162.26,606.30C167.52,598.37 174.21,589.33 180.43,582.50C186.64,575.66 192.06,570.82 199.55,565.30C207.04,559.79 215.32,554.09 225.36,549.43C235.40,544.78 245.75,540.66 259.78,537.40C273.80,534.14 292.92,531.74 309.49,529.86C326.06,527.99 342.95,526.97 359.20,526.16C375.45,525.34 391.07,525.19 407.00,524.97C422.93,524.75 446.83,524.86 454.80,524.84" fill="none" stroke="#000" stroke-width="2.1"/>
<path d="M98.21,789.20C100.28,788.04 104.43,784.33 110.64,782.20C116.85,780.06 125.94,777.92 135.50,776.38C145.06,774.83 157.32,773.95 168.00,772.94C178.68,771.92 183.61,771.62 199.55,770.29C215.48,768.97 236.99,767.21 263.60,765.00C290.21,762.80 327.33,759.71 359.20,757.07C391.07,754.42 438.87,750.46 454.80,749.13" fill="none" stroke="#3558b4" stroke-width="1.6"/>
<path d="M98.21,790.13C100.28,789.47 104.43,787.49 110.64,786.16C116.85,784.84 125.94,783.83 135.50,782.20C145.06,780.56 157.32,778.14 168.00,776.38C178.68,774.61 183.61,773.38 199.55,771.62C215.48,769.85 236.99,768.18 263.60,765.80C290.21,763.42 327.33,760.11 359.20,757.33C391.07,754.55 438.87,750.50 454.80,749.13" fill="none" stroke="#e51e2a" stroke-width="1.6"/>
<path d="M98.21,741.84L104.71,748.34L98.21,754.84L91.71,748.34Z" fill="#000"/>
<path d="M110.64,705.87L117.14,712.37L110.64,718.87L104.14,712.37Z" fill="#000"/>
<path d="M135.50,649.53L142.00,656.03L135.50,662.53L129.00,656.03Z" fill="#000"/>
<path d="M199.55,558.80L206.05,565.30L199.55,571.80L193.05,565.30Z" fill="#000"/>
<path d="M454.80,518.34L461.30,524.84L454.80,531.34L448.30,524.84Z" fill="#000"/>
<circle cx="98.21" cy="789.20" r="4.9" fill="#3558b4"/>
<circle cx="110.64" cy="782.20" r="4.9" fill="#3558b4"/>
<circle cx="135.50" cy="776.38" r="4.9" fill="#3558b4"/>
<circle cx="199.55" cy="770.29" r="4.9" fill="#3558b4"/>
<circle cx="454.80" cy="749.13" r="4.9" fill="#3558b4"/>
<path d="M98.21,784.52L104.11,794.55L92.31,794.55Z" fill="#e51e2a"/>
<path d="M110.64,780.56L116.54,790.59L104.74,790.59Z" fill="#e51e2a"/>
<path d="M135.50,776.59L141.40,786.62L129.60,786.62Z" fill="#e51e2a"/>
<path d="M199.55,766.01L205.45,776.04L193.65,776.04Z" fill="#e51e2a"/>
<path d="M454.80,743.53L460.70,753.56L448.90,753.56Z" fill="#e51e2a"/>
<g stroke="#000" stroke-width="2" fill="none">
<rect x="72.4" y="488.6" width="430.20000000000005" height="317.4"/>
</g><g stroke="#000" stroke-width="1.7" fill="none">
<line x1="96.30" y1="488.6" x2="96.30" y2="492.20000000000005"/>
<line x1="96.30" y1="806.0" x2="96.30" y2="802.4"/>
<line x1="120.20" y1="488.6" x2="120.20" y2="495.40000000000003"/>
<line x1="120.20" y1="806.0" x2="120.20" y2="799.2"/>
<line x1="144.10" y1="488.6" x2="144.10" y2="492.20000000000005"/>
<line x1="144.10" y1="806.0" x2="144.10" y2="802.4"/>
<line x1="168.00" y1="488.6" x2="168.00" y2="495.40000000000003"/>
<line x1="168.00" y1="806.0" x2="168.00" y2="799.2"/>
<line x1="191.90" y1="488.6" x2="191.90" y2="492.20000000000005"/>
<line x1="191.90" y1="806.0" x2="191.90" y2="802.4"/>
<line x1="215.80" y1="488.6" x2="215.80" y2="495.40000000000003"/>
<line x1="215.80" y1="806.0" x2="215.80" y2="799.2"/>
<line x1="239.70" y1="488.6" x2="239.70" y2="492.20000000000005"/>
<line x1="239.70" y1="806.0" x2="239.70" y2="802.4"/>
<line x1="263.60" y1="488.6" x2="263.60" y2="495.40000000000003"/>
<line x1="263.60" y1="806.0" x2="263.60" y2="799.2"/>
<line x1="287.50" y1="488.6" x2="287.50" y2="492.20000000000005"/>
<line x1="287.50" y1="806.0" x2="287.50" y2="802.4"/>
<line x1="311.40" y1="488.6" x2="311.40" y2="495.40000000000003"/>
<line x1="311.40" y1="806.0" x2="311.40" y2="799.2"/>
<line x1="335.30" y1="488.6" x2="335.30" y2="492.20000000000005"/>
<line x1="335.30" y1="806.0" x2="335.30" y2="802.4"/>
<line x1="359.20" y1="488.6" x2="359.20" y2="495.40000000000003"/>
<line x1="359.20" y1="806.0" x2="359.20" y2="799.2"/>
<line x1="383.10" y1="488.6" x2="383.10" y2="492.20000000000005"/>
<line x1="383.10" y1="806.0" x2="383.10" y2="802.4"/>
<line x1="407.00" y1="488.6" x2="407.00" y2="495.40000000000003"/>
<line x1="407.00" y1="806.0" x2="407.00" y2="799.2"/>
<line x1="430.90" y1="488.6" x2="430.90" y2="492.20000000000005"/>
<line x1="430.90" y1="806.0" x2="430.90" y2="802.4"/>
<line x1="454.80" y1="488.6" x2="454.80" y2="495.40000000000003"/>
<line x1="454.80" y1="806.0" x2="454.80" y2="799.2"/>
<line x1="478.70" y1="488.6" x2="478.70" y2="492.20000000000005"/>
<line x1="478.70" y1="806.0" x2="478.70" y2="802.4"/>
<line x1="72.4" y1="779.55" x2="76.0" y2="779.55"/>
<line x1="502.6" y1="779.55" x2="499.0" y2="779.55"/>
<line x1="72.4" y1="753.10" x2="79.2" y2="753.10"/>
<line x1="502.6" y1="753.10" x2="495.8" y2="753.10"/>
<line x1="72.4" y1="726.65" x2="76.0" y2="726.65"/>
<line x1="502.6" y1="726.65" x2="499.0" y2="726.65"/>
<line x1="72.4" y1="700.20" x2="79.2" y2="700.20"/>
<line x1="502.6" y1="700.20" x2="495.8" y2="700.20"/>
<line x1="72.4" y1="673.75" x2="76.0" y2="673.75"/>
<line x1="502.6" y1="673.75" x2="499.0" y2="673.75"/>
<line x1="72.4" y1="647.30" x2="79.2" y2="647.30"/>
<line x1="502.6" y1="647.30" x2="495.8" y2="647.30"/>
<line x1="72.4" y1="620.85" x2="76.0" y2="620.85"/>
<line x1="502.6" y1="620.85" x2="499.0" y2="620.85"/>
<line x1="72.4" y1="594.40" x2="79.2" y2="594.40"/>
<line x1="502.6" y1="594.40" x2="495.8" y2="594.40"/>
<line x1="72.4" y1="567.95" x2="76.0" y2="567.95"/>
<line x1="502.6" y1="567.95" x2="499.0" y2="567.95"/>
<line x1="72.4" y1="541.50" x2="79.2" y2="541.50"/>
<line x1="502.6" y1="541.50" x2="495.8" y2="541.50"/>
<line x1="72.4" y1="515.05" x2="76.0" y2="515.05"/>
<line x1="502.6" y1="515.05" x2="499.0" y2="515.05"/>
</g>
<text x="68.6" y="812.6" font-size="17.9" text-anchor="end">0.0</text>
<text x="68.6" y="759.5" font-size="17.9" text-anchor="end">0.2</text>
<text x="68.6" y="706.3" font-size="17.9" text-anchor="end">0.4</text>
<text x="68.6" y="653.2" font-size="17.9" text-anchor="end">0.6</text>
<text x="68.6" y="600.0" font-size="17.9" text-anchor="end">0.8</text>
<text x="68.6" y="546.9" font-size="17.9" text-anchor="end">1.0</text>
<text x="68.6" y="493.8" font-size="17.9" text-anchor="end">1.2</text>
<text x="72.4" y="827.3" font-size="18.3" text-anchor="middle">0</text>
<text x="120.2" y="827.3" font-size="18.3" text-anchor="middle">50</text>
<text x="168.0" y="827.3" font-size="18.3" text-anchor="middle">100</text>
<text x="215.8" y="827.3" font-size="18.3" text-anchor="middle">150</text>
<text x="263.6" y="827.3" font-size="18.3" text-anchor="middle">200</text>
<text x="311.4" y="827.3" font-size="18.3" text-anchor="middle">250</text>
<text x="359.2" y="827.3" font-size="18.3" text-anchor="middle">300</text>
<text x="407.0" y="827.3" font-size="18.3" text-anchor="middle">350</text>
<text x="454.8" y="827.3" font-size="18.3" text-anchor="middle">400</text>
<text x="501.4" y="827.3" font-size="18.3" text-anchor="middle">450</text>
<text x="194.6" y="856" font-size="21.6">Exposure time (ms)</text>
<text transform="translate(33.9,761.8) rotate(-90)" font-size="21.8">Normalized absorbance</text>
<rect x="348.8" y="580.5" width="87" height="82" fill="#fff" stroke="#111" stroke-width="1.1"/>
<line x1="350.5" y1="593" x2="395" y2="593" stroke="#000" stroke-width="2.2"/>
<path d="M372.50,586.20L379.30,593.00L372.50,599.80L365.70,593.00Z" fill="#000"/>
<line x1="350.5" y1="621.3" x2="395" y2="621.3" stroke="#3558b4" stroke-width="1.6"/>
<circle cx="372.5" cy="621.3" r="5.2" fill="#3558b4"/>
<line x1="350.5" y1="645" x2="395" y2="645" stroke="#e51e2a" stroke-width="1.6"/>
<path d="M372.50,637.83L379.00,648.88L366.00,648.88Z" fill="#e51e2a"/>
<text x="398.4" y="600" font-size="18.2">CO<tspan font-size="10.8" dy="6.6">2</tspan></text>
<text x="398.4" y="628.2" font-size="18.2">CO</text>
<text x="398.4" y="651.2" font-size="18.2">CH<tspan font-size="10.8" dy="6.2">4</tspan></text>
</svg>
</body></html>
